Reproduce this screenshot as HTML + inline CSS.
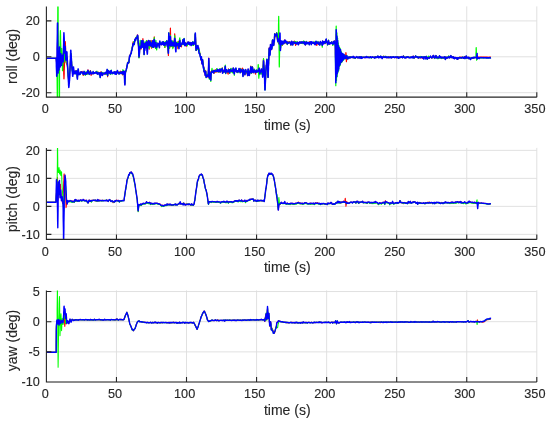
<!DOCTYPE html>
<html><head><meta charset="utf-8"><title>attitude</title>
<style>html,body{margin:0;padding:0;background:#fff}svg{display:block}</style>
</head><body>
<svg width="550" height="421" viewBox="0 0 550 421">
<rect width="550" height="421" fill="#fff"/>
<defs>
<clipPath id="c0"><rect x="46.40" y="6.40" width="490.40" height="90.75"/></clipPath>
<clipPath id="c1"><rect x="46.40" y="147.90" width="490.40" height="91.50"/></clipPath>
<clipPath id="c2"><rect x="46.40" y="290.40" width="490.40" height="91.60"/></clipPath>
</defs>
<path d="M116.46,6.40V97.15M186.51,6.40V97.15M256.57,6.40V97.15M326.63,6.40V97.15M396.69,6.40V97.15M466.74,6.40V97.15M536.80,6.40V97.15M46.40,20.90H536.80M46.40,56.80H536.80M46.40,92.70H536.80" stroke="#dedede" stroke-width="0.9" fill="none"/>
<g clip-path="url(#c0)" fill="none" stroke-linejoin="round">
<path d="M46.4 58.3l.2 0 .2 0 .2 0 .2 0 .2 0 .2 0 .2 0 .2 0 .2 0 .2 0 .2 0 .2 0 .2 0 .1 0 .2 0 .2 0 .2 0 .2 0 .2 0 .2 0 .2 0 .2 0 .2 0 .2 0 .2 0 .2 0 .2 0 .2 0 .2 0 .2 0 .2 0 .2 0 .2 0 .2 0 .2 0 .2 0 .2 0 .2 0 .2 0 .1 0 .2 0 .2 0 .2 0 .2 0 .2 0 .2 0 .2 0 .2 0 .1 0 .1 0 0 0 .1 0 .1 0 0 .3 .1 .8 .1 .7 0 .8 .1 .8 .1 .8 .1 .7 0 .8 .1 .8 .1 .8 0 .7 .1 .8 .1-1 0-3.6 .1-3.5 .1-3.6 .1-3.6 0-3.6 .1-3.6 .1-3.6 0-1 .1 2.9 .1 2.8 0 2.9 .1 2.9 .1 2.9 .1 2.8 0 2.9 .1 2.9 .1 2.8 0 1.1 .1-1.6 .1-1.6 0-1.6 .1-1.6 .1-1.7 .1-1.6 0-1.6 .1-1.6 .1-1.6 0-.8 .1 .6 .1 .5 0 .5 .1 .6 .1 .5 .1 .6 0 .5 .1 .5 .1 .6 0 .5 .1 .6 .1 .5 0 .5 .1 .6 .1 .5 .1 .5 0 .6 .1 .5 .1 .6 0 .1 .1-.4 .1-.5 0-.4 .1-.5 .1-.4 .1-.5 0-.4 .1-.5 .1-.4 0-.5 .1-.4 .1-.5 .1-.4 0-.5 .1-.4 .1-.5 0-.4 .1-.5 .1-.4 0-.1 .1 .3 .1 .4 .1 .3 0 .4 .1 .3 .1 .4 0 .4 .1 .3 .1 .4 0 .3 .1 .4 .1 .4 .1 .3 0 .4 .1 .3 .1 .4 0 .4 .1 .3 .1 .4 0 .9 .1 1.8 .1 1.7 .1 1.8 0 1.7 .1 1.8 .1 1.8 0 1.7 .1 1.8 .1 1.8 0 1.7 .1 .1 .1-2.4 .1-2.4 0-2.4 .1-2.5 .1-2.4 0-2.4 .1-2.4 .1-2.4 0-2.4 .1-2.4 .1-2.1 .1-1.6 0-1.5 .1-1.6 .1-1.5 0-1.6 .1-1.5 .1-1.5 0-.1 .1 2.1 .1 2.2 .1 2.1 0 2.1 .1 2.2 .1 2.1 0 2.1 .1 2.2 .1 2.1 0 1.4 .1 .1 .1 .2 .1 .2 0 .2 .1 .2 .1 .1 0 .2 .1 .2 .1 .2 0 .2 .1 .1 .1 .2 .1 .2 0 .2 .1 .1 .1 .2 0 .2 .1 .2 .1 .2 0 .4 .1 .9 .1 .9 .1 .9 0 .9 .1 .9 .1 .9 0 .9 .1 .9 .1 .9 0 .9 .1 .9 .1 .9 .1 .9 0 .9 .1 .9 .1 .9 0 .9 .1 .9 .1 .9 0 .2 .1-.8 .1-.8 .1-.8 0-.8 .1-.8 .1-.8 0-.9 .1-.8 .1-.8 0-.8 .1-.8 .1-.8 .1-.8 0-.8 .1-.8 .1-.8 0-.8 .1-.8 .1-.8 0-1.1 .1-1.4 .1-1.5 .1-1.4 0-1.4 .1-1.5 .1-1.4 0-1.5 .1-1.4 .1-1.4 0-.5 .1 1 .1 1 .1 1 0 1.1 .1 1 .1 1 0 1 .1 1 .1 1 0 1 .1 1 .1 1 .1 1 0 1 .1 1.1 .1 .6 0 .2 .1 .2 .1 .2 0 .2 .1 .2 .1 .2 .1 .1 0 .2 .1 .2 .1 .2 0 .2 .1 .2 .1 .2 0 .2 .1 .1 .1 .2 .1 .2 0 .2 .1 .2 .1 .2 0 .2 .1 .2 .1 .1 .1 .1 0 0 .1-.1 .1 0 0-.1 .1 0 .1-.1 0 0 .1-.1 .1 0 .1-.1 0 0 .1-.1 .1 0 0-.1 .1 0 .1-.1 0 0 .1-2.2 .1 0 .1 0 0 .1 .1 0 .1 .1 0 0 .1 .4 .1 .4 0 .4 .1 .4 .1 .3 .1 .2 .1-.5 .2-.6 .2-.8 .2-.5 .2 1.4 .2 1.5 .2 2.6 .2 1.7 .2-2.9 .2-2.5 .2-.8 .2-.5 .2 .5 .2 .5 .2 1.1 .2 .8 .2-.3 .2-.2 .2 .1 .2 .1 .2 .2 .2 0 .2-1 .2-.8 .2 .1 .2 0 .1-.4 .2-.3 .2 .3 .2 .1 .2-.3 .2-.2 .2 .7 .2 .7 .2 .2 .2 .4 .2 1.1 .2 .9 .2-1 .2-.9 .2-.9 .2-.7 .2 .7 .2 .6 .2 .2 .2 .2 .2 .2 .2 .2 .2-.4 .2-.5 .2-.6 .2-.4 .1 .5 .2 .6 .2 .7 .2 .4 .2-.9 .2-.7 .2 .5 .2 .1 .2-2 .2-1.6 .2 1.4 .2 1.1 .2-.4 .2-.2 .2 .8 .2 .6 .2-.5 .2-.4 .2 .3 .2 0 .2-1.1 .2-.8 .2 1.1 .2 1.1 .2 1.4 .2 1.1 .1-1 .2-1 .2-.1 .2-.2 .2-.1 .2 0 .2 .6 .2 .3 .2-.7 .2-.5 .2 .6 .2 .4 .2-.5 .2-.4 .2 .1 .2 .1 .2-.1 .2-.1 .2 .1 .2 .1 .2 0 .2-.1 .2-.3 .2-.3 .2 .2 .2 0 .1 0 .2 .1 .2 .2 .2 .3 .2 .6 .2 .4 .2-.4 .2-.5 .2-.6 .2-.5 .2 .4 .2 .4 .2 .4 .2 .4 .2 .3 .2 .2 .2-.8 .2-.5 .2 1.5 .2 1.2 .2-.4 .2-.5 .2-1.7 .2-1.2 .2 1.6 .2 1.3 .1-.7 .2-.6 .2-.1 .2 .1 .2 1 .2 .7 .2-.7 .2-.5 .2-.2 .2-.2 .2-.1 .2-.1 .2 .2 .2 .1 .2 .1 .2 .1 .2 .2 .2 .2 .2-.5 .2-.4 .2 .6 .2 .3 .2-.8 .2-.7 .2-.2 .2-.2 .1 .1 .2 0 .2-1.6 .2-.8 .2 3.9 .2 2.9 .2-2.7 .2-2.4 .2-.5 .2-.4 .2 .9 .2 .8 .2 .7 .2 .6 .2-.7 .2-.6 .2-.2 .2-.1 .2 .9 .2 .6 .2-1 .2-.9 .2-.7 .2-.4 .2 1.6 .2 1.3 .1-.1 .2-.1 .2 0 .2 0 .2-.1 .2 0 .2 .1 .2 0 .2-.3 .2-.3 .2-.2 .2-.1 .2-.1 .2 .1 .2 .6 .2 .5 .2-.3 .2-.2 .2 .2 .2 0 .2-.9 .2-.5 .2 1.2 .2 .9 .2-1.1 .2-.9 .1 .7 .2 .4 .2-.8 .2-.7 .2 .6 .2 .4 .2-.2 .2-.2 .2 .1 .2 .1 .2 .8 .2 .7 .2 0 .2-.1 .2-1 .2-.9 .2 .3 .2 .2 .2-.7 .2-.4 .2 .9 .2 .8 .2-.1 .2-.2 .2-.5 .2-.4 .1 .8 .2 .9 .2 1 .2 .5 .2-1.9 .2-1.5 .2 1.7 .2 1.2 .2-1.6 .2-1.3 .2 .3 .2 .3 .2 .2 .2 4.6 .2 5.8 .2 1.5 .2-5.3 .2-5 .2-2 .2-.1 .2-.4 .2-.5 .2-1.1 .2-1.2 .2-1 .2-1 .1-.5 .2-.7 .2-.8 .2-.8 .2-.4 .2-.4 .2-.7 .2-.5 .2 .6 .2 .3 .2-1.6 .2-1.6 .2-1.8 .2-1.6 .2 0 .2-.2 .2-.9 .2-.8 .2-.4 .2-.5 .2-.5 .2-.6 .2-.8 .2-.9 .2-.6 .2-.7 .1-.9 .2-1 .2-.8 .2-1.1 .2-2.1 .2-1.5 .2 1.6 .2 1.2 .2-1 .2-.9 .2 .2 .2 0 .2-1.5 .2-1.1 .2-.5 .2-.5 .2 0 .2-.1 .2-.8 .2-.7 .2-.2 .2-.2 .2 0 .2 0 .2 .5 .2 .1 .2-1.6 .1-1.4 .2 .6 .2 1.9 .2 3.1 .2 2.9 .2 .5 .2 3 .2 5.3 .2 5.2 .2-2 .2-1.4 .2-4.4 .2-2.7 .2-1.8 .2-1.9 .2-.1 .2 .4 .2 3.3 .2 2.3 .2-3.5 .2-2.9 .2 1.4 .2 1.2 .2 .1 .2 .1 .2-.3 .1-.8 .2-3.3 .2-2.4 .2 3.1 .2 2.8 .2 1 .2 1.5 .2 4.1 .2 2.9 .2-4.5 .2-4 .2-1.1 .2-.8 .2 1.1 .2 .9 .2-.2 .2-.3 .2-.1 .2-.4 .2-2.3 .2-1.7 .2 2.3 .2 2.6 .2 4.1 .2 2.7 .2-4.9 .1-4.3 .2-1.3 .2-1.1 .2 .1 .2 .1 .2 .3 .2 .9 .2 4.1 .2 2.9 .2-4.5 .2-3.9 .2 0 .2 .2 .2 1.9 .2 1.8 .2 1.5 .2 .6 .2-3.7 .2-2.6 .2 4.3 .2 3.4 .2-2 .2-1.6 .2 .5 .2 .2 .2-2 .1-1.6 .2 .4 .2 .5 .2 .7 .2 .7 .2 .5 .2-.2 .2-4.4 .2-3 .2 5.7 .2 4.4 .2-.6 .2-.3 .2 .9 .2 .4 .2-2.8 .2-1.8 .2 2.2 .2 1.7 .2 .2 .2-.1 .2-.5 .2-.5 .2-.9 .2-.7 .2-.3 .1-.2 .2 .4 .2 .2 .2-.5 .2-.4 .2 .4 .2 .6 .2 1.4 .2 1 .2-2.4 .2-2 .2 .5 .2 .5 .2 .2 .2 .1 .2-.1 .2 .1 .2 .5 .2 .5 .2-.5 .2-.4 .2-.2 .2-.2 .2-.2 .2-.2 .2 .3 .1 .2 .2-.6 .2-.4 .2 1.3 .2 1 .2-.9 .2-.8 .2 .4 .2 .7 .2 1.9 .2 1.4 .2-2.3 .2-2.1 .2-.5 .2-.4 .2 .9 .2 .7 .2-.3 .2-.4 .2-1.2 .2-.8 .2 1.9 .2 2.7 .2 .7 .2 .7 .2-.1 .1 .3 .2 5.1 .2 3.1 .2-9.5 .2-7.8 .2 1.6 .2 1.8 .2 3.1 .2 2.6 .2-.2 .2-1.6 .2-9.9 .2-7.4 .2 8.1 .2 7.1 .2 1.9 .2 1.3 .2-2.4 .2-2 .2 .1 .2 0 .2 .3 .2 .3 .2 .2 .2 .4 .2 2.3 .1 1.5 .2-3.6 .2-2.7 .2 2.1 .2 1.9 .2 1 .2-.1 .2-6.9 .2-5.2 .2 4.2 .2 3.9 .2 1.6 .2 1.4 .2 .8 .2 .4 .2-2.3 .2-1.7 .2 1.8 .2 1.6 .2 .6 .2 .3 .2-1.3 .2-.8 .2 2.7 .2 1.7 .2-4.1 .1-3.2 .2 2.6 .2 2 .2-1.1 .2-1.1 .2-1.1 .2-1.2 .2-1.2 .2-.4 .2 2.2 .2 1.6 .2 .7 .2 .3 .2-.5 .2-.1 .2 1.6 .2 1.2 .2-1.4 .2-1.2 .2-.3 .2-.4 .2-.6 .2-.7 .2-1.5 .2-.9 .2 1.9 .1 1.5 .2-1.1 .2-1.1 .2-1.1 .2-.6 .2 2.6 .2 2.4 .2 .6 .2 .4 .2-.5 .2-.6 .2-.9 .2-.5 .2 1.7 .2 1.5 .2 .1 .2-.1 .2-1.3 .2-1 .2 .3 .2 .2 .2-.9 .2-.9 .2-.3 .2-.2 .2 1.2 .1 .9 .2-.5 .2-.3 .2 .6 .2 .4 .2 .1 .2-.1 .2-.4 .2-.5 .2-.3 .2-.1 .2 .7 .2 .6 .2 .5 .2 .3 .2-.9 .2-.6 .2 .8 .2 .6 .2-1.3 .2-1.1 .2 0 .2 0 .2 .4 .2 .5 .2 .9 .1 .7 .2-.5 .2-.6 .2-.7 .2-.7 .2-.2 .2-.1 .2 .8 .2-7.7 .2-1.3 .2 4.2 .2 4.8 .2 4.7 .2 2.6 .2-1.5 .2-1.2 .2-1.1 .2-.7 .2 0 .2 1.5 .2 1.1 .2-.7 .2-.6 .2 .4 .2 .5 .2 .3 .1 .4 .2 .8 .2 .8 .2 1.1 .2 1 .2 .1 .2 .2 .2 1 .2 .9 .2 1.4 .2 1.4 .2 1.6 .2 1.1 .2-1.5 .2-.9 .2 3 .2 2.6 .2-.3 .2-.4 .2-1.3 .2-.9 .2 2.2 .2 1.9 .2 1 .2 .8 .2 0 .1 .4 .2 2.9 .2 2.3 .2-.7 .2-.5 .2 1 .2 1.1 .2 1.7 .2 1.1 .2-2.8 .2-2.4 .2 2.4 .2 2.1 .2-.2 .2 .1 .2 1.1 .2 .8 .2-1.2 .2-.9 .2 .6 .2 .6 .2 .6 .2 .6 .2-3.3 .2-4.6 .2-7.5 .1-3.5 .2 7.1 .2 7.3 .2 5.2 .2 .1 .2-.8 .2-1.1 .2-2.6 .2-1.6 .2 4.3 .2 3.1 .2-4 .2-2.8 .2 0 .2-.2 .2-1.1 .2-.8 .2 .7 .2 .7 .2 0 .2-.1 .2-.7 .2-.5 .2 1.1 .2 1 .2 .2 .1 .2 .2 .3 .2 0 .2-1.4 .2-1.2 .2 .1 .2 0 .2-.6 .2-.2 .2 1.4 .2 1 .2-1.6 .2-1.3 .2 .5 .2 .6 .2 .9 .2 .6 .2-1.2 .2-.9 .2 .3 .2 .2 .2 0 .2 0 .2 .6 .2 .6 .2 .3 .1 .1 .2-1.1 .2-1 .2-.3 .2 0 .2 1.4 .2 1 .2-1.5 .2-1.2 .2 1.4 .2 1.1 .2-.8 .2-.6 .2 0 .2-.2 .2-1.3 .2-1 .2 1.8 .2 1.4 .2-.8 .2-.5 .2 1.5 .2 1.1 .2-1.1 .2-.9 .2 .5 .1 .4 .2 .2 .2 .1 .2-.8 .2-1 .2-2 .2-1.2 .2 3.8 .2 3.1 .2-1.2 .2-1.2 .2-.6 .2-.5 .2 .5 .2 .4 .2 .6 .2 .5 .2 .3 .2 .5 .2 .9 .2 .4 .2-2.9 .2-2.3 .2 .6 .2 .8 .2 1.2 .1 1.1 .2 .3 .2 .1 .2-1.2 .2-.9 .2 .3 .2 .2 .2-1.1 .2-.8 .2 .6 .2 .5 .2 .6 .2 .3 .2-.6 .2-.4 .2 .9 .2 .6 .2-1 .2-1 .2-1.2 .2-.7 .2 2.6 .2 2 .2-1.7 .2-1.2 .2 1.7 .1 1.3 .2-1.5 .2-1.3 .2 .1 .2 .2 .2 .5 .2 .2 .2-1.3 .2-.9 .2 1.6 .2 1.4 .2-.1 .2-.1 .2 .1 .2-.1 .2-.3 .2-.2 .2 .8 .2 .5 .2-.9 .2-.7 .2 .3 .2 0 .2-1.1 .2-1 .2-.2 .1 .1 .2 1.5 .2 1.3 .2 0 .2-.2 .2-1.7 .2-1.4 .2 .5 .2 .7 .2 1.1 .2 1 .2 .1 .2 .1 .2-.7 .2-.9 .2-1.4 .2-.7 .2 4.3 .2 3.4 .2-2.6 .2-2.2 .2 .2 .2 .2 .2-.2 .2-.2 .2-.3 .1 0 .2 2.2 .2 1.8 .2-1.3 .2-1.2 .2-1.1 .2-.7 .2 1.6 .2 1.1 .2-1.1 .2-.9 .2 .4 .2 .4 .2 .3 .2 .4 .2 1.8 .2 1.1 .2-3.4 .2-2.9 .2 .3 .2 .6 .2 2.6 .2 2.2 .2 .3 .2-.1 .2-2 .1-1.8 .2 0 .2-.2 .2-.5 .2-.8 .2-2.3 .2-1.4 .2 3.7 .2 3.1 .2 0 .2-.2 .2-1.8 .2-1.7 .2-1.6 .2-1.2 .2 1.4 .2 1.5 .2 2 .2 1.5 .2-.8 .2-.9 .2-.4 .2-.5 .2-.5 .2-.3 .2 .6 .1 .5 .2 0 .2 .3 .2 1.8 .2 1.4 .2-1.2 .2-1.1 .2 .2 .2 0 .2-1 .2-.7 .2 .3 .2 .3 .2 .6 .1 .2 0 .2 .1-.1 .1-.2 .1-.3 0-.3 .1-.3 .1-.3 0 .1 .1 0 .1 .1 0 0 .1 .1 .1 .1 .1 .2 0 .1 .1 .2 .1 .1 0 .2 .1-.5 .1-.6 0-.7 .1-.6 .1-.6 .1-.5 0 .6 .1 .5 .1 .6 0 .5 .1 .6 .1 .5 0 .4 .1 .5 .1 .5 .1 .5 0 .5 .1-.6 .1-.5 0-.6 .1-.5 .1-.6 0-.3 .1 .2 .1 .2 .1 .1 0 .2 .1 .2 .1-.2 0-.4 .1-.3 .1-.3 0-.3 .1-.3 .1 .1 .1 0 0 0 .1 0 .1 0 0 .1 .1 .2 .1 .2 0 .2 .1 .2 .1 .2 .1-.2 0-.1 .1 .1 .1 0 0 .1 .1 .3 .1 .7 0 .6 .1 .7 .1 .7 .1 .6 0 .2 .1 0 .1-.7 0-1.8 .1-1.9 .1-1.7 0-1.2 .1-1.2 .1-1.2 .1-1.2 0-1.1 .1-1.5 .1-1.8 0-.5 .1 1.4 .1 1.3 0 1.4 .1 1.5 .1 1.5 .1 1.5 0 1.4 .1 1.5 .1 1.4 0 1 .1 .9 .1 .7 0 .7 .1 .6 .1 2.1 .1 2.4 0 2.4 .1 2.3 .1 2.4 0 1.9 .1 0 .1 .1 0-.8 .1-2.2 .1-2.1 .1-1.7 0-1.5 .1-1.5 .1-1.5 0-1.5 .1-1.4 .1-1.9 0-1.7 .1-1.8 .1-1.7 .1-1.5 0-1 .1-.1 .1-.1 0-.1 .1-.1 .1-.2 0-.7 .1-1 .1-.9 .1-.9 0-.9 .1-.9 .1 .1 0 1.5 .1 1.6 .1 1.5 0 1.5 .1 1.1 .1 .7 .1 .8 0 .7 .1 .5 .1 .5 0 1.4 .1 1.5 .1 1.4 0 1.4 .1 1.4 .1 0 .1-2 0-2.1 .1-2 .1-2.1 0-2 .1-2.1 .1-2 0-1.9 .1-1.7 .1-1.6 .1-1.7 0-1.8 .1-1.8 .1-1.7 0-1.8 .1-1 .1 .5 0 .6 .1 .5 .1 .5 .1 .6 0 .5 .1 .9 .1 .8 0 .8 .1 .3 .1-.4 .1-.8 0-1 .1-1.1 .1-1.1 0-1.1 .1-1.1 .1-.8 0-.7 .1-.3 .1 .4 .1 .4 0 .3 .1 .2 .1 .2 0 .1 .1 .2 .1 .2 0 .5 .1 .7 .1 .6 .1 .4 0-.1 .1 0 .1-.5 0-.5 .1-.4 .1-.5 0-.5 .1-.6 .1-.9 .1-.9 0-.9 .1-.9 .1-.9 0-.7 .1-.6 .1-.5 0 0 .1-.1 .1 0 .1 .6 0 .5 .1 .6 .1 .5 0 .6 .1 .4 .1 .4 0 .3 .1 .4 .1 .3 .1 .4 0-.1 .1-.3 .1-.6 0-.6 .1-.5 .1-.6 0-.4 .1-.4 .1-.4 .1-.4 0-.5 .1-1 .1-1.2 0-1.2 .1-1.2 .1-1.2 0-.9 .1 .1 .1 .2 .1 .3 0 .3 .1 .2 .1 .4 0 .3 .1 .4 .1 .3 0 .4 .1 .3 .1-.1 .1-.2 0-.2 .1-.1 .1-.2 0-.1 .1 0 .1-.1 0-.2 .1-.2 .1-.2 .1-.5 0-.6 .1-.6 .1-.6 0-.3 .1 .3 .1 .4 0 .5 .1 .4 .1 .4 .1 .5 0 .6 .1 .8 .1 .8 0 .7 .1 .8 .1 .8 0 .6 .1 .4 .1 .3 .1 .3 0 .3 .1 .1 .1 0 0-.1 .1-.1 .1 0 0-.1 .1 .4 .1 .5 .1 .4 0 .5 .1 .4 .1 .3 0-.3 .1-.3 .1-.3 0-.3 .1-.4 .1 0 .1 .1 0 .2 .1 .1 .1 .2 0 .1 .1 .1 .1 0 0 0 .1 .1 .1 0 .1 0 0-.1 .1-.1 .1-.1 0-.1 .1-.1 .1-.1 0-.1 .1-.1 .1 0 .1-.1 0 0 .1 .1 .1 0 0 .1 .1 .1 .1 .1 0 0 .1 0 .1 0 .1-.1 0 0 .1 0 .1-.2 0-.2 .1-.2 .1-.1 0-.2 .1 .2 .1 .7 .1 .7 0 .7 .1 .7 .1 .7 0-.1 .1-.2 .1-.2 .1-.2 0-.2 .1-.2 .1-.3 0-.3 .1-.3 .1-.2 0-.3 .1-.1 .1-.1 .1 0 0 0 .2 .1 .2 .5 .2 .1 .2-.7 .2-.9 .2-1.4 .2-.4 .2 2 .2 1.2 .2-.6 .2-.4 .2 .2 .2 0 .2-.5 .2-.2 .2 .8 .2 .2 .2-1.2 .1-.2 .2 2 .2 1.1 .2-1.2 .2-.8 .2 .6 .2 .1 .2-.8 .2-.3 .2 .7 .2 .2 .2-.9 .2-.4 .2 .7 .2 .4 .2-.4 .2-.2 .2 .4 .2 .6 .2 1.4 .2 .6 .2-1.5 .2-1.2 .2-.7 .2-.2 .2 1.2 .1 .7 .2-.5 .2 0 .2 1.2 .2 .4 .2-1.6 .2-.9 .2 .6 .2 .4 .2 .1 .2-.3 .2-1.3 .2-.5 .2 1.3 .2 .7 .2-.9 .2 0 .2 2.1 .2 1.1 .2-1.2 .2-.8 .2 .2 .2 .1 .2-.3 .2-.4 .2-.5 .1-.3 .2 .4 .2 .3 .2-.1 .2 .1 .2 .8 .2 .6 .2 0 .2-.2 .2-.7 .2-.5 .2-.2 .2-.1 .2-.2 .2-.2 .2 0 .2 0 .2 .2 .2 .3 .2 .5 .2 .3 .2-.3 .2-.4 .2-.6 .2-.2 .2 .8 .1 .5 .2 0 .2-.2 .2-.7 .2-.4 .2 .6 .2 .3 .2-.4 .2-.1 .2 .8 .2 .4 .2-.5 .2-.1 .2 .5 .2 .5 .2 .8 .2 .3 .2-.8 .2-.8 .2-1.2 .2-.8 .2 .3 .2 .4 .2 .8 .2 .5 .2-.2 .1-.2 .2-.2 .2-.1 .2 .1 .2 0 .2 .2 .2 .1 .2 .1 .2 .2 .2 .5 .2-.1 .2-1.4 .2-.8 .2 .8 .2 .6 .2 .1 .2 .2 .2 .1 .2 .1 .2 0 .2-.1 .2 0 .2-.1 .2 .1 .2 0 .2-.3 .1-.2 .2-.1 .2-.1 .2 .2 .2 .2 .2 .4 .2 0 .2-.8 .2-.6 .2 .2 .2 .3 .2 .9 .2 .7 .2 .4 .2 0 .2-.9 .2-.9 .2-.7 .2-.3 .2 .4 .2 .9 .2 1.6 .2 .8 .2-1.4 .2-1 .2 .2 .1 .2 .2 0 .2 .1 .2-.1 .2-.1 .2-.4 .2 0 .2 1.1 .2 .3 .2-1.4 .2-.6 .2 1.7 .2 .7 .2-1.6 .2-.9 .2 .6 .2 .3 .2-.5 .2-.1 .2 .7 .2 .3 .2-.7 .2 .1 .2 1.8 .2 .6 .2-2.7 .1-1.7 .2 .5 .2 .5 .2 .6 .2 .2 .2-.5 .2-.4 .2 .1 .2 .2 .2 .4 .2 .4 .2 .4 .2 .3 .2-.3 .2-.6 .2-1.5 .2-1.3 .2-.5 .2 .1 .2 1.5 .2 1.1 .2 .1 .2 .2 .2 .2 .2 .4 .2 1.1 .1 .4 .2-.8 .2-1 .2-1.7 .2-.7 .2 1.9 .2 1.4 .2 .2 .2 .1 .2 .1 .2-.2 .2-.9 .2-.5 .2 .5 .2 .3 .2 .1 .2 .1 .2-.1 .2-.3 .2-.8 .2-.4 .2 .7 .2 .6 .2 .4 .2 .4 .2 .6 .1 .2 .2-.7 .1-.2 .1-.2 .1-.4 0-.4 .1-.3 .1-.4 0-.3 .1-.1 .1 .2 0 .3 .1 .3 .1 .3 .1 .2 0-.3 .1-.4 .1-.4 0-.4 .1-.4 .1-.3 0 .3 .1 .3 .1 .3 .1 .3 0 .3 .1 .2 .1 .2 0 .2 .1 .3 .1 .6 0 .8 .1 .3 .1 .3 .1 3.9 0 3.2 .1 3.2 .1 3.4 0 3.6 .1 3.7 .1 3.7 0 3.7 .1 3.7 .1-1.6 .1-9.6 0-9.6 .1-9.9 .1-10.1 0-2.4 .1 9.2 .1 9.3 0 9.2 .1 9.2 .1 2.4 .1-8 0-7.9 .1-7.9 .1-7.9 0-1.8 .1 7.5 .1 7 0 7.1 .1 7.1 .1 1.6 .1-6.6 0-6.5 .1-6.1 .1-6.2 0-1.2 .1 6.1 .1 6.1 0 5.9 .1 5.9 .1 1.5 .1-5 0-5.2 .1-5.1 .1-5.1 0-1.2 .1 4.7 .1 4.6 .1 4.7 0 4.5 .1 .9 .1-4.3 0-4.3 .1-4.3 .1-4.3 0-1.2 .1 3.5 .1 3.4 .1 3.5 0 3.4 .1 .9 .1-3 0-3.1 .1-3 .1-3 0-.6 .1 3 .1 3 .1 3 0 2.9 .1 .8 .1-2.7 0-3.1 .1-3.1 .1-3.2 0-1.1 .1 1.8 .1 2.5 .1 2.8 0 2.9 .1 1 .1-1.5 0-1.6 .1-2.1 .1-2 0-.6 .1 1.9 .1 1.8 .1 1.9 0 1.9 .1 .5 .1-1.6 0-1.6 .1-1.6 .1-1.7 0-.4 .1 1.4 .1 1.4 .1 1.4 0 1.4 .1 .3 .1-1.4 0-1.4 .1-1.4 .1-1.4 0-.3 .1 1.2 .1 1.3 .1 1.2 0 1.2 .1 .4 .1-.9 0-.8 .1-.9 .1-.9 0 0 .1 .9 .1 .7 .1 .7 0 .7 .1 0 .1-1.1 0-1 .1-.9 .1-1 0-.3 .1 .6 .1 .7 .1 .9 0 1 .1 .4 .1-.5 0-.5 .1-.6 .1-.8 0-.3 .1 .5 .1 .5 .1 .5 0 .6 .1 .2 .1-.4 0-.5 .1-.4 .1-.6 0-.2 .1 .3 .1 .4 .1-.9 0-.8 .1-.9 .1-.8 0-.8 .1 .6 .1 1.7 0 1.7 .1 1.7 .1 1.6 .1 1.7 0 .2 .1-.9 .1-.8 0-.8 .1-.9 .1-.8 0-1.3 .1 .4 .1 .4 .1 .4 0 .4 .1 .1 .1-.2 0-.1 .1-.2 .1-.2 0 0 .1 .4 .1 .3 .1 .3 0 .3 .1 .1 .1-.1 0-.2 .1-.2 .1-.4 0-.2 .1 0 .1-.1 .1 0 0 .2 .1 .1 .1-.1 0-.2 .1-.1 .1-.1 0-.1 .1 .1 .1 .2 .2 .3 .2-.4 .2-.2 .2 .5 .2 .1 .2-.8 .2-.3 .2 .7 .2 .2 .2 0 .1-.1 .2 0 .2-.1 .2-.1 .2-.1 .2 .3 .2 .2 .2 0 .2-.1 .2-.6 .2-.4 .2 .5 .2 .5 .2 .1 .2 .2 .2-.1 .2 0 .2-.1 .2-.1 .2 .5 .2 .4 .2-.2 .2-.3 .2-.4 .2-.4 .2 .1 .1 .1 .2-.1 .2-.1 .2 .1 .2 .1 .2 .1 .2 .2 .2-.3 .2-.3 .2 .4 .2 .4 .2-.3 .2-.2 .2 .1 .2 .2 .2-.1 .2-.1 .2-.4 .2-.4 .2 .1 .2 0 .2 .5 .2 .5 .2 0 .2 0 .2-.3 .1-.3 .2 .1 .2 0 .2 0 .2 0 .2 0 .2 .1 .2 .1 .2 .1 .2-.1 .2-.1 .2-.1 .2 0 .2 0 .2 .1 .2 0 .2-.1 .2 .4 .2 .2 .2-.3 .2-.2 .2 0 .2 .1 .2-.1 .2-.1 .2-.2 .1-.1 .2 .1 .2 .1 .2-.1 .2-.1 .2 .3 .2 .2 .2-.1 .2-.1 .2 .2 .2 .2 .2-.4 .2-.3 .2 .3 .2 .3 .2-.1 .2 0 .2-.2 .2-.1 .2 0 .2 0 .2 .1 .2 .1 .2 .1 .2 .1 .2 0 .1 .1 .2-.1 .2-.1 .2-.2 .2-.1 .2 .1 .2 .2 .2-.1 .2 0 .2 .1 .2 .1 .2 0 .2-.1 .2-.3 .2-.2 .2 .5 .2 .5 .2-.4 .2-.3 .2 0 .2 .1 .2-.1 .2-.1 .2 .2 .2 0 .2-.1 .1-.1 .2 .1 .2 .1 .2-.1 .2-.1 .2-.5 .2-.4 .2 .4 .2 .3 .2 .3 .2 .3 .2-.2 .2-.2 .2-.2 .2-.1 .2 .3 .2 .3 .2-.2 .2-.2 .2-.4 .2-.2 .2 .3 .2 .4 .2 0 .2 0 .2 .1 .1 .1 .2 .6 .2 .5 .2-.7 .2-.7 .2 .3 .2 .2 .2-.3 .2-.4 .2-.3 .2-.3 .2 .4 .2 .5 .2 .1 .2 .1 .2-.1 .2-.1 .2-.1 .2-.1 .2-.3 .2-.2 .2 .6 .2 .6 .2-.1 .2 0 .2 0 .1 0 .2-.1 .2-.1 .2 0 .2 0 .2 .3 .2 .2 .2-.1 .2-.1 .2-.6 .2-.5 .2 .4 .2 .3 .2 0 .2-.1 .2 .1 .2 .1 .2-.2 .2-.3 .2 .1 .2 0 .2 .5 .2 .4 .2-.2 .2-.3 .2-.1 .1-.1 .2-.1 .2-.1 .2 .1 .2 .1 .2 .2 .2 .1 .2-.3 .2-.2 .2 .3 .2 .4 .2-.1 .2-.1 .2 0 .2 .1 .2-.2 .2-.2 .2 0 .2 .1 .2 0 .2 0 .2 .3 .2 .3 .2-.6 .2-.5 .2 .3 .1 .2 .2 .2 .2 .1 .2-.4 .2-.3 .2 .5 .2 .5 .2 .2 .2 .2 .2-.8 .2-.8 .2 .5 .2 .5 .2 0 .2 0 .2-.1 .2-.1 .2-.1 .2-.2 .2-.1 .2-.1 .2-.2 .2-.1 .2 .2 .2 .3 .2 .2 .1 .2 .2 .1 .2 .1 .2-.2 .2-.3 .2-.7 .2-.7 .2 .6 .2 .6 .2 .1 .2 .1 .2 0 .2 .1 .2 0 .2 0 .2 0 .2 .1 .2 .1 .2 .1 .2-.1 .2-.2 .2-.1 .2-.1 .2 .2 .2 .2 .2-.2 .1-.1 .2-.2 .2-.1 .2 0 .2 0 .2 .2 .2 .1 .2 0 .2-.1 .2 .1 .2 .1 .2 .1 .2 .1 .2-.1 .2 0 .2-.2 .2-.1 .2 .1 .2 .1 .2 .1 .2 .1 .2-.1 .2-.1 .2 .1 .2 .1 .2-.3 .1-.4 .2 0 .2-.1 .2-.3 .2-.3 .2 .8 .2 .7 .2 .3 .2 .3 .2-.4 .2-.3 .2-.3 .2-.2 .2-.1 .2-.1 .2-.3 .2-.3 .2 .4 .2 .4 .2 0 .2 0 .2-.1 .2 0 .2 .2 .2 .2 .2-.1 .1-.1 .2 .2 .2 .2 .2 .1 .2 .2 .2 .2 .2 .2 .2-.8 .2-.8 .2 .6 .2 .5 .2 0 .2-.1 .2-.4 .2-.3 .2 .5 .2 .5 .2-.1 .2-.1 .2-.5 .2-.5 .2 .3 .2 .2 .2 .6 .2 .5 .2-.2 .1-.3 .2-.4 .2-.3 .2 .1 .2 .2 .2-.3 .2-.2 .2-.1 .2-.1 .2 .2 .2 .3 .2 .4 .2 .3 .2-.5 .2-.5 .2 .8 .2 .7 .2-1.1 .2-1 .2 .3 .2 .2 .2 .3 .2 .3 .2 .6 .2 .6 .2-.7 .1-.5 .2 .5 .2 .4 .2-.4 .2-.3 .2-.1 .2-.1 .2 .4 .2 .2 .2-.2 .2-.1 .2-.3 .2-.3 .2-.3 .2-.3 .2 .2 .2 .3 .2 0 .2 .1 .2 .5 .2 .5 .2-.3 .2-.2 .2 0 .2 .1 .2-.5 .1-.5 .2-.5 .2-.5 .2-.1 .2-.1 .2 .8 .2 .7 .2 .7 .2 .6 .2-.6 .2-.5 .2 .2 .2 .1 .2 .2 .2 0 .2-1.1 .2-1 .2 1 .2 .9 .2-.1 .2 0 .2-.1 .2-.1 .2 .1 .2 0 .2 .6 .1 .5 .2-.5 .2-.5 .2-.1 .2-.1 .2 .5 .2 .3 .2-1 .2-1 .2 .8 .2 .6 .2-.2 .2-.2 .2 .2 .2 .2 .2 .4 .2 .3 .2-.2 .2-.3 .2-.2 .2-.2 .2 .5 .2 .5 .2-.2 .2-.1 .2-.3 .1-.2 .2 0 .2 .1 .2 .3 .2 .3 .2-.4 .2-.4 .2 0 .2 0 .2-.2 .2-.1 .2 1.3 .2 1.2 .2-1.3 .2-1.2 .2 .2 .2 .1 .2 .1 .2 .2 .2 .3 .2 .3 .2-.3 .2-.3 .2 0 .2-.1 .2-.3 .1-.3 .2-.3 .2-.2 .2 .7 .2 .6 .2 0 .2-.1 .2 0 .2-.1 .2-.5 .2-.4 .2 .3 .2 .2 .2-.7 .2-.6 .2 .8 .2 .8 .2 .1 .2 .1 .2-.5 .2-.5 .2 .5 .2 .5 .2-.2 .2-.1 .2 .4 .1 .4 .2-.8 .2-.6 .2 1 .2 .8 .2-.3 .2-.2 .2-.1 .2 0 .2-.1 .2-.1 .2-.1 .2 0 .2 .3 .2 .3 .2 0 .2 0 .2-.2 .2-.3 .2 .7 .2 .6 .2 .1 .2 .1 .2-.1 .2-.1 .2-.4 .2-.5 .1-.2 .2-.3 .2 .1 .2 .1 .2-.3 .2-.3 .2 0 .2 .1 .2 .4 .2 .3 .2-.3 .2-.3 .2-.2 .2-.2 .2 .5 .2 .4 .2-.1 .2-.1 .2 0 .2 0 .2-.2 .2-.2 .2 .1 .2 .1 .2 .4 .2 .4 .1-.2 .2-.1 .2-.2 .2-.2 .2-.6 .2-.5 .2 .9 .2 .9 .2-.7 .2-.6 .2 .3 .2 .2 .2-.7 .2-.5 .2 .9 .2 .9 .2 .1 .2 0 .2-.1 .2-.1 .2-.4 .2-.3 .2 .3 .2 .2 .2 .4 .2 .3 .1-.6 .2-.6 .2 .4 .2 .4 .2 .3 .2 .2 .2-.2 .2-.1 .2 .6 .2 .4 .2-.5 .2-.6 .2 0 .2 0 .2-.1 .2 0 .2-.2 .2-.1 .2-.1 .2-.1 .2 .4 .2 .4 .2-.2 .2-.2 .2-.2 .2-.1 .1-.2 .2-.1 .2 .2 .2 .2 .2-.1 .2-.1 .2 0 .1 0 .1 0 0 0 .1 0 .1 0 0 0 .1 0 .1 0 .1-.1 0 0 .1 0 .1-.1 0 0 .1 0 .1 .1 0 .1 .1 .1 .1 .1 .1 .1 0 .1 .1 0 .1 0 0-.1 .1 0 .1 0 0-.2 .1-.2 .1-.2 .1-.2 0-.1 .1-.1 .1 .1 0 .1 .1 0 .1 .1 0 .1 .1 .1 .1 0 .1 .1 0 .1 .1 0 .1-.6 0 .1 .1 .1 .1 0 0 .1 .1 .1 .1 0 .1-.1 0 0 .1 0 .1-.1 0 0 .1 .1 .1 .2 0 .1 .1 .2 .1 .1 .1 0 0-.2 .1-.1 .1-.2 0-.1 .1-.2 .1 0 0 0 .1 0 .1 0 .1 0 0 0 .1 0 .1 0 .2 .1 .2 0 .2 0 .2 0 .1-.1 .2 0 .2 .1 .2-.1 .2-.1 .2 0 .2 .2 .2 0 .2 0 .2-.1 .2 0 .2 0 .2 0 .2 .1 .2 0 .2 0 .2 0 .2 0 .2 0 .2 0 .2 0 .2 0 .2-.1 .2 0 .2 0 .2 .1 .1 0 .2 0 .2 0 .2 0 .2 0 .2 .1 .2 0 .2-.1 .2 0 .2 0 .2 .1 .2 0 .2 0 .2 0 .2-.1 .2 0 .2-.1 .2 .1 .2 .1 .2-.1 .2-.1 .2 .1 .2 0 .2 0 .2 0" stroke="#ff0000" stroke-width="1.20"/>
<path d="M46.4 58.3l.2 0 .2 0 .2 0 .2 0 .2 0 .2 0 .2 0 .2 0 .2 0 .2 0 .2 0 .2 0 .2 0 .1 0 .2 0 .2 0 .2 0 .2 0 .2 0 .2 0 .2 0 .2 0 .2 0 .2 0 .2 0 .2 0 .2 0 .2 0 .2 0 .2 0 .2 0 .2 0 .2 0 .2 0 .2 0 .2 0 .2 0 .2 0 .2 0 .1 0 .2 0 .2 0 .2 0 .2 0 .2 0 .2 0 .2 0 .2 0 .1 0 .1 0 0 0 .1 0 .1 0 0 .2 .1 .5 .1 .4 0 .5 .1 .5 .1 .5 .1 .4 0 .5 .1 .5 .1 .4 0 .5 .1 .5 .1 4.3 0 10.1 .1 10 .1 10.1 .1 10 0-1.6 .1-18.9 .1-19 0-19 .1-19 .1-18.9 0-17.4 .1 0 .1 3.3 .1 11.7 0 11.7 .1 11.6 .1 11.7 0 7.7 .1 1.8 .1 1.8 0 1.8 .1 1.8 .1 1.8 .1 .5 0-1.5 .1-1.5 .1-1.5 0-1.5 .1-1.5 .1 7.7 0 21.6 .1 21.5 .1 4.3 .1-16.5 0-18 .1-11.9 .1-2.9 0-2.8 .1-2.9 .1-2.9 0-2.9 .1-2.9 .1-2.9 .1-2.9 0-2.9 .1-2.8 .1-2.9 0-.5 .1 3.1 .1 3.1 0 3.1 .1 3.1 .1 3.1 .1 3.1 0 3.1 .1 3.1 .1 3.1 0 1.4 .1-1.3 .1-1.2 .1-1.3 0-1.2 .1-1.3 .1-1.3 0-1.2 .1-1.3 .1-1.2 0 .2 .1 2.3 .1 2.3 .1 2.4 0 2.3 .1 2.3 .1 2.4 0 2.3 .1 2.3 .1 2.4 0 .9 .1-1 .1-1.1 .1-1.1 0-1.1 .1-1.1 .1-1 0-1.1 .1-1.1 .1-1.1 0-1.3 .1-1.8 .1-1.8 .1-1.8 0-1.8 .1-1.8 .1-1.8 0-1.8 .1-1.8 .1-1.8 0-.5 .1 1.4 .1 1.4 .1 1.4 0 1.4 .1 1.5 .1 1.4 0 1.4 .1 1.4 .1 1.4 0 1.4 .1 1.4 .1 1.4 .1 1.4 0 .7 .1-.6 .1-.6 0-.5 .1-.6 .1-.5 0-.6 .1-.6 .1-.5 .1-.6 0-.5 .1-.6 .1-.6 0-.5 .1-.6 .1-.6 0 0 .1 .6 .1 .6 .1 .6 0 .7 .1 .6 .1 .6 0 .7 .1 .6 .1 .6 0 .6 .1 .7 .1 .6 .1 .6 0 .7 .1 .6 .1 .6 0 .6 .1 .7 .1 .6 0 .7 .1 .8 .1 .8 .1 .8 0 .8 .1 .8 .1 .8 0 .9 .1 .8 .1 .8 0 .8 .1 .8 .1 .8 .1 .8 0 .8 .1 .8 .1 .8 0 .8 .1 .8 .1 .8 0 .2 .1-.9 .1-.9 .1-.9 0-.9 .1-.9 .1-.9 0-.9 .1-.9 .1-.9 0-.9 .1-.9 .1-.9 .1-.9 0-.9 .1-.9 .1-.9 0-.9 .1-.9 .1-.9 0-.9 .1-.9 .1-.9 .1-.9 0-.9 .1-.9 .1-.9 0-.9 .1-.9 .1-.9 0-.9 .1-.9 .1 0 .1 1.1 0 1.1 .1 1.1 .1 1.1 0 1.2 .1 1.1 .1 1.1 0 1.1 .1 1.2 .1 1.1 .1 1.1 0 1.1 .1 1.1 .1 1.2 0 1.1 .1 .7 .1 .1 0 .1 .1 0 .1 .1 .1 .1 0 .1 .1 .1 .1 0 0 .1 .1 .1 .1 .1 0 .1 .1 .1 .1 0 .1 .1 0 .1 .1 .1 .1 .1 0 0 .1 .1 .1 .1 .1 .1 0 0 .1 0 .1 0 0 0 .1 0 .1 0 0 0 .1 0 .1 0 .1 0 0 0 .1 0 .1 0 0 0 .1 0 .1 0 0 0 .1-.7 .1-.2 .1-.3 0-.2 .1-.2 .1-.2 0-.2 .1 .6 .1 .6 0 .5 .1 .6 .1 .5 .1 .3 .1-.9 .2-.8 .2-.8 .2-.6 .2 1.2 .2 1.3 .2 2.9 .2 1.9 .2-3.5 .2-3.1 .2-1.2 .2-.8 .2 1.5 .2 1.4 .2 1.1 .2 .8 .2-.1 .2-.1 .2 .2 .2 .2 .2-.1 .2-.2 .2-1 .2-.8 .2 .2 .2 .1 .1-.5 .2-.4 .2 .3 .2 .3 .2 0 .2 .1 .2 .4 .2 .3 .2 0 .2 .1 .2 .6 .2 .5 .2-.4 .2-.6 .2-1.2 .2-.9 .2 .7 .2 .6 .2 .8 .2 .8 .2 .6 .2 .3 .2-1 .2-1.1 .2-.9 .2-.7 .1 .6 .2 .6 .2 1 .2 .6 .2-.8 .2-.6 .2 .6 .2 .2 .2-1.8 .2-1.3 .2 1.6 .2 1.2 .2-.8 .2-.4 .2 1.2 .2 1.1 .2-.5 .2-.4 .2-.5 .2-.6 .2-.9 .2-.7 .2 1.2 .2 1.1 .2 0 .2 0 .1 .2 .2 0 .2-.3 .2-.2 .2 .4 .2 .3 .2-.2 .2-.3 .2-.8 .2-.5 .2 .6 .2 .5 .2 .5 .2 .2 .2-.4 .2-.5 .2-.2 .2-.1 .2 .4 .2 .3 .2-.4 .2-.3 .2-.3 .2-.1 .2 .5 .2 .4 .1-.4 .2-.5 .2-.6 .2-.3 .2 1.4 .2 1.2 .2-.3 .2-.4 .2-.2 .2-.2 .2-.1 .2 .1 .2 1 .2 .8 .2-.4 .2-.4 .2-.5 .2 0 .2 2.6 .2 1.9 .2-1.9 .2-1.7 .2-.6 .2-.4 .2 .7 .2 .4 .1-1.2 .2-1 .2 .9 .2 .9 .2 .8 .2 .5 .2-1.5 .2-1.1 .2 .7 .2 .6 .2 0 .2 0 .2-.1 .2 0 .2-.3 .2-.2 .2 0 .2 0 .2-.4 .2-.2 .2 .8 .2 .5 .2-.4 .2-.3 .2 .7 .2 .5 .1-1 .2-1.1 .2-1.6 .2-1 .2 3.5 .2 2.6 .2-2.4 .2-2.1 .2-.6 .2-.4 .2 .6 .2 .7 .2 1.2 .2 .9 .2-.6 .2-.5 .2-.4 .2-.2 .2 .8 .2 .7 .2 .7 .2 .2 .2-2.5 .2-1.8 .2 1.6 .2 1.3 .1 .1 .2 0 .2 .3 .2 .3 .2-.4 .2-.3 .2 .4 .2 .2 .2-.1 .2-.2 .2-.2 .2-.3 .2-.6 .2-.4 .2 .7 .2 .7 .2-.1 .2 0 .2-.3 .2-.3 .2-.2 .2-.1 .2 .6 .2 .6 .2-.2 .2-.2 .1 .2 .2 0 .2-.8 .2-.6 .2 .6 .2 .5 .2-.5 .2-.4 .2 .4 .2 .3 .2 .6 .2 .4 .2 .2 .2 .1 .2-1 .2-.7 .2 .3 .2 .2 .2-.5 .2-.3 .2 .5 .2 .5 .2 0 .2 0 .2-.4 .2-.3 .1 .5 .2 .5 .2 .6 .2 .1 .2-2.5 .2-1.8 .2 2.3 .2 1.7 .2-1.7 .2-1.3 .2 .8 .2 .8 .2 .3 .2 4.7 .2 5.1 .2 1 .2-4.8 .2-4.5 .2-2 .2-.1 .2-.8 .2-.8 .2-.8 .2-.8 .2-1 .2-1 .1-.6 .2-.7 .2-1.4 .2-1.2 .2 .2 .2 .1 .2-.9 .2-.7 .2 .9 .2 .5 .2-1.6 .2-1.7 .2-1.6 .2-1.4 .2 0 .2-.1 .2-1 .2-.8 .2-.4 .2-.3 .2-.5 .2-.6 .2-1 .2-1 .2-.6 .2-.8 .1-1.6 .2-1.5 .2 .2 .2-.1 .2-1.3 .2-1.1 .2-.2 .2-.3 .2-1.3 .2-.9 .2 1.7 .2 1.3 .2-2.2 .2-1.6 .2-.4 .2-.3 .2 .3 .2 .2 .2-1 .2-.9 .2-1 .2-.8 .2 0 .2 .1 .2 .7 .2 .4 .2-1.2 .1-1 .2-.1 .2 1.4 .2 3.9 .2 3.4 .2 .2 .2 2.6 .2 5.4 .2 5.3 .2-2.2 .2-2 .2-5.3 .2-3.9 .2-2.2 .2-2 .2 2 .2 2.2 .2 2.2 .2 1.5 .2-2.7 .2-2 .2 1.9 .2 1.2 .2-3.2 .2-2.4 .2 2.6 .1 1.8 .2-2.8 .2-2.1 .2 2.6 .2 2 .2-1.4 .2-.2 .2 6.4 .2 4.7 .2-5.2 .2-4.7 .2-1.7 .2-1.2 .2 2.2 .2 1.6 .2-1.5 .2-1.1 .2 1.5 .2 .9 .2-2.8 .2-2 .2 2.8 .2 2.9 .2 3.2 .2 2.2 .2-3.7 .1-3.4 .2-1.5 .2-1.2 .2 .3 .2 .5 .2 .8 .2 1 .2 2.3 .2 1.6 .2-2.4 .2-2.4 .2-1.8 .2-1.3 .2 2.2 .2 2 .2 .9 .2 .5 .2-1.5 .2-1 .2 2.1 .2 1.4 .2-2.9 .2-2.4 .2 1.3 .2 1.4 .2 1.8 .1 1.2 .2-2.4 .2-1.7 .2 1.5 .2 1 .2-1.6 .2-1.8 .2-3.1 .2-1.9 .2 4.6 .2 3.5 .2-.9 .2-.3 .2 2.6 .2 1.3 .2-4.9 .2-3.1 .2 3.9 .2 3.2 .2 1.8 .2 .8 .2-2.3 .2-1.9 .2-1.5 .2-1.2 .2 .2 .1 .3 .2 .4 .2 .2 .2-.4 .2-.2 .2 1.1 .2 1 .2 .9 .2 .3 .2-2.9 .2-2.3 .2 .5 .2 .5 .2 .4 .2 .3 .2-.4 .2-.2 .2 .6 .2 .5 .2 0 .2 0 .2-.2 .2-.4 .2-.8 .2-.5 .2 1.1 .1 .8 .2-1.3 .2-.9 .2 1.9 .2 1.4 .2-1.7 .2-1.4 .2 .8 .2 .9 .2 2.2 .2 1.5 .2-1.9 .2-1.8 .2-1.2 .2-.8 .2 1 .2 .9 .2 .5 .2 .1 .2-2.1 .2-1.4 .2 2 .2 3 .2 1 .2 1.1 .2-.3 .1 0 .2 4.1 .2 1.8 .2-11.6 .2-9 .2 6 .2 5.5 .2 2.4 .2 1.7 .2-2.1 .2-2.5 .2-5 .2-3.3 .2 5.8 .2 4.8 .2-.7 .2-.8 .2-1.4 .2-.9 .2 2.6 .2 1.7 .2-3.3 .2-2.3 .2 4.3 .2 3.4 .2-.9 .1-1.2 .2-2.9 .2-2.1 .2 2.1 .2 1.7 .2 .3 .2-.5 .2-5.3 .2-4.3 .2 2.5 .2 2.5 .2 2.2 .2 1.9 .2 .1 .2 0 .2-.8 .2-.8 .2-.3 .2 0 .2 2 .2 1.4 .2-2.5 .2-1.7 .2 2.3 .2 1.7 .2-1.9 .1-1.3 .2 2.5 .2 1.8 .2-2 .2-1.9 .2-1.5 .2-1.5 .2-1.8 .2-.5 .2 4.1 .2 3 .2 .4 .2 0 .2-.9 .2-.6 .2 .6 .2 .4 .2-.4 .2-.4 .2 0 .2-.1 .2-.4 .2-.6 .2-2 .2-1.3 .2 2.8 .1 2.1 .2-1.5 .2-1.5 .2-1.9 .2-1.3 .2 2.8 .2 2.5 .2 .7 .2 .5 .2-.8 .2-.8 .2 0 .2 0 .2 .6 .2 .5 .2-.6 .2-.4 .2-.1 .2 .1 .2 1.5 .2 1 .2-1.5 .2-1.4 .2-.4 .2-.2 .2 .6 .1 .6 .2-.2 .2-.1 .2 .5 .2 .4 .2-.2 .2-.2 .2-.1 .2-.2 .2 .1 .2 0 .2-.1 .2 .2 .2 1 .2 .7 .2-1.3 .2-1 .2 1.3 .2 1.1 .2-.6 .2-.6 .2-1.6 .2-1.2 .2 .7 .2 .8 .2 1.3 .1 1.1 .2-.2 .2-.5 .2-1.6 .2-1.2 .2 .8 .2 .7 .2-.2 .2-8.5 .2-1.2 .2 4.5 .2 5.4 .2 5.1 .2 2 .2-2 .2-1.1 .2-1.1 .2-.3 .2 .2 .2 2 .2 1.5 .2-2.2 .2-1.6 .2 1.2 .2 1 .2 .1 .1 .2 .2 .9 .2 .8 .2 .1 .2 .3 .2 1.4 .2 1.4 .2 1.2 .2 1.1 .2 .6 .2 .7 .2 1.6 .2 1.2 .2-1.5 .2-1 .2 2.5 .2 2.3 .2 .5 .2 .1 .2-1.6 .2-1.2 .2 1.5 .2 1.6 .2 2.5 .2 2.1 .2-.1 .1 .1 .2 2 .2 1.6 .2-1.5 .2-.8 .2 2.4 .2 2 .2-.9 .2-.7 .2-.2 .2-.1 .2 3.5 .2 2.8 .2-1.6 .2-1.2 .2 1.1 .2 .7 .2-1.2 .2-1.1 .2 .2 .2 .2 .2 .7 .2 .9 .2-2.3 .2-3.6 .2-6.8 .1-2.9 .2 7.2 .2 7.3 .2 4.2 .2-.8 .2 0 .2-.5 .2-3.3 .2-2 .2 5.1 .2 3.5 .2-5.4 .2-3.9 .2 .1 .2-.3 .2-2 .2-1.5 .2 1.7 .2 1.4 .2 .1 .2 .2 .2-.1 .2 0 .2 .2 .2 0 .2-.7 .1-.6 .2 .5 .2 .4 .2-.4 .2-.2 .2 .6 .2 .4 .2-.9 .2-.7 .2 .2 .2 .2 .2-.1 .2-.3 .2-.9 .2-.7 .2 1.4 .2 1.1 .2-.3 .2-.3 .2 .2 .2 .1 .2-.2 .2 0 .2 .8 .2 .7 .2-.2 .1-.3 .2-.6 .2-.6 .2-1.2 .2-.7 .2 1.6 .2 1.2 .2-1.2 .2-1 .2 .4 .2 .5 .2 .6 .2 .4 .2-.4 .2-.5 .2-1.3 .2-.7 .2 2.3 .2 1.9 .2-.7 .2-.5 .2 .2 .2 .1 .2-.6 .2-.4 .2 1 .1 .9 .2-.2 .2-.5 .2-1.8 .2-1.8 .2-1.9 .2-1 .2 4.7 .2 3.8 .2-1.7 .2-1.5 .2-.5 .2-.3 .2 1 .2 .8 .2 0 .2 0 .2 .3 .2 .2 .2-.1 .2-.2 .2-1.3 .2-1.1 .2 .2 .2 .1 .2 .3 .1 .5 .2 1.7 .2 1.4 .2-.6 .2-.6 .2-.2 .2-.4 .2-1.6 .2-1.5 .2-.3 .2 0 .2 1.9 .2 1.6 .2-.6 .2-.3 .2 1.2 .2 .8 .2-1.8 .2-1.6 .2-.1 .2 0 .2 1.2 .2 .8 .2-1.5 .2-.8 .2 3.6 .1 2.6 .2-2.7 .2-2.4 .2-.6 .2-.6 .2 .3 .2 .2 .2-.7 .2-.3 .2 1.8 .2 1.4 .2-.4 .2-.3 .2-.1 .2 0 .2 .3 .2 .5 .2 .7 .2 .4 .2-1.4 .2-1.1 .2 .6 .2 .3 .2-1.1 .2-1 .2 .5 .1 .5 .2 1.1 .2 .8 .2-.6 .2-.8 .2-1 .2-.8 .2 .6 .2 .6 .2 1 .2 .9 .2 0 .2-.1 .2-.7 .2-.7 .2-.6 .2 .1 .2 3.5 .2 2.5 .2-2.9 .2-2.6 .2-.3 .2-.1 .2 1 .2 .8 .2-.4 .1-.1 .2 1.6 .2 1.1 .2-1.5 .2-1.4 .2-.7 .2-.5 .2 .4 .2 .4 .2 .6 .2 .6 .2 .5 .2 .3 .2 0 .2 .2 .2 1.5 .2 .8 .2-2.7 .2-2.4 .2 .3 .2 .5 .2 1.9 .2 1.8 .2 .2 .2 0 .2-1.4 .1-1.4 .2-1.1 .2-.7 .2 1 .2 .5 .2-2.9 .2-1.9 .2 3.6 .2 3 .2-.9 .2-.9 .2-.5 .2-.8 .2-2 .2-1.5 .2 1.7 .2 1.6 .2 1.3 .2 .9 .2-1 .2-.9 .2 .1 .2 0 .2-.9 .2-.6 .2 .8 .1 .9 .2 .9 .2 .7 .2-.3 .2-.4 .2-.5 .2-.3 .2 .7 .2 .5 .2-.5 .2-.4 .2 .1 .2 .1 .2 .3 .1 .1 0 .1 .1 .1 .1 0 .1 .1 0 .1 .1 0 .1-1.5 0-1.3 .1-1.2 .1-1.2 0-1.2 .1-1.3 .1 0 .1 1.9 0 1.8 .1 1.9 .1 1.8 0 1.8 .1 1.9 .1 1.8 0 .8 .1-1 .1-.9 .1-.9 0-.9 .1-.9 .1-1 0-.9 .1 1 .1 .4 0-.1 .1 0 .1 0 .1-.1 0 0 .1-.5 .1-.5 0-.5 .1-.5 .1-.5 0-.1 .1 .3 .1 .3 .1 .3 0 .3 .1 .3 .1 .4 0 .4 .1 .4 .1 .5 0 .4 .1 .2 .1-.7 .1-.7 0-.7 .1-.7 .1-.7 0-.4 .1 0 .1-.1 0 0 .1-.1 .1 0 .1 0 0 .2 .1 .4 .1 .4 0 .3 .1 .6 .1 .8 0 .8 .1 .9 .1 .8 .1 .8 0 .1 .1 0 .1-.9 0-2 .1-2 .1-1.9 0-1.4 .1-1.5 .1-1.4 .1-1.4 0-1.5 .1-1.5 .1-1.6 0-.4 .1 1.4 .1 1.5 0 1.4 .1 1.1 .1 1.1 .1 1.1 0 1.1 .1 1.1 .1 1.2 0 1.5 .1 1.3 .1 1.1 0 1 .1 1.1 .1 2.2 .1 2.5 0 2.5 .1 2.5 .1 2.4 0 2 .1 .1 .1 .1 0-.8 .1-2.1 .1-2 .1-1.8 0-1.5 .1-1.6 .1-1.6 0-1.5 .1-1.6 .1-1.5 0-1.5 .1-1.5 .1-1.4 .1-1.2 0-.9 .1-.4 .1-.3 0-.4 .1-.4 .1-.4 0-1 .1-1.2 .1-1.1 .1-1.2 0-1.1 .1-1.1 .1 .3 0 1.8 .1 1.7 .1 1.8 0 1.7 .1 1.1 .1 .8 .1 .8 0 .7 .1 .5 .1 .5 0 1.4 .1 1.3 .1 1.4 0 1.3 .1 1.4 .1 0 .1-2.1 0-2 .1-2 .1-2.1 0-2 .1-2.1 .1-2 0-1.9 .1-1.6 .1-1.7 .1-1.6 0-1.6 .1-1.6 .1-1.6 0-1.7 .1-.7 .1 .4 0 .2 .1 .3 .1 .3 .1 .2 0 .3 .1 .9 .1 .9 0 .8 .1 .4 .1-.4 .1-.7 0-.9 .1-.9 .1-.9 0-.9 .1-.9 .1-.8 0-.9 .1-.4 .1 .3 .1 .2 0 .2 .1 .2 .1 .1 0 .1 .1 .2 .1 .1 0 .4 .1 .6 .1 .5 .1 .3 0-.2 .1-.2 .1-.1 0-.1 .1 0 .1-.1 0-.1 .1-.6 .1-1.4 .1-1.3 0-1.4 .1-1.3 .1-1.3 0-.6 .1-.5 .1-.2 0 .1 .1 .1 .1 .2 .1 .6 0 .6 .1 .6 .1 .6 0 .6 .1 .4 .1 .3 0 .4 .1 .3 .1 .3 .1 .3 0 0 .1-.2 .1-.5 0-.5 .1-.5 .1-.5 0-.3 .1-.4 .1-.3 .1-.4 0-.3 .1-1.1 .1-1.3 0-1.3 .1-1.3 .1-1.3 0-1.1 .1 .1 .1 .3 .1 .2 0 .3 .1 .2 .1 .1 0-.1 .1 0 .1-.1 0-.1 .1 0 .1 .2 .1 .1 0 .2 .1 .2 .1 .2 0 0 .1 0 .1-.2 0-.2 .1-.3 .1-.2 .1-.5 0-.5 .1-.4 .1-.5 0-.2 .1 .3 .1 .3 0 .2 .1 .2 .1 .3 .1 .2 0 .7 .1 1 .1 1 0 1 .1 1 .1 1 0 .5 .1 .3 .1 .2 .1 .2 0 .2 .1 .1 .1 .2 0 .2 .1 .2 .1 .2 0 .1 .1-1.8 .1-4.8 .1-4.8 0-4.8 .1-4.9 .1-4.8 0-.1 .1 6.8 .1 6.9 0 6.8 .1 6.9 .1 6.8 .1 6.8 0 6.9 .1 2.7 .1-3.4 0-3.5 .1-3.5 .1-3.4 0-3.5 .1-3.4 .1-3.5 .1-1.8 0 .6 .1 .6 .1 .6 0 .6 .1 .6 .1 .6 0 .6 .1 .6 .1 .6 .1 .6 0 .6 .1 .2 .1-.3 0-.4 .1-.3 .1-.4 0-.3 .1-.3 .1-.4 .1-.3 0-.3 .1-.4 .1-.3 0-.3 .1-.4 .1-.3 0-.4 .1 0 .1 .5 .1 .4 0 .5 .1 .4 .1 .5 0-.1 .1-.2 .1-.3 .1-.2 0-.3 .1-.1 .1 .1 0 .1 .1 .1 .1 0 0 .1 .1-.1 .1-.2 .1-.3 0-.3 .2-.5 .2 .1 .2-.3 .2-.8 .2-.7 .2-.3 .2 .1 .2 1.4 .2 .7 .2-.7 .2-.4 .2 .6 .2 .3 .2-.3 .2 0 .2 .6 .2 .2 .2-1.2 .1-.3 .2 1.8 .2 1.1 .2-.6 .2-.5 .2-.2 .2-.1 .2 0 .2-.2 .2-.4 .2-.4 .2-.2 .2 0 .2 .5 .2 .3 .2-.2 .2-.2 .2-.1 .2 .3 .2 1.7 .2 .7 .2-1.8 .2-1.2 .2 .2 .2 .4 .2 .8 .1 .4 .2-.5 .2-.1 .2 1.1 .2 .3 .2-1.7 .2-1 .2 .7 .2 .5 .2-.2 .2-.1 .2-.4 .2-.1 .2 .3 .2-.1 .2-.8 .2-.1 .2 1.4 .2 .7 .2-1.5 .2-.7 .2 1.1 .2 .7 .2-.2 .2-.2 .2-.5 .1-.3 .2 .4 .2 .1 .2-.3 .2 .2 .2 1.2 .2 .7 .2-.4 .2-.3 .2-.2 .2-.3 .2-.5 .2-.3 .2 .2 .2 .2 .2 .1 .2-.2 .2-.5 .2-.3 .2 .7 .2 .4 .2-.1 .2-.3 .2-.4 .2-.1 .2 .6 .1 .5 .2 .4 .2-.1 .2-1 .2-.6 .2 .4 .2 .1 .2-1.2 .2-.3 .2 1.9 .2 1 .2-1.4 .2-.6 .2 1.4 .2 1.1 .2 .4 .2 0 .2-1.1 .2-.8 .2-.5 .2-.5 .2-.2 .2 .1 .2 .7 .2 .6 .2 .5 .1 .2 .2-.6 .2-.4 .2 0 .2 .1 .2 .3 .2 .2 .2-.1 .2 .2 .2 .7 .2 .5 .2-.2 .2-.5 .2-1.1 .2-.7 .2 .2 .2 .2 .2 .1 .2 0 .2-.1 .2 0 .2 .3 .2 .2 .2 .1 .2 0 .2-.2 .1-.1 .2-.1 .2 0 .2 .4 .2 .2 .2 0 .2-.1 .2-.8 .2-.5 .2 0 .2 .3 .2 1 .2 .7 .2 .2 .2 0 .2-.3 .2-.6 .2-.9 .2-.6 .2 .2 .2 .3 .2 .5 .2 .4 .2-.2 .2 0 .2 .4 .1-.1 .2-1.2 .2-.6 .2 1.3 .2 .7 .2-.4 .2-.1 .2 .9 .2 .4 .2-.9 .2-.2 .2 1.4 .2 .5 .2-1.5 .2-1 .2 .5 .2 .2 .2-.3 .2-.3 .2 0 .2-.1 .2-.2 .2 .7 .2 3.1 .2 1.1 .2-3.6 .1-2.3 .2 1.3 .2 .8 .2-.4 .2-.4 .2-.2 .2-.1 .2 .3 .2 .1 .2-.4 .2 0 .2 .7 .2 .5 .2-.1 .2-.2 .2-.5 .2-.8 .2-1.7 .2-.8 .2 1.6 .2 1.1 .2-.1 .2-.1 .2-.1 .2 .5 .2 1.7 .1 1.1 .2-.6 .2-1.1 .2-2.2 .2-1 .2 1.9 .2 1.4 .2 .3 .2 .1 .2-.2 .2-.3 .2-.4 .2-.2 .2 .2 .2 .1 .2 .2 .2 .1 .2-.5 .2-.5 .2-.3 .2-.2 .2 .4 .2 .5 .2 .3 .2 .6 .2 1.1 .1 .6 .2-.5 .1-.1 .1-.2 .1-.5 0-.5 .1-.5 .1-.5 0-.5 .1-.2 .1 .3 0 .2 .1 .3 .1 .3 .1 .2 0-.2 .1-.3 .1-.4 0-.3 .1-.4 .1-.2 0 .2 .1 .2 .1 .2 .1 .3 0 .2 .1 .2 .1 .2 0 .2 .1 .1 .1 .6 0 .9 .1 .5 .1 .4 .1 5.5 0 5.7 .1 5.6 .1 5.8 0 5.8 .1 5.9 .1 5.8 0-1.9 .1-13.7 .1-13.6 .1-13.6 0-13.7 .1-3.1 .1 12.8 0 12.9 .1 12.7 .1 12.8 0 3.1 .1-11.3 .1-11.4 .1-11.2 0-11.1 .1-2.5 .1 10.4 0 10.4 .1 10.4 .1 10.1 0 2.4 .1-9 .1-9.1 .1-9.1 0-9.1 .1-2.2 .1 8.1 0 8.1 .1 8.1 .1 8.2 0 2.1 .1-6.9 .1-7 .1-7 0-7.1 .1-1.6 .1 6.4 0 6.5 .1 6.5 .1 6.5 .1 1.6 0-5.8 .1-5.8 .1-5.9 0-5.8 .1-1.5 .1 5 0 4.9 .1 4.9 .1 4.9 .1 1 0-4.8 .1-4.6 .1-4.3 0-4.3 .1-.8 .1 4.3 0 4.4 .1 4.1 .1 4.1 .1 1 0-3.6 .1-3.6 .1-3.8 0-4.3 .1-1.5 .1 2.7 0 2.6 .1 2.7 .1 3.3 .1 1.3 0-2.4 .1-2.3 .1-2.4 0-2.4 .1-.6 .1 2.6 0 2.7 .1 2.7 .1 2.6 .1 .7 0-2.2 .1-2.3 .1-2.2 0-2.3 .1-.5 .1 2.1 0 2 .1 2.1 .1 2 .1 .4 0-1.9 .1-1.9 .1-1.9 0-1.9 .1-.6 .1 1.6 0 1.6 .1 1.7 .1 1.6 .1 .5 0-1.5 .1-1.4 .1-1.5 0-1.4 .1-.3 .1 1.4 0 1.4 .1 1.3 .1 1.2 .1 .2 0-1.3 .1-1.3 .1-1.2 0-1.3 .1-.3 .1 1 0 1 .1 .9 .1 1.1 .1 .5 0-.7 .1-.7 .1-.7 0-.7 .1-.3 .1 .7 0 .6 .1 .6 .1 .6 .1 0 0-.6 .1-.6 .1-.6 0-.6 .1 0 .1 .8 0 .6 .1 .6 .1 .6 .1 .2 0-.7 .1-.5 .1-.6 0-.5 .1-.1 .1 .5 0 .5 .1 .3 .1 .4 .1-.1 0-.7 .1-.7 .1-.5 0-.5 .1-.1 .1 .5 0 .4 .1 .4 .1 .6 .1 .3 0-.2 .1-.2 .1-.2 0-.3 .1 .1 .1 .4 0 .5 .1 .4 .1 .4 .1 .2 0-.2 .1-.3 .1-.2 0-.2 .1-.1 .1 .1 0 0 .1 .1 .1 .1 .1-.1 0-.3 .1-.2 .1-.3 0-.2 .1 0 .1 .2 0 .2 .1 .2 .1 .2 .2-.3 .2-.6 .2 .5 .2 .4 .2-.4 .2-.4 .2 .2 .2 0 .2-.2 .2 .3 .1 0 .2-.2 .2-.1 .2 .1 .2 .1 .2 .1 .2 .2 .2 0 .2 0 .2-.5 .2-.5 .2 .5 .2 .5 .2 .3 .2 .3 .2-.2 .2-.1 .2-.2 .2-.1 .2 .4 .2 .4 .2-.2 .2-.3 .2-.3 .2-.2 .2 .1 .1 0 .2-.4 .2-.3 .2 .3 .2 .2 .2 .2 .2 .2 .2 0 .2-.1 .2 .1 .2 0 .2-.2 .2-.2 .2 0 .2 .1 .2 0 .2 .1 .2-.4 .2-.3 .2 .1 .2 .1 .2 .4 .2 .5 .2 .3 .2 .3 .2-.6 .1-.7 .2 .1 .2 .1 .2-.1 .2 0 .2 0 .2 .1 .2 0 .2 0 .2 0 .2-.1 .2 0 .2 .1 .2 0 .2 .1 .2 0 .2 0 .2 .1 .2 0 .2-.2 .2-.2 .2 .1 .2 .1 .2 .2 .2 0 .2-.5 .1-.5 .2 .5 .2 .4 .2 0 .2 0 .2-.1 .2 0 .2 0 .2 0 .2 .1 .2 0 .2-.2 .2-.2 .2 .4 .2 .3 .2-.3 .2-.2 .2 .1 .2 0 .2-.1 .2 0 .2 .1 .2 .2 .2 .4 .2 .2 .2-.3 .1-.4 .2 0 .2-.1 .2 0 .2-.1 .2 .1 .2 0 .2 0 .2-.1 .2 .1 .2 .1 .2 0 .2 0 .2-.2 .2-.1 .2 .5 .2 .5 .2-.4 .2-.4 .2-.2 .2-.3 .2 .1 .2 0 .2 .1 .2 .1 .2 0 .1 0 .2 .2 .2 0 .2 0 .2-.1 .2-.6 .2-.5 .2 .3 .2 .4 .2 .4 .2 .3 .2-.2 .2-.1 .2-.3 .2-.3 .2 .4 .2 .3 .2-.1 .2-.1 .2-.6 .2-.5 .2 .7 .2 .7 .2-.3 .2-.2 .2 .2 .1 .2 .2 .4 .2 .4 .2-.3 .2-.4 .2 0 .2-.1 .2-.1 .2-.1 .2-.4 .2-.5 .2 .3 .2 .3 .2 .2 .2 .2 .2 0 .2 0 .2-.1 .2-.1 .2-.4 .2-.3 .2 .6 .2 .6 .2 0 .2 0 .2 0 .1 0 .2-.2 .2-.1 .2 0 .2 0 .2 .2 .2 .2 .2 0 .2 0 .2-.2 .2-.2 .2 .1 .2 .1 .2 .1 .2 0 .2 0 .2-.1 .2-.3 .2-.2 .2 .1 .2 .1 .2 .3 .2 .2 .2-.2 .2-.2 .2-.1 .1 0 .2-.1 .2 0 .2 0 .2 0 .2 0 .2-.1 .2 0 .2 0 .2 .3 .2 .3 .2 0 .2 0 .2 0 .2-.1 .2-.2 .2-.1 .2 0 .2 0 .2 .1 .2 0 .2 .3 .2 .2 .2-.4 .2-.3 .2 .1 .1 0 .2 .2 .2 .1 .2-.3 .2-.2 .2 .5 .2 .5 .2 .1 .2 .2 .2-.6 .2-.5 .2 .1 .2 .2 .2 .1 .2 .1 .2-.1 .2-.2 .2-.1 .2-.1 .2 .1 .2 0 .2 .1 .2 0 .2-.2 .2-.1 .2 .3 .1 .2 .2 .1 .2 0 .2-.3 .2-.3 .2-.5 .2-.4 .2 .4 .2 .5 .2 .1 .2 .1 .2 .3 .2 .2 .2-.3 .2-.3 .2 0 .2 .1 .2 .2 .2 .2 .2-.2 .2-.2 .2 0 .2 0 .2 .2 .2 .1 .2-.2 .1-.1 .2-.2 .2-.3 .2 .2 .2 .1 .2 .1 .2 .1 .2 .2 .2 .2 .2-.1 .2-.1 .2 0 .2 .1 .2-.2 .2-.1 .2-.1 .2-.1 .2 .1 .2 .1 .2 .1 .2 0 .2 .1 .2 0 .2-.1 .2 0 .2 .2 .1 .2 .2-.5 .2-.5 .2-.2 .2-.2 .2 .7 .2 .6 .2 .3 .2 .3 .2-.4 .2-.4 .2 0 .2 0 .2-.3 .2-.4 .2-.5 .2-.5 .2 .6 .2 .5 .2 0 .2 0 .2 .1 .2 .1 .2 0 .2 .1 .2-.2 .1 0 .2 .2 .2 .2 .2 .3 .2 .3 .2-.5 .2-.5 .2 0 .2 0 .2 .3 .2 .4 .2-.1 .2 0 .2-.3 .2-.2 .2-.3 .2-.2 .2 .4 .2 .4 .2-.4 .2-.3 .2 .4 .2 .3 .2-.1 .2-.1 .2 .2 .1 .3 .2-.4 .2-.3 .2 .1 .2 .1 .2 0 .2 0 .2-.2 .2-.1 .2-.1 .2-.1 .2 .4 .2 .3 .2 0 .2 0 .2 .6 .2 .5 .2-1.1 .2-.9 .2 .3 .2 .3 .2 .2 .2 .2 .2 1.1 .2 .9 .2-1.1 .1-.9 .2 .2 .2 .2 .2-.9 .2-.8 .2 .6 .2 .6 .2 0 .2 .1 .2 0 .2 0 .2-.2 .2-.2 .2-.3 .2-.4 .2 .5 .2 .5 .2 .1 .2 .2 .2 0 .2 0 .2 .1 .2 .1 .2-.3 .2-.3 .2-.5 .1-.4 .2-.2 .2-.3 .2-.1 .2-.1 .2 .7 .2 .6 .2 .4 .2 .5 .2 .4 .2 .3 .2-.6 .2-.6 .2-.2 .2-.2 .2-.7 .2-.5 .2 1.1 .2 1 .2-.2 .2-.2 .2-.2 .2-.3 .2 .5 .2 .5 .2 .5 .1 .4 .2-.4 .2-.5 .2-.5 .2-.4 .2 .7 .2 .5 .2-1 .2-1 .2 .7 .2 .7 .2-.2 .2-.2 .2 0 .2 0 .2 .8 .2 .6 .2-.5 .2-.5 .2-.2 .2 0 .2 .3 .2 .3 .2-.3 .2-.3 .2 .3 .1 .3 .2 .1 .2 0 .2 .1 .2 0 .2-.4 .2-.5 .2-.2 .2-.3 .2 .1 .2 .2 .2 1.2 .2 1.1 .2-1.2 .2-1.2 .2 .1 .2 0 .2 .3 .2 .2 .2 .2 .2 .2 .2-.4 .2-.3 .2 .2 .2 .1 .2 0 .1-.2 .2-.8 .2-.7 .2 .7 .2 .8 .2 0 .2 .1 .2 .1 .2 .1 .2-.5 .2-.4 .2 .1 .2 .1 .2-.7 .2-.5 .2 .8 .2 .8 .2 .1 .2 .1 .2-.4 .2-.4 .2 .3 .2 .2 .2-.1 .2-.1 .2 .4 .1 .3 .2-.1 .2 0 .2 0 .2 0 .2 0 .2 0 .2 .1 .2 .1 .2 0 .2-.1 .2 0 .2-.1 .2 .2 .2 .2 .2 .1 .2 .1 .2-.4 .2-.3 .2 .9 .2 .8 .2 .1 .2 0 .2-.8 .2-.7 .2-.1 .2-.1 .1 0 .2 0 .2 .2 .2 .1 .2-.3 .2-.3 .2-.1 .2 0 .2 .3 .2 .3 .2 0 .2 0 .2-.1 .2 0 .2 .2 .2 .1 .2-.2 .2-.3 .2 .1 .2-.1 .2-.4 .2-.3 .2 .3 .2 .3 .2 .4 .2 .3 .1-.1 .2-.2 .2-.1 .2-.1 .2-.1 .2-.2 .2 .7 .2 .6 .2-.7 .2-.6 .2 .3 .2 .2 .2-1 .2-.9 .2 1 .2 .9 .2 .2 .2 .1 .2-.3 .2-.2 .2-.1 .2 0 .2 0 .2 .1 .2 .5 .2 .4 .1-.7 .2-.6 .2 .4 .2 .5 .2 .3 .2 .2 .2-.5 .2-.5 .2 .9 .2 .7 .2-.8 .2-.7 .2 .4 .2 .3 .2-.2 .2-.2 .2-.1 .2-.2 .2-.1 .2 0 .2 .3 .2 .3 .2-.2 .2-.3 .2-.1 .2-.2 .1 .3 .2 .3 .2-.2 .2-.2 .2-.2 .2-.1 .2 .1 .1 0 .1 0 0 0 .1 0 .1 0 0 0 .1 0 .1-.1 .1 0 0 0 .1 0 .1 0 0-2.1 .1-2.2 .1-2.1 0-2.2 .1-1.2 .1 2.7 .1 2.6 0 2.6 .1 2.6 .1 2 0-.4 .1-.5 .1-.4 0-.5 .1-.4 .1-.6 .1-.1 0-.1 .1-.1 .1 .1 0 0 .1 0 .1 .1 0 0 .1 .1 .1 .1 .1 .1 0 .1 .1 0 .1 .1 0 0 .1 .1 .1 0 0 .1 .1 .1 .1-.1 .1 0 0 0 .1-.1 .1 0 0-.1 .1 .2 .1 .2 0 .1 .1 .2 .1 .1 .1 .1 0-.2 .1-.2 .1-.2 0-.1 .1-.2 .1 0 0 0 .1 .1 .1 0 .1 0 0 0 .1 0 .1 0 .2-.1 .2 .1 .2 .1 .2-.1 .1 0 .2 0 .2 .1 .2 0 .2-.1 .2 0 .2 0 .2 0 .2-.1 .2 .1 .2 0 .2 0 .2 0 .2 .1 .2 .1 .2-.1 .2-.1 .2 0 .2 0 .2 0 .2 0 .2 0 .2-.1 .2 0 .2 0 .2 .1 .1 .1 .2 0 .2 0 .2 0 .2-.1 .2 0 .2 .1 .2-.1 .2 0 .2 0 .2 .1 .2 0 .2 0 .2 0 .2 0 .2 0 .2 0 .2-.1 .2 0 .2 0 .2 0 .2 0 .2 .1 .2 0 .2 0" stroke="#00ff00" stroke-width="1.20"/>
<path d="M46.4 58.3l.2 0 .2 0 .2 0 .2 0 .2 0 .2 0 .2 0 .2 0 .2 0 .2 0 .2 0 .2 0 .2 0 .1 0 .2 0 .2 0 .2 0 .2 0 .2 0 .2 0 .2 0 .2 0 .2 0 .2 0 .2 0 .2 0 .2 0 .2 0 .2 0 .2 0 .2 0 .2 0 .2 0 .2 0 .2 0 .2 0 .2 0 .2 0 .2 0 .1 0 .2 0 .2 0 .2 0 .2 0 .2 0 .2 0 .2 0 .2 0 .1 0 .1 0 0 0 .1 0 .1 0 0 1 .1 2.4 .1 2.4 0 2.4 .1 2.4 .1 2.4 .1 2.5 0 2.4 .1-.7 .1-5.2 0-5.3 .1-5.2 .1-5.3 0-5.3 .1-5.2 .1-5.3 .1-5.2 0-5.3 .1-5.2 .1 0 0 7.8 .1 7.9 .1 7.8 0 7.8 .1 7.9 .1 7.8 .1 3.1 0-4.2 .1-4.2 .1-4.2 0-4.2 .1-4.2 .1-1.4 0 2.7 .1 2.7 .1 2.7 .1 2.7 0 2.7 .1 2.7 .1 2.6 0 .4 .1-3.1 .1-3.2 0-3.1 .1-3.2 .1-3.1 .1-3.1 0-3.2 .1-.8 .1 2.7 0 2.7 .1 2.7 .1 2.7 0 2.7 .1 2.7 .1 2.7 .1 1 0-1.4 .1-1.5 .1-1.4 0-1.4 .1-1.5 .1-1.4 0-1.5 .1-1.4 .1-1.4 .1-.4 0 1.3 .1 1.2 .1 1.3 0 1.2 .1 1.3 .1 1.3 .1 1.2 0 1.3 .1 1.2 .1 .4 0-.9 .1-.9 .1-.9 0-.9 .1-.9 .1-.9 .1-.9 0-.9 .1-.9 .1-.9 0-.9 .1-.3 .1 .6 0 .6 .1 .6 .1 .6 .1 .6 0 .6 .1 .6 .1 .6 0 .6 .1 .6 .1 .6 0-.8 .1-3 .1-3.1 .1-3 0-3 .1-3 .1-3 0-3 .1-3 .1-3.1 0-.9 .1 2.1 .1 2.1 .1 2.1 0 2.1 .1 2.2 .1 2.1 0 2.1 .1 2.1 .1 2.1 0 1 .1-.9 .1-.9 .1-.9 0-.9 .1-.9 .1-.9 0-.9 .1 0 .1 1.4 0 1.5 .1 1.4 .1 1.4 .1 1.5 0 1.4 .1 1.5 .1 1.4 0 1.4 .1 .6 .1-.6 0-.6 .1-.7 .1-.6 .1-.7 0-.6 .1-.7 .1-.6 0-.6 .1-.7 .1-.6 0-.7 .1-.6 .1 .2 .1 1.3 0 1.3 .1 1.4 .1 1.3 0 1.4 .1 1.3 .1 1.4 0 1.3 .1 1.4 .1 1.3 .1 1.4 0 1.3 .1 1.2 .1 1.3 0 1.2 .1 1.3 .1 1.3 0 1.2 .1 1.3 .1 1.2 .1 1.3 0 1.2 .1 1.3 .1 1.3 0 1.2 .1 1.3 .1 1.2 0 .5 .1-.8 .1-.8 .1-.8 0-.7 .1-.8 .1-.8 0-.8 .1-.8 .1-.7 0-.8 .1-.8 .1-1.2 .1-1.8 0-1.7 .1-1.8 .1-1.8 0-1.8 .1-1.8 .1-1.8 0-1.7 .1-1.8 .1-1.8 .1-1.8 0-1.8 .1-1.8 .1-1.7 0-1.8 .1-.7 .1 1.2 0 1.1 .1 1.1 .1 1.1 .1 1.1 0 1.1 .1 1.1 .1 1.1 0 1.1 .1 1.2 .1 1.1 0 1.1 .1 1.1 .1 1.1 .1 1.1 0 1 .1 .7 .1 .8 0 .7 .1 .8 .1 .7 0 .8 .1 .7 .1 .8 .1 .7 0 .7 .1 .8 .1 .1 0-1 .1-1 .1-1 0-1 .1-1 .1-1 .1-1 0-.9 .1-1 .1-.3 0 .7 .1 .7 .1 .7 .1 .7 0 .7 .1 .8 .1 .7 0 .7 .1 .7 .1 .4 0-.2 .1-.1 .1-.2 .1-.1 0-.2 .1-.1 .1-.2 0-.1 .1-.2 .1-.1 0-.2 .1-.9 .1 .1 .1 0 0 0 .1 .1 .1 0 0 0 .1 .5 .1 .4 0 .4 .1 .4 .1 .4 .1 .1 .1-.6 .2-.6 .2-.9 .2-.5 .2 1.4 .2 1.6 .2 3.1 .2 2 .2-3.7 .2-3.4 .2-1.8 .2-1.3 .2 1.4 .2 1.4 .2 1.7 .2 1.3 .2-.6 .2-.5 .2 .4 .2 .3 .2-.1 .2-.3 .2-1 .2-.9 .2 0 .2 0 .1-.1 .2 0 .2 .3 .2 .3 .2-.3 .2-.1 .2 .8 .2 .6 .2 0 .2 0 .2 .4 .2 .2 .2-.7 .2-.7 .2-.7 .2-.6 .2 .8 .2 .7 .2 .7 .2 .6 .2 .1 .2 .1 .2 0 .2-.1 .2-1 .2-.8 .1 .4 .2 .4 .2 .3 .2 .2 .2-.8 .2-.6 .2-.2 .2-.2 .2-1 .2-.6 .2 1.3 .2 1.2 .2-.1 .2 0 .2 .8 .2 .6 .2-.6 .2-.5 .2 .3 .2 0 .2-1.2 .2-.9 .2 .6 .2 .6 .2 .9 .2 .6 .1-.2 .2-.2 .2-.2 .2-.1 .2 .2 .2 .1 .2 0 .2-.1 .2-1.1 .2-.8 .2 1.1 .2 .9 .2-.1 .2-.1 .2-.4 .2-.3 .2 .3 .2 .2 .2-.2 .2-.2 .2-.1 .2-.2 .2-.1 .2-.1 .2 .5 .2 .3 .1-.6 .2-.5 .2 .2 .2 .3 .2 .9 .2 .7 .2-.4 .2-.4 .2-.2 .2-.1 .2 .1 .2 0 .2 0 .2 .2 .2 .9 .2 .6 .2-1.3 .2-.8 .2 2.7 .2 2 .2-1.6 .2-1.6 .2-.8 .2-.5 .2 1.3 .2 .8 .1-1.3 .2-1.1 .2 .4 .2 .5 .2 1.1 .2 .8 .2-.7 .2-.7 .2-.2 .2-.2 .2-.2 .2-.1 .2 .2 .2 .1 .2-.2 .2-.1 .2 .5 .2 .2 .2-.8 .2-.7 .2-.1 .2 0 .2 .5 .2 .4 .2-.2 .2-.2 .1-.4 .2-.5 .2-1.7 .2-.9 .2 3.4 .2 2.6 .2-2.2 .2-2 .2-.3 .2-.2 .2 .5 .2 .6 .2 .7 .2 .6 .2 0 .2-.2 .2-1 .2-.7 .2 1.4 .2 1.1 .2-1 .2-.9 .2-.8 .2-.5 .2 1.1 .2 .8 .1-.3 .2-.1 .2 .8 .2 .8 .2-.2 .2-.2 .2 .1 .2 0 .2-.6 .2-.5 .2 .3 .2 .2 .2-.5 .2-.3 .2 .6 .2 .6 .2 .7 .2 .4 .2-1.2 .2-1.1 .2 0 .2 .1 .2 1.2 .2 1 .2-.7 .2-.6 .1 .1 .2 0 .2-1.4 .2-1.1 .2 .6 .2 .6 .2 .5 .2 .4 .2 0 .2 .1 .2 .7 .2 .5 .2-.3 .2-.3 .2-.6 .2-.5 .2 .4 .2 .3 .2-.4 .2-.3 .2 .7 .2 .5 .2-.2 .2-.2 .2-.2 .2-.2 .1-.5 .2-.2 .2 1.1 .2 .8 .2-1.3 .2-.9 .2 1.5 .2 1 .2-1.5 .2-1.4 .2 .1 .2 .1 .2 .1 .2 4.7 .2 6.7 .2 2.1 .2-5.7 .2-5.3 .2-2.5 .2-.5 .2-.4 .2-.5 .2-.6 .2-.7 .2-.9 .2-.9 .1-.5 .2-.7 .2-1.6 .2-1.3 .2 .2 .2 .1 .2-.3 .2-.3 .2 .1 .2-.1 .2-1.6 .2-1.6 .2-1.9 .2-1.6 .2 .3 .2 .2 .2-.9 .2-.8 .2-.6 .2-.4 .2-.1 .2-.2 .2-1.6 .2-1.4 .2-.1 .2-.2 .1-1.3 .2-1.1 .2-.8 .2-.9 .2-1.3 .2-1.1 .2 .3 .2 .4 .2 .2 .2 .2 .2-.3 .2-.5 .2-1.7 .2-1.3 .2-1.1 .2-.8 .2 .8 .2 .6 .2-.6 .2-.6 .2-.9 .2-.7 .2 .1 .2 .1 .2 .2 .2 .1 .2-1.2 .1-1.1 .2-.6 .2 .8 .2 3.5 .2 3.2 .2 1.1 .2 3.3 .2 5 .2 4.9 .2-1.8 .2-1.4 .2-4 .2-2.3 .2-.6 .2-.6 .2 .9 .2 .7 .2 .4 .2-.2 .2-4.1 .2-3.3 .2 1.7 .2 1.6 .2 1.8 .2 1.5 .2-.2 .1-.5 .2-3.6 .2-2.5 .2 2.9 .2 2.2 .2-1.6 .2-.5 .2 6.3 .2 4.6 .2-5.5 .2-4.2 .2 3.2 .2 2.3 .2-3.6 .2-3.2 .2-.4 .2 0 .2 2.7 .2 1.9 .2-3.2 .2-2.5 .2 1.6 .2 2 .2 4.9 .2 3.7 .2-2.7 .1-2.8 .2-3.3 .2-3 .2-1 .2-.7 .2 .6 .2 .9 .2 2 .2 1.4 .2-2.3 .2-1.9 .2-.1 .2 .1 .2 .8 .2 1 .2 1.6 .2 1.1 .2-1.7 .2-1.2 .2 1.9 .2 1.3 .2-1.8 .2-1.2 .2 2.3 .2 1.4 .2-3.5 .1-2.6 .2 3.5 .2 3.1 .2 0 .2-.4 .2-2.5 .2-2.5 .2-1.5 .2-.9 .2 2.7 .2 2.2 .2 .7 .2 .7 .2 .8 .2 .2 .2-2.6 .2-1.6 .2 2.9 .2 2.2 .2-.1 .2-.3 .2-.6 .2-.6 .2-.7 .2-.7 .2-.7 .1-.6 .2 .5 .2 .3 .2-.4 .2-.3 .2 1.1 .2 1.1 .2 1.4 .2 .6 .2-3.7 .2-3 .2 1.2 .2 1 .2 .5 .2 .3 .2-.3 .2-.3 .2 .7 .2 .6 .2-.2 .2-.4 .2-1.2 .2-.9 .2 .3 .2 .4 .2 1 .1 .7 .2-1.5 .2-1 .2 1.7 .2 1.4 .2-1.3 .2-1 .2 .8 .2 .8 .2 .6 .2 .4 .2-1.2 .2-1 .2-.4 .2-.1 .2 .6 .2 .6 .2 0 .2-.3 .2-1.6 .2-1 .2 2.1 .2 2.9 .2 .4 .2 .3 .2-.4 .1 .2 .2 4.5 .2 2.4 .2-11.3 .2-9 .2 4.7 .2 4.2 .2 1.8 .2 1.5 .2 .2 .2-.6 .2-4.9 .2-3.4 .2 5.1 .2 4.3 .2 0 .2-.3 .2-2.4 .2-2.1 .2 .6 .2 .6 .2 0 .2 .4 .2 1.9 .2 1.4 .2-1.5 .1-1.3 .2-.2 .2-.3 .2-.1 .2 .1 .2 2 .2 1.2 .2-4.1 .2-3.4 .2 .7 .2 1.1 .2 3.9 .2 3.6 .2 2.6 .2 1.5 .2-5 .2-4 .2 1.3 .2 1 .2 .1 .2-.1 .2-.8 .2-.5 .2 .9 .2 .6 .2-1.2 .1-.7 .2 1.6 .2 1.6 .2 1.3 .2 .7 .2-2.9 .2-2.8 .2-1.6 .2-.9 .2 1.9 .2 1.6 .2 1.6 .2 .8 .2-1.3 .2-.7 .2-.1 .2-.1 .2 .2 .2-.1 .2-.9 .2-.8 .2 0 .2-.2 .2-1.6 .2-.9 .2 2.4 .1 1.9 .2-1.4 .2-1.4 .2-1.6 .2-1 .2 2.5 .2 2.2 .2 1.3 .2 .9 .2-.9 .2-.9 .2-.5 .2-.2 .2 1.2 .2 .9 .2-.8 .2-.7 .2 .1 .2 0 .2 .1 .2-.1 .2-.4 .2-.5 .2-.6 .2-.3 .2 1.1 .1 .9 .2-.9 .2-.6 .2 .7 .2 .7 .2 .4 .2 .3 .2-1.2 .2-1 .2 .3 .2 .3 .2 .4 .2 .6 .2 .9 .2 .6 .2-1.5 .2-1.2 .2 1 .2 .8 .2-.7 .2-.6 .2-.7 .2-.6 .2 .2 .2 .2 .2 1.1 .1 .9 .2 0 .2-.2 .2-.9 .2-.7 .2 .5 .2 .3 .2-.1 .2-8.5 .2-1.7 .2 3.9 .2 5.3 .2 5.2 .2 2.8 .2-1.4 .2-1.3 .2-1.2 .2-.4 .2 .2 .2 1.2 .2 .8 .2-1.5 .2-1.1 .2 1.2 .2 1 .2-.1 .1 .2 .2 2.8 .2 2.5 .2 .2 .2 .2 .2 0 .2 .1 .2 1.4 .2 1.3 .2 .5 .2 .5 .2 1.3 .2 .8 .2-1.6 .2-1.1 .2 2.4 .2 2.2 .2 1.6 .2 1.1 .2-2.5 .2-1.8 .2 1.9 .2 1.9 .2 2.6 .2 2 .2-.7 .1-.2 .2 2.3 .2 2 .2-.5 .2-.3 .2 1.1 .2 1.2 .2 1.4 .2 .8 .2-2.1 .2-1.7 .2 3.2 .2 2.6 .2-.8 .2-.7 .2 .3 .2 .3 .2-.6 .2-.5 .2-.1 .2-.1 .2 .6 .2 .8 .2-2.7 .2-4 .2-7.7 .1-3.6 .2 7.3 .2 7.5 .2 4.9 .2-.2 .2-.6 .2-.7 .2-2.1 .2-1.2 .2 4 .2 2.7 .2-4.4 .2-3.1 .2-.3 .2-.4 .2-.5 .2-.4 .2 .5 .2 .4 .2 .2 .2 .2 .2-.7 .2-.4 .2 1 .2 .8 .2-1.4 .1-1.1 .2 .1 .2 0 .2-.1 .2 0 .2 .5 .2 .4 .2-.1 .2-.2 .2 .1 .2 0 .2-.1 .2-.2 .2-.1 .2-.1 .2 .5 .2 .2 .2-1.2 .2-1 .2 .4 .2 .5 .2 .9 .2 .6 .2-.8 .2-.6 .2 .6 .1 .4 .2-.9 .2-.8 .2 .1 .2 .2 .2 1.3 .2 .9 .2-1.4 .2-1.2 .2 .2 .2 .2 .2-.4 .2-.2 .2 .8 .2 .6 .2-1.3 .2-.8 .2 2.7 .2 2.1 .2-.9 .2-.7 .2 0 .2-.1 .2-.6 .2-.4 .2 .7 .1 .5 .2-.4 .2-.4 .2-.7 .2-.8 .2-2.1 .2-1.2 .2 3.8 .2 3.1 .2-.8 .2-.8 .2-1 .2-.8 .2 .7 .2 .6 .2 .3 .2 .2 .2 .2 .2 .1 .2-.1 .2-.1 .2-1 .2-.7 .2 .2 .2 .2 .2-.4 .1-.1 .2 1.7 .2 1.3 .2-1.6 .2-1.4 .2 .4 .2 .3 .2-.7 .2-.5 .2 1 .2 .8 .2 0 .2 0 .2-.2 .2-.2 .2 .4 .2 .2 .2-.6 .2-.7 .2-1.2 .2-.7 .2 2.5 .2 2.1 .2-1.2 .2-.7 .2 1.8 .1 1.3 .2-2.5 .2-2 .2 .7 .2 .6 .2 .3 .2 0 .2-1.7 .2-1.3 .2 1.5 .2 1.3 .2 .6 .2 .5 .2-.1 .2-.1 .2-.6 .2-.4 .2 .8 .2 .6 .2-.7 .2-.5 .2 .2 .2 0 .2-1.5 .2-1.1 .2 1.1 .1 .9 .2 .4 .2 .5 .2 .8 .2 .5 .2-1.5 .2-1.3 .2-.4 .2-.2 .2 1.1 .2 1 .2-.1 .2 0 .2 .2 .2 .1 .2-1.1 .2-.3 .2 3.7 .2 2.6 .2-3.8 .2-3.2 .2 1.2 .2 1 .2 .1 .2 0 .2-.3 .1-.1 .2 1.9 .2 1.3 .2-2.4 .2-2 .2-.4 .2-.2 .2 .8 .2 .7 .2 .3 .2 .3 .2-.1 .2-.1 .2 .4 .2 .7 .2 1.8 .2 1.1 .2-3.6 .2-2.9 .2 1 .2 1 .2 1.1 .2 1.2 .2 1.2 .2 .9 .2-1.1 .1-1.1 .2-1.1 .2-.9 .2 .2 .2-.1 .2-2.7 .2-1.9 .2 3.3 .2 2.7 .2-.3 .2-.2 .2-.3 .2-.5 .2-2.3 .2-1.9 .2 1.1 .2 1.1 .2 1.8 .2 1.3 .2-1.1 .2-.9 .2 .1 .2 .1 .2-.3 .2-.3 .2 0 .1 .2 .2 1.3 .2 1 .2-.3 .2-.3 .2-.6 .2-.4 .2 .8 .2 .5 .2-1.2 .2-1 .2 .5 .2 .5 .2 .4 .1 .1 0 .2 .1 0 .1-.2 .1-.1 0-.1 .1-.1 .1-.2 0 .1 .1 0 .1 0 0 0 .1 .1 .1 0 .1 0 0 0 .1 0 .1 0 0 0 .1-.5 .1-.5 0-.6 .1-.6 .1-.6 .1-.3 0 .6 .1 .7 .1 .7 0 .7 .1 .7 .1 .4 0 .4 .1 .4 .1 .3 .1 .4 0 .4 .1-.6 .1-.6 0-.5 .1-.6 .1-.6 0-.3 .1 .2 .1 .1 .1 .2 0 .1 .1 .2 .1 .1 0 .1 .1 .1 .1 .1 0 0 .1 0 .1-.6 .1-.6 0-.6 .1-.6 .1-.6 0 0 .1 .6 .1 .6 0 .5 .1 .6 .1 .6 .1-.5 0-.4 .1-.2 .1-.2 0-.2 .1 .3 .1 1 0 .9 .1 1 .1 1 .1 1 0 .8 .1 .8 .1 0 0-1.2 .1-1.1 .1-1.2 0-1.6 .1-1.6 .1-1.6 .1-1.5 0-1.6 .1-1.9 .1-2.1 0-.9 .1 .9 .1 .9 0 1 .1 1 .1 .9 .1 1 0 1 .1 1 .1 1.3 0 1.5 .1 1.3 .1 1.1 0 1.1 .1 1.1 .1 2.2 .1 2.5 0 2.5 .1 2.4 .1 2.5 0 1.9 .1-.3 .1-.3 0-1.2 .1-2.5 .1-2.4 .1-1.8 0-1.4 .1-1.3 .1-1.4 0-1.4 .1-1.3 .1-1.3 0-1.4 .1-1.3 .1-1.2 .1-1.1 0-.9 .1-.5 .1-.5 0-.5 .1-.5 .1-.5 0-.9 .1-.9 .1-.9 .1-.9 0-.9 .1-.9 .1 .1 0 1.5 .1 1.5 .1 1.5 0 1.5 .1 .9 .1 .5 .1 .5 0 .5 .1 .2 .1 .3 0 1.8 .1 1.7 .1 1.7 0 1.7 .1 1.7 .1 .2 .1-2.1 0-2.1 .1-2.1 .1-2.1 0-2.1 .1-1.9 .1-1.9 0-1.6 .1-1.5 .1-1.4 .1-1.5 0-2 .1-1.9 .1-1.9 0-1.9 .1-1.1 .1 .3 0 .4 .1 .4 .1 .4 .1 .4 0 .4 .1 1.3 .1 1.3 0 1.3 .1 .8 .1 0 .1-.7 0-1.7 .1-1.7 .1-1.7 0-1.7 .1-1.7 .1-.8 0-.6 .1-.1 .1 .6 .1 .5 0 .5 .1 .4 .1 .3 0 .4 .1 .4 .1 .3 0 .4 .1 .5 .1 .4 .1 .2 0-.3 .1-.3 .1-.2 0-.2 .1-.1 .1-.2 0-.1 .1-.6 .1-1.1 .1-1.1 0-1.1 .1-1.1 .1-1.2 0-.7 .1-.6 .1-.4 0 0 .1-.1 .1 .1 .1 .3 0 .3 .1 .3 .1 .3 0 .3 .1 .5 .1 .7 0 .7 .1 .7 .1 .6 .1 .7 0-.1 .1-.3 .1-.7 0-.6 .1-.6 .1-.5 0-.4 .1-.3 .1-.4 .1-.3 0-.4 .1-1 .1-1.2 0-1.2 .1-1.2 .1-1.2 0-1 .1 .1 .1 .3 .1 .3 0 .3 .1 .3 .1 0 0 0 .1-.1 .1-.1 0 0 .1-.1 .1 0 .1 0 0 0 .1 0 .1 0 0 .1 .1 .2 .1 0 0 0 .1-.2 .1-.3 .1-.2 0-.3 .1-.2 .1-.3 0-.2 .1-.3 .1 .1 0 .5 .1 .5 .1 .5 .1 .6 0 .5 .1 .5 .1 .5 0 .5 .1 .5 .1 .6 0 .5 .1 .5 .1 .5 .1 .5 0 .5 .1 .3 .1-.3 0-.2 .1-.2 .1-.2 0-.3 .1-.2 .1-.2 .1-.2 0-.3 .1-.2 .1-.2 0 .1 .1 .5 .1 .5 0 .6 .1 .5 .1 .6 .1 .5 0 .5 .1 .6 .1 .5 0-.3 .1-1.5 .1-1.5 0-1.6 .1-1.5 .1-1.5 .1-1.5 0-1.6 .1 .4 .1 3.2 0 3.1 .1 3.2 .1 3.2 0 3.2 .1 1.3 .1-1.3 .1-1.3 0-1.3 .1-1.3 .1-1.3 0-1.3 .1-1.3 .1-.7 0 .2 .1 .2 .1 .3 .1 .2 0 .2 .1 .2 .1 .2 0 .2 .1 .2 .1 .2 0 .2 .1-.8 .1 .4 .1 .5 0 .4 .1 .4 .1 .4 0-.3 .1-.6 .1-.6 .1-.6 0-.5 .1-.4 .1 .5 0 .5 .1 .5 .1 .6 0 .5 .1 0 .1-.4 .1-.4 0-.3 .2-.5 .2 .9 .2 .3 .2-.9 .2-1 .2-1 .2-.3 .2 1.6 .2 .6 .2-1.6 .2-.7 .2 1.2 .2 .9 .2-.1 .2 .1 .2 .4 .2 .1 .2-1 .1-.2 .2 1.4 .2 .9 .2-.6 .2-.3 .2 .2 .2 .1 .2-.3 .2-.3 .2 0 .2-.2 .2-.2 .2-.1 .2 .3 .2 .3 .2 0 .2-.1 .2-.2 .2 .3 .2 1.4 .2 .6 .2-1.3 .2-1.2 .2-.7 .2-.2 .2 1 .1 .7 .2-.2 .2 .2 .2 1.3 .2 .5 .2-1.7 .2-1.1 .2 .4 .2 .3 .2-.3 .2-.2 .2 0 .2 .1 .2 .5 .2 .2 .2-.3 .2-.2 .2 .4 .2 .3 .2 0 .2 .1 .2 .2 .2 .2 .2 .2 .2-.2 .2-1 .1-.5 .2 .7 .2 .2 .2-.8 .2-.2 .2 1.5 .2 1 .2-.3 .2-.4 .2-.7 .2-.5 .2-.2 .2-.1 .2-.4 .2-.2 .2 .5 .2 .3 .2 0 .2 .1 .2 .3 .2 .1 .2-.4 .2-.3 .2-.5 .2-.1 .2 .5 .1 .3 .2-.1 .2-.2 .2-.3 .2 0 .2 .6 .2 .3 .2-.5 .2-.2 .2 1 .2 .4 .2-1.3 .2-.5 .2 1.4 .2 1 .2 .5 .2 0 .2-1 .2-.8 .2-.6 .2-.4 .2 .4 .2 .5 .2 .5 .2 .4 .2-.1 .1-.2 .2-.4 .2-.4 .2-.3 .2-.1 .2 .3 .2 .3 .2 .3 .2 .4 .2 .8 .2 .2 .2-1.3 .2-.9 .2 0 .2 0 .2 .2 .2-.1 .2-.7 .2 0 .2 1.9 .2 .9 .2-1.8 .2-1.1 .2 .6 .2 .5 .2 .1 .1 .1 .2-.2 .2-.2 .2-.3 .2-.1 .2 .7 .2 .5 .2 .1 .2-.1 .2-.5 .2-.1 .2 .8 .2 .6 .2 .4 .2 0 .2-.9 .2-.9 .2-1 .2-.6 .2 .5 .2 .6 .2 .8 .2 .5 .2-.2 .2-.1 .2-.2 .1-.2 .2-.5 .2-.3 .2 0 .2 .1 .2 .8 .2 .7 .2 .6 .2 .2 .2-.3 .2 0 .2 .7 .2-.1 .2-2 .2-1.2 .2 .8 .2 .5 .2-.3 .2-.1 .2 .1 .2 0 .2 .1 .2 .5 .2 1.6 .2 .4 .2-2.7 .1-1.4 .2 1.9 .2 1.2 .2-.4 .2-.6 .2-1 .2-.4 .2 1.1 .2 .5 .2-1.1 .2-.8 .2 0 .2 .1 .2 .7 .2 .4 .2-.4 .2-.8 .2-1.7 .2-.7 .2 1.8 .2 1.4 .2 0 .2 .1 .2 .4 .2 .6 .2 .8 .1 .4 .2-.7 .2-1 .2-1.6 .2-.7 .2 1.6 .2 1.2 .2 .2 .2 .1 .2 .2 .2 0 .2-.8 .2-.5 .2 .3 .2 .2 .2 .4 .2 .1 .2-.5 .2-.4 .2-.5 .2-.2 .2 .5 .2 .4 .2 .3 .2 .4 .2 .3 .1 .2 .2-.1 .1-.1 .1 0 .1-.5 0-.5 .1-.4 .1-.5 0-.4 .1-.1 .1 .3 0 .4 .1 .3 .1 .4 .1 .4 0-.3 .1-.4 .1-.4 0-.4 .1-.4 .1-.2 0 .1 .1 .2 .1 .2 .1 .1 0 .2 .1 .3 .1 .3 0 .4 .1 .3 .1 .7 0 1 .1 .5 .1 .4 .1 4.7 0 4.5 .1 4.5 .1 4.6 0 4.6 .1 4.7 .1 4.6 0 4.6 .1-5.4 .1-11.8 .1-11.8 0-11.8 .1-12.1 .1 2 0 11.4 .1 11.3 .1 11.2 0 11.3 .1-1.5 .1-9.9 .1-9.9 0-9.8 .1-9.8 .1 1.6 0 9.2 .1 9.2 .1 8.7 0 8.8 .1-1.3 .1-8.2 .1-8.1 0-7.9 .1-7.7 .1 1.3 0 7.5 .1 7.4 .1 7.4 0 7.3 .1-.8 .1-6.2 .1-6.2 0-6.3 .1-6.3 .1 .9 0 5.6 .1 5.7 .1 5.7 .1 5.6 0-.8 .1-5.2 .1-5.2 0-5.2 .1-5.2 .1 .6 0 4.4 .1 4.4 .1 4.4 .1 4.4 0-.7 .1-4.1 .1-3.9 0-3.9 .1-3.9 .1 .6 0 3.7 .1 3.7 .1 3.6 .1 3.7 0-.4 .1-3.2 .1-3.3 0-3.8 .1-3.8 .1-.2 0 2.3 .1 2.3 .1 3 .1 3.4 0 .2 .1-2 .1-2 0-2 .1-2.6 .1 .4 0 2.3 .1 2.2 .1 2.3 .1 2.4 0-.3 .1-1.9 .1-2 0-2 .1-1.9 .1 .2 0 1.8 .1 1.7 .1 1.8 .1 1.8 0-.4 .1-1.8 .1-1.7 0-1.8 .1-1.8 .1 .1 0 1.5 .1 1.6 .1 1.6 .1 1.5 0 0 .1-1.2 .1-1.3 0-1.3 .1-1.3 .1 .1 0 1.2 .1 1.1 .1 1 .1 1 0-.3 .1-1.1 .1-1.2 0-1.1 .1-1.1 .1 .1 0 .8 .1 .9 .1 .9 .1 1.1 0 .1 .1-.6 .1-.6 0-.6 .1-.8 .1 0 0 .7 .1 .6 .1 .7 .1 .6 0 0 .1-.6 .1-.5 0-.6 .1-.6 .1 .2 0 .5 .1 .6 .1 .5 .1 .6 0-.1 .1-.5 .1-.5 0-.4 .1-.5 .1 .1 0 .5 .1 .3 .1 .3 .1 .3 0-.2 .1-.5 .1-.5 0-.5 .1-.4 .1 0 0 .4 .1 .3 .1 .6 .1 .5 0 .1 .1-.2 .1-.2 0-.2 .1-.1 .1 .2 0 .5 .1 .4 .1 .5 .1 .4 0 0 .1-.2 .1-.2 0-.2 .1-.3 .1-.2 0 0 .1-.1 .1 0 .1 0 0-.1 .1-.2 .1-.2 0-.2 .1-.1 .1 0 0 .2 .1 .2 .1 .2 .2 0 .2-.5 .2 .1 .2 .8 .2-.1 .2-.6 .2 0 .2 .1 .2-.2 .2 .2 .1 .1 .2-.2 .2-.3 .2 .1 .2 .1 .2 .1 .2 .1 .2 0 .2 0 .2-.5 .2-.5 .2 .5 .2 .5 .2 .2 .2 .2 .2-.5 .2-.3 .2 .1 .2 .2 .2 .4 .2 .3 .2-.1 .2-.2 .2-.2 .2-.2 .2 0 .1 0 .2-.4 .2-.3 .2 .3 .2 .3 .2 .2 .2 .2 .2-.1 .2-.1 .2 .2 .2 .2 .2-.4 .2-.4 .2 .2 .2 .2 .2 .3 .2 .3 .2-.7 .2-.6 .2 .3 .2 .3 .2 .1 .2 .1 .2 .5 .2 .4 .2-.8 .1-.8 .2 .2 .2 .2 .2 .4 .2 .5 .2-.4 .2-.3 .2 0 .2 .1 .2-.1 .2 0 .2-.1 .2 0 .2-.1 .2 0 .2 0 .2 .1 .2 .2 .2 .2 .2-.4 .2-.3 .2 .1 .2 .1 .2 .1 .2 .1 .2-.4 .1-.4 .2 .4 .2 .4 .2-.2 .2-.2 .2 .2 .2 .2 .2 0 .2-.1 .2 .1 .2 .1 .2-.1 .2-.1 .2 .2 .2 .2 .2-.1 .2-.2 .2 0 .2 0 .2-.4 .2-.3 .2 .3 .2 .4 .2 0 .2 .1 .2 .1 .1 0 .2-.1 .2-.2 .2-.2 .2-.3 .2 .2 .2 .1 .2 .2 .2 .1 .2 0 .2 0 .2 0 .2-.1 .2-.1 .2 0 .2 .5 .2 .4 .2-.5 .2-.4 .2-.2 .2-.2 .2 .2 .2 .2 .2 .1 .2 .2 .2-.3 .1-.2 .2 .2 .2 .2 .2-.1 .2-.2 .2-.5 .2-.5 .2 .3 .2 .3 .2 .6 .2 .5 .2-.5 .2-.5 .2 0 .2 .1 .2 .3 .2 .3 .2-.2 .2-.3 .2-.4 .2-.4 .2 .6 .2 .6 .2-.3 .2-.2 .2 .1 .1 .2 .2 .8 .2 .6 .2-.8 .2-.7 .2 .1 .2 .1 .2-.2 .2-.2 .2 0 .2-.1 .2 .1 .2 .2 .2 .1 .2 .1 .2 .1 .2 .1 .2-.2 .2-.1 .2-.3 .2-.3 .2 .5 .2 .4 .2 0 .2 .1 .2 0 .1 .1 .2-.4 .2-.3 .2 .1 .2 .2 .2 .1 .2 .1 .2-.2 .2-.3 .2 .2 .2 .2 .2-.1 .2 0 .2 .2 .2 .2 .2 0 .2-.1 .2-.4 .2-.3 .2 .1 .2 .1 .2 .4 .2 .4 .2-.4 .2-.5 .2 0 .1 .1 .2 .1 .2 .1 .2 .1 .2 .1 .2-.4 .2-.4 .2 .1 .2 .1 .2 .2 .2 .2 .2 0 .2 0 .2 .1 .2 .2 .2-.4 .2-.3 .2 .2 .2 .2 .2 0 .2-.1 .2 .1 .2 .1 .2-.2 .2-.3 .2 .2 .1 .2 .2 .2 .2 .2 .2-.4 .2-.4 .2 .4 .2 .3 .2 .3 .2 .3 .2-.5 .2-.5 .2 .1 .2 .2 .2 0 .2-.1 .2 0 .2 0 .2-.2 .2-.3 .2 .2 .2 .2 .2-.3 .2-.4 .2 .1 .2 0 .2 .4 .1 .4 .2 .1 .2 .1 .2-.4 .2-.3 .2-.5 .2-.3 .2 .4 .2 .5 .2 0 .2 .1 .2 .3 .2 .4 .2-.2 .2-.2 .2-.1 .2-.1 .2 .4 .2 .3 .2-.3 .2-.3 .2-.2 .2-.3 .2 .2 .2 .1 .2 0 .1 0 .2-.2 .2-.3 .2 .1 .2 .1 .2 .1 .2 .1 .2 .3 .2 .2 .2 .1 .2 .1 .2-.1 .2-.1 .2 .3 .2 .1 .2-.4 .2-.4 .2 .1 .2 .1 .2-.2 .2-.1 .2-.1 .2-.1 .2 .5 .2 .4 .2 0 .1 0 .2-.6 .2-.5 .2-.2 .2-.1 .2 .7 .2 .6 .2 .1 .2 .1 .2-.2 .2-.1 .2-.3 .2-.2 .2 0 .2-.1 .2-.5 .2-.5 .2 .2 .2 .3 .2 .1 .2 .1 .2 0 .2 0 .2 .4 .2 .4 .2-.3 .1-.3 .2 .3 .2 .3 .2 .2 .2 .2 .2-.4 .2-.4 .2 0 .2 0 .2 .1 .2 .2 .2-.1 .2-.1 .2 0 .2 0 .2 .2 .2 .2 .2-.1 .2-.2 .2-.3 .2-.2 .2 0 .2 0 .2 .4 .2 .4 .2 .1 .1 0 .2-.3 .2-.2 .2-.1 .2 .1 .2 1 .2 .8 .2-1.1 .2-1 .2 .1 .2 .1 .2 .2 .2 .2 .2-.2 .2-.2 .2 1 .2 .8 .2-1.2 .2-1.1 .2 .4 .2 .4 .2 .1 .2 .1 .2 .8 .2 .6 .2-.7 .1-.6 .2 0 .2 .1 .2 0 .2-.1 .2-.1 .2 0 .2 .3 .2 .3 .2-.3 .2-.3 .2-.4 .2-.3 .2-.4 .2-.4 .2 .5 .2 .4 .2 .1 .2 .1 .2 .3 .2 .4 .2-.2 .2-.2 .2 0 .2 0 .2-.5 .1-.6 .2-.5 .2-.4 .2 0 .2 .1 .2 .7 .2 .7 .2 .5 .2 .4 .2-.1 .2-.1 .2-.1 .2-.1 .2-.4 .2-.4 .2-.6 .2-.5 .2 1.2 .2 1.1 .2-.5 .2-.5 .2 .2 .2 .2 .2 .1 .2 .1 .2 .3 .1 .2 .2-.1 .2-.1 .2-.4 .2-.4 .2 .4 .2 .3 .2-1 .2-.9 .2 .8 .2 .8 .2 0 .2-.1 .2-.3 .2-.2 .2 .6 .2 .5 .2 0 .2 .1 .2-.4 .2-.3 .2 0 .2 .1 .2 .2 .2 .2 .2-.1 .1-.1 .2 0 .2 0 .2 .2 .2 .1 .2-.6 .2-.5 .2 .1 .2 .1 .2 0 .2 .2 .2 1.2 .2 1 .2-1.1 .2-1.1 .2 0 .2 0 .2 .4 .2 .4 .2 .1 .2 .1 .2-.4 .2-.3 .2 0 .2 .1 .2-.1 .1 0 .2-.4 .2-.4 .2 .5 .2 .4 .2 0 .2 0 .2 .2 .2 .1 .2-.9 .2-.8 .2 .1 .2 .1 .2-.4 .2-.4 .2 .8 .2 .8 .2 .1 .2 .2 .2-.3 .2-.2 .2 .1 .2 .1 .2-.1 .2-.1 .2 .7 .1 .5 .2-.7 .2-.6 .2 .4 .2 .4 .2 .6 .2 .5 .2-.4 .2-.4 .2-.3 .2-.2 .2 0 .2 .1 .2 .2 .2 .3 .2 .2 .2 .1 .2-.4 .2-.3 .2 .8 .2 .7 .2 .1 .2 0 .2-.8 .2-.7 .2 .3 .2 .2 .1-.3 .2-.2 .2 0 .2 .1 .2-.2 .2-.1 .2 .1 .2 .2 .2-.1 .2-.1 .2-.1 .2 0 .2 .1 .2 .2 .2 .1 .2 0 .2-.2 .2-.2 .2 0 .2 .1 .2-.2 .2-.2 .2 .1 .2 0 .2 .5 .2 .4 .1-.3 .2-.3 .2 0 .2-.1 .2-.3 .2-.2 .2 .7 .2 .6 .2-.6 .2-.4 .2 .2 .2 .2 .2-1 .2-.8 .2 1 .2 1 .2-.2 .2-.1 .2 0 .2 0 .2-.2 .2-.3 .2 .4 .2 .3 .2 .3 .2 .3 .1-.6 .2-.5 .2 .4 .2 .3 .2 .3 .2 .1 .2-.1 .2-.2 .2 .7 .2 .6 .2-.5 .2-.4 .2-.3 .2-.2 .2-.1 .2-.2 .2-.1 .2-.1 .2 0 .2 .1 .2 .3 .2 .2 .2-.1 .2-.2 .2-.2 .2-.3 .1 0 .2 0 .2 .2 .2 .1 .2-.1 .2-.2 .2 .1 .1 0 .1 0 0 .1 .1 0 .1 0 0 0 .1 0 .1 0 .1 0 0 0 .1-.1 .1 0 0 0 .1 0 .1 0 0 .1 .1 0 .1 0 .1 .1 0 .1 .1 .1 .1 .1 0 .2 .1-.5 .1-.9 0-.9 .1-.9 .1-.9 .1-.5 0 1.1 .1 1.1 .1 1.2 0 1.1 .1 .8 .1-.2 0-.2 .1-.2 .1-.2 .1-.2 0-.4 .1 .1 .1 .1 0 0 .1 .1 .1 0 0 .1 .1 0 .1 0 .1 0 0 0 .1-.1 .1 0 0 0 .1 .1 .1 .1 0 .2 .1 .1 .1 .2 .1 0 0-.2 .1-.1 .1-.1 0-.1 .1-.2 .1 0 0 0 .1 0 .1 0 .1 0 0 0 .1 0 .1 0 .2 0 .2 0 .2 0 .2-.1 .1-.1 .2 0 .2 .1 .2 0 .2 0 .2 0 .2 .1 .2 0 .2 0 .2-.1 .2-.1 .2 .1 .2 .1 .2 .1 .2 0 .2-.1 .2 0 .2-.1 .2 0 .2 .1 .2 .1 .2-.1 .2 0 .2-.1 .2 0 .2 .1 .1 .1 .2 0 .2 0 .2 0 .2 0 .2 0 .2 0 .2 0 .2 0 .2 0 .2 0 .2 0 .2 0 .2 0 .2 0 .2 0 .2 0 .2 0 .2-.1 .2 0 .2 0 .2 0 .2 .1 .2 0 .2-.1" stroke="#0000ff" stroke-width="1.55"/>
</g>
<path d="M46.40,6.40V97.15H536.80M46.40,97.15v-5M116.46,97.15v-5M186.51,97.15v-5M256.57,97.15v-5M326.63,97.15v-5M396.69,97.15v-5M466.74,97.15v-5M536.80,97.15v-5M46.40,20.90h5M46.40,56.80h5M46.40,92.70h5" stroke="#262626" stroke-width="1.1" fill="none"/>
<g font-family="Liberation Sans, Arial, Helvetica, sans-serif" font-size="12.7" fill="#262626" stroke="#262626" stroke-width="0.12">
<text x="45.20" y="113.25" text-anchor="middle">0</text>
<text x="114.96" y="113.25" text-anchor="middle">50</text>
<text x="184.61" y="113.25" text-anchor="middle">100</text>
<text x="254.67" y="113.25" text-anchor="middle">150</text>
<text x="324.73" y="113.25" text-anchor="middle">200</text>
<text x="394.79" y="113.25" text-anchor="middle">250</text>
<text x="464.84" y="113.25" text-anchor="middle">300</text>
<text x="534.90" y="113.25" text-anchor="middle">350</text>
<text x="39.9" y="25.00" text-anchor="end">20</text>
<text x="39.9" y="60.90" text-anchor="end">0</text>
<text x="39.9" y="96.80" text-anchor="end">-20</text>
</g>
<g font-family="Liberation Sans, Arial, Helvetica, sans-serif" font-size="14" fill="#262626" stroke="#262626" stroke-width="0.12">
<text x="287.3" y="129.85" text-anchor="middle">time (s)</text>
<text transform="translate(16.7,56.40) rotate(-90)" text-anchor="middle">roll (deg)</text>
</g>
<path d="M116.46,147.90V239.40M186.51,147.90V239.40M256.57,147.90V239.40M326.63,147.90V239.40M396.69,147.90V239.40M466.74,147.90V239.40M536.80,147.90V239.40M46.40,150.40H536.80M46.40,178.40H536.80M46.40,206.40H536.80M46.40,234.40H536.80" stroke="#dedede" stroke-width="0.9" fill="none"/>
<g clip-path="url(#c1)" fill="none" stroke-linejoin="round">
<path d="M46.4 202.2l.2 0 .2 0 .2 0 .2 0 .2 0 .2 0 .2 0 .2 0 .2 0 .2 0 .2 0 .2 0 .2 0 .1 0 .2 0 .2 0 .2 0 .2 0 .2 0 .2 0 .2 0 .2 0 .2 0 .2 0 .2 0 .2 0 .2 0 .2 0 .2 0 .2 0 .2 0 .2 0 .2 0 .2 0 .2 0 .2 0 .2 0 .2 0 .2 0 .1 0 .2 0 .2 0 .2 0 .2 0 .2 0 .2 0 .2 0 .2 0 .1 0 .1-.6 0-1.5 .1-1.5 .1-1.6 0-1.5 .1-1.5 .1-1.5 0-1.5 .1-1.5 .1-1.6 .1-1.5 0-1.5 .1-1.2 .1-.7 0-.7 .1-.7 .1-.7 0-.7 .1-.7 .1-.7 .1-.7 0-.7 .1 .8 .1 3 0 2.9 .1 3 .1 3 0 3 .1 2.9 .1 3 .1 1.2 0-1.4 .1-1.4 .1-1.4 0-1.4 .1-1.4 .1-1.4 0-1.4 .1-1.4 .1-1.4 .1-.7 0 .2 .1 .3 .1 .2 0 .2 .1 .3 .1 .2 0 .2 .1 .3 .1 .2 .1 .2 0 .3 .1-.1 .1-.5 0-.4 .1-.5 .1-.5 0-.4 .1-.5 .1-.5 .1-.4 0-.5 .1-.5 .1-.4 0 .1 .1 1.2 .1 1.1 0 1.1 .1 1.1 .1 1.1 .1 1.2 0 1.1 .1 1.1 .1 1.1 0 .9 .1 .4 .1 .4 .1 .4 0 .4 .1 .5 .1 .4 0 .4 .1 .4 .1 .4 0 .4 .1 .4 .1 .3 .1 .4 0 .3 .1 .4 .1 .3 0 .4 .1 .3 .1 .4 0 .3 .1 .4 .1-.2 .1-1.2 0-1.1 .1-1.1 .1-1.1 0-1.1 .1-1.2 .1-1.1 0-1.1 .1-1.1 .1-1.5 .1-1.8 0-1.9 .1-1.9 .1-1.9 0-1.8 .1-1.9 .1-1.9 0-1.9 .1-1.8 .1-1 .1 .4 0 .4 .1 .5 .1 .4 0 .4 .1 .4 .1 .4 0 .6 .1 .8 .1 .9 .1 .8 0 .8 .1 .8 .1 .8 0 .8 .1 .9 .1 .8 0 .8 .1 .8 .1 1.6 .1 2.6 0 2.6 .1 2.6 .1 2.7 0 2.6 .1 2.6 .1 2.6 0 1.4 .1-.5 .1-.4 .1-.5 0-.5 .1-.5 .1-.4 0-.5 .1-.5 .1-.5 0-.3 .1-.1 .1-.2 .1-.1 0-.1 .1-.1 .1-.2 0-.1 .1-.1 .1-.1 0-.2 .1-.1 .1-.1 .1-.1 0-.2 .1-.1 .1-.1 0-.1 .1 .5 .1 .1 0 0 .1 0 .1 .1 .1 0 0 .1 .1 0 .1-.1 0 0 .1-.1 .1 0 0 0 .1 0 .1-.1 .1 0 0-.1 .1-.1 .1 0 0-.1 .1 0 .1 0 0 0 .1 .1 .1 0 .1 0 0 .1 .1 0 .1 .1 0 0 .1 0 .1 0 0 0 .1 0 .1 0 .1 0 0 0 .1-.1 .1 0 0-.1 .1 0 .1-.1 0 0 .1 0 .1 0 .1 0 0 0 .1 0 .1 0 0 .1 .1 0 .1 .1 0 .1 .1 .1 .1 .1 .1 .1 0 0 .1 0 .1 0 0 0 .1-.1 .1 0 0 0 .1-.1 .1-.1 .1-.1 0-.1 .1-.1 .1-.1 0-.1 .1 0 .1 .1 0 .1 .1 .2 .1 .1 .1 .1 0 .2 .1 0 .1 .1 0 0 .1 0 .1 .1 .1 0 0 0 .1 .1 .1 0 0 0 .1 0 .1 0 0 0 .1 0 .1-.1 .1-.3 0-.3 .1-.3 .1-.3 0-.3 .1-.3 .1-.2 0 0 .1-.1 .1 0 .1-.1 0-.1 .1 0 .1 0 0 .3 .1 .2 .1 .2 0 .2 .1 .3 .1 .2 .1 .1 .1-.4 .2-.3 .2-.2 .2-.1 .2-.1 .2 .3 .2 .3 .2 .2 .2 .2 .2 0 .2-.1 .2-.2 .2-.2 .2-.1 .2-.1 .2 .3 .2 .3 .2 .1 .2-.1 .2-.2 .2-.3 .2-.3 .2-.1 .2 .1 .2 0 .2 .1 .1 0 .2 .2 .2 .3 .2 .2 .2-.3 .2-.2 .2 0 .2 .1 .2 0 .2-.4 .2-.3 .2 0 .2 .3 .2 .1 .2-.1 .2-.1 .2 .1 .2 .4 .2 .2 .2 0 .2 0 .2-.1 .2-.3 .2-.1 .2 .2 .2 .2 .1 0 .2-.1 .2-.1 .2 .6 .2 .5 .2 .4 .2 .4 .2 .4 .2 .1 .2 .1 .2-.2 .2-.6 .2-.5 .2-.8 .2-.8 .2 0 .2 .3 .2 .4 .2 .5 .2 .5 .2-.1 .2-.4 .2-.3 .2 .1 .2 0 .2-.2 .1-.3 .2-.3 .2 .1 .2 .1 .2 0 .2-.1 .2-.1 .2 .1 .2 0 .2 0 .2 .1 .2 0 .2-.2 .2-.2 .2 .1 .2 .3 .2 .3 .2 0 .2 .1 .2-.1 .2-.4 .2-.2 .2 .3 .2 .3 .2 .1 .2-.2 .1 0 .2 .3 .2 .4 .2 .1 .2-.1 .2-.1 .2-.8 .2-.8 .2 0 .2 .5 .2 .5 .2 .1 .2 .2 .2-.2 .2-.4 .2-.2 .2 .4 .2 .3 .2 .1 .2-.2 .2-.1 .2-.1 .2 0 .2-.1 .2-.1 .2-.1 .1 .3 .2 .2 .2 0 .2-.2 .2-.1 .2 .2 .2 .2 .2-.1 .2-.2 .2-.3 .2 .1 .2 .1 .2 .1 .2 .1 .2 0 .2 0 .2-.1 .2 0 .2 0 .2 0 .2 0 .2-.1 .2 .1 .2 .2 .2 .1 .2-.4 .1-.3 .2 0 .2 .2 .2 .1 .2 0 .2 0 .2 .2 .2 .4 .2 .4 .2-.1 .2-.2 .2-.3 .2-.4 .2-.4 .2 0 .2 0 .2 0 .2-.1 .2 .1 .2 .6 .2 .6 .2 .2 .2-.1 .2 0 .2-.1 .2-.2 .1 0 .2-.1 .2 0 .2 .2 .2 .3 .2 .4 .2 .6 .2 .3 .2-.4 .2-.4 .2-.3 .2-.1 .2-.1 .2 .3 .2 .3 .2-.3 .2-.6 .2-.5 .2 .1 .2 0 .2 0 .2-.2 .2-.2 .2 0 .2 0 .2-.1 .1-.1 .2-.1 .2 .4 .2 .4 .2 .1 .2-.1 .2-.2 .2-.1 .2-.1 .2 .1 .2 .1 .2 .3 .2 .3 .2 .4 .2-.1 .2-.3 .2-.3 .2 0 .2 .1 .2 0 .2-.1 .2-.1 .2 0 .2 .1 .2-.1 .2-.2 .1-.1 .2 .1 .2 0 .2-.1 .2-.1 .2-.2 .2 .1 .2 .1 .2 0 .2-.1 .2-.1 .2-.5 .2-1.3 .2-1.3 .2-1.4 .2-1.4 .2-1.4 .2-1.3 .2-1.3 .2-1.1 .2-1.2 .2-1.2 .2-1.3 .2-1.4 .2-1.4 .2-1.4 .1-1.1 .2-.7 .2-.5 .2-.5 .2-.5 .2-.4 .2-.3 .2-.8 .2-1 .2-.8 .2 .1 .2 0 .2-.5 .2-.8 .2-.7 .2-.2 .2-.2 .2 .2 .2 .1 .2 0 .2-.4 .2-.4 .2 .4 .2 .6 .2 .5 .2-.2 .1-.2 .2 .4 .2 .5 .2 .6 .2 .7 .2 .6 .2 .6 .2 .6 .2 .9 .2 .9 .2 1 .2 1.1 .2 1.2 .2 1.3 .2 1 .2 1.1 .2 1.2 .2 1.5 .2 1.4 .2 1.1 .2 1.1 .2 1.3 .2 1.5 .2 1.4 .2 1.3 .2 1.2 .2 1.7 .1 2 .2 2 .2 2.8 .2 2.8 .2 1.3 .2-2.1 .2-2.1 .2-1.8 .2-.5 .2 .1 .2 .1 .2 .2 .2-.3 .2 0 .2-.1 .2-.2 .2 0 .2 .3 .2 .3 .2 0 .2-.2 .2-.2 .2-.4 .2-.3 .2 0 .2 .2 .1 .1 .2-.3 .2-.4 .2-.1 .2 0 .2 0 .2 .1 .2 .2 .2 0 .2 0 .2 0 .2 0 .2 .1 .2-.2 .2-.2 .2-.2 .2-.1 .2-.1 .2-.3 .2-.5 .2-.4 .2 .4 .2 .3 .2 .2 .2 0 .2 0 .1-.2 .2-.2 .2 .2 .2 .3 .2 .3 .2-.1 .2-.1 .2-.2 .2-.1 .2-.2 .2-.1 .2-.1 .2 .3 .2 .6 .2 .5 .2-.1 .2 0 .2 0 .2-.1 .2 0 .2 .3 .2 .4 .2-.1 .2-.3 .2-.2 .2 .1 .1 .1 .2-.1 .2-.1 .2-.1 .2 .2 .2 .2 .2 0 .2-.3 .2-.2 .2 .1 .2 .1 .2-.1 .2 0 .2-.1 .2 0 .2-.1 .2 0 .2 .1 .2 0 .2 .1 .2 0 .2 0 .2 0 .2 0 .2 0 .2 0 .1 .1 .2 .3 .2 .2 .2-.3 .2-.1 .2 0 .2 .1 .2 .1 .2 .1 .2 .2 .2 0 .2-.1 .2 0 .2 .2 .2 .2 .2 .3 .2 .5 .2 .3 .2 .1 .2 .1 .2 0 .2-.1 .2-.2 .2-.2 .2-.1 .2 .2 .1 .3 .2 .3 .2 0 .2 .1 .2-.3 .2-.4 .2-.2 .2 .2 .2 .3 .2 0 .2-.3 .2-.2 .2 .2 .2 .2 .2-.1 .2-.3 .2-.2 .2 .2 .2 .2 .2-.2 .2-.5 .2-.4 .2 .2 .2 .1 .2 .1 .2 0 .1 .1 .2-.3 .2-.3 .2 .1 .2 .2 .2 .3 .2 .1 .2 .1 .2-.2 .2-.3 .2-.2 .2 .3 .2 .4 .2 0 .2-.1 .2-.1 .2 .3 .2 .2 .2 0 .2-.1 .2-.2 .2-.1 .2-.2 .2 .2 .2 .2 .2 .2 .1-.1 .2-.2 .2 0 .2 0 .2 0 .2-.2 .2-.1 .2-.1 .2-.1 .2 0 .2-.1 .2-.2 .2 .2 .2 .3 .2 .3 .2-.1 .2 0 .2-.2 .2-.1 .2-.2 .2 .2 .2 .2 .2-.1 .2-.2 .2-.1 .2-.1 .1 0 .2-.1 .2-.3 .2-.2 .2-.2 .2-.2 .2 .2 .2 .3 .2 .3 .2-.8 .2-.7 .2 .1 .2 .6 .2 .6 .2 .1 .2 .1 .2 0 .2 0 .2-.1 .2-.3 .2-.3 .2 .2 .2 .5 .2 .4 .2 0 .2 0 .1-.5 .2-.6 .2-.4 .2 .6 .2 .6 .2 .3 .2 .2 .2 .2 .2-.4 .2-.4 .2 .2 .2 .4 .2 .3 .2-.2 .2-.2 .2-.2 .2-.3 .2-.2 .2 .3 .2 .3 .2 .1 .2 0 .2-.1 .2-.2 .2-.2 .2 .2 .1 .3 .2 .2 .2-.2 .2-.1 .2-.1 .2-.1 .2 0 .2 .2 .2 .3 .2 .1 .2 0 .2 .1 .2 .2 .2 .3 .2-.3 .2-.5 .2-.5 .2 .2 .2 .2 .2 0 .2-.1 .2 0 .2 .6 .2 .5 .2-.2 .2-.6 .1-.5 .2-.1 .2 0 .2-.1 .2-1.1 .2-1.5 .2-.8 .2-.9 .2-1.4 .2-1.6 .2-1.7 .2-1.6 .2-1.7 .2-1.3 .2-1 .2-1.2 .2-1.5 .2-1.6 .2-1.4 .2-1.2 .2-.8 .2-.9 .2-.9 .2-.5 .2-.3 .2-.4 .1-.9 .2-.9 .2-.5 .2-.2 .2-.2 .2-.4 .2-.4 .2-.3 .2-.2 .2-.1 .2-.1 .2-.1 .2-.1 .2-.1 .2 0 .2 .3 .2 .3 .2 .1 .2 0 .2 .2 .2 .8 .2 .9 .2 .7 .2 .6 .2 .6 .2 .4 .1 .5 .2 1 .2 1.2 .2 1.1 .2 1 .2 .9 .2 1 .2 .9 .2 1 .2 .9 .2 .7 .2 .5 .2 .5 .2 .5 .2 .8 .2 .9 .2 .8 .2 1.3 .2 1.3 .2 1.4 .2 1.4 .2 1.5 .2 1.6 .2 1.6 .2 .7 .2-.7 .1-.7 .2-.8 .2-.2 .2 0 .2-.1 .2 0 .2-.1 .2 0 .2 0 .2 0 .2 .2 .2 .3 .2 .1 .2-.2 .2-.2 .2-.1 .2 .1 .2 0 .2-.1 .2 0 .2 0 .2 .1 .2 .1 .2 .1 .2 0 .2-.1 .1 0 .2-.1 .2 0 .2 0 .2-.1 .2 0 .2 0 .2 .3 .2 .3 .2 0 .2 0 .2-.1 .2-.2 .2-.2 .2-.1 .2 .1 .2 .1 .2 0 .2 0 .2 .1 .2 0 .2 .1 .2 .1 .2 0 .2 0 .2 0 .1 0 .2 0 .2 0 .2 .1 .2 0 .2 .1 .2 .1 .2 .2 .2-.1 .2-.1 .2-.2 .2 0 .2-.1 .2-.1 .2 0 .2-.1 .2-.1 .2 0 .2 0 .2 0 .2 0 .2 .1 .2 0 .2 .1 .2 .1 .2 0 .1-.3 .2-.3 .2 0 .2 .1 .2 .1 .2 .4 .2 .5 .2 0 .2-.2 .2-.2 .2-.2 .2-.3 .2 0 .2 .1 .2 .1 .2-.2 .2-.1 .2 0 .2 0 .2 .1 .2 .5 .2 .4 .2-.1 .2-.4 .2-.4 .2-.1 .1 0 .2 0 .2 .1 .2 0 .2 0 .2-.1 .2 0 .2 .2 .2 .1 .2-.2 .2-.2 .2 .1 .2 .2 .2 .2 .2 0 .2 0 .2 0 .2 .2 .2 .1 .2-.2 .2-.2 .2-.1 .2 0 .2 0 .2-.3 .2-.3 .1-.1 .2-.1 .2-.1 .2 .2 .2 .1 .2-.1 .2-.3 .2-.2 .2 .1 .2 .1 .2 0 .2 0 .2 0 .2 .2 .2 .1 .2 0 .2-.2 .2-.1 .2 .1 .2 .2 .2-.1 .2-.1 .2-.2 .2-.3 .2-.3 .2 .1 .1 .3 .2 .3 .2 0 .2 0 .2 0 .2 0 .2 0 .2 .1 .2 .2 .2-.3 .2-.5 .2-.3 .2 .5 .2 .5 .2 .1 .2-.1 .2-.1 .2 0 .2 0 .2 0 .2 .1 .2 .1 .2-.1 .2 0 .2 0 .2 0 .1 0 .2-.1 .2-.1 .2 .4 .2 .6 .2 .5 .2-.3 .2-.4 .2-.4 .2-.5 .2-.4 .2 .3 .2 .2 .2 .1 .2-.1 .2-.1 .2-.1 .2-.1 .2-.1 .2 0 .2-.1 .2-.1 .2 0 .2-.1 .2 0 .2-.1 .1-.2 .2-.2 .2-.1 .2 .1 .2 0 .2-.2 .2-.3 .2-.1 .2 .1 .2 .1 .2-.1 .2 0 .2 0 .2 0 .2 0 .2 .2 .2 .1 .2 0 .2 0 .2 .1 .2 .8 .2 .8 .2 0 .2-.3 .2-.4 .2-.1 .1-.1 .2-.1 .2-.1 .2 0 .2 .4 .2 .3 .2 .3 .2 .1 .2 .1 .2 0 .2-.1 .2-.2 .2-.1 .2-.2 .1 .1 0 .1 .1 .1 .1 0 .1 .1 0 .1 .1 0 .1-.1 0-.1 .1-.1 .1 0 0-.1 .1-.1 .1-.1 .1 0 0 0 .1-.1 .1 0 0-.1 .1 0 .1 0 0 .1 .1 0 .1 .1 .1 .1 0 .1 .1 .1 .1 0 0-.1 .1 0 .1 0 0-.1 .1 0 .1-.1 .1 0 0 0 .1-.1 .1 0 0 0 .1 0 .1 0 0 0 .1 0 .1 0 .1 .1 0 0 .1 0 .1 .1 0 0 .1-.1 .1 0 0 0 .1-.1 .1 0 .1 0 0 0 .1 .1 .1 0 0 .1 .1 .1 .1 .1 0 .1 .1 0 .1 0 .1 0 0 0 .1-.1 .1 0 0 0 .1 0 .1-.1 0 0 .1 0 .1-.1 .1 0 0-.1 .1 0 .1 .1 0 0 .1 .1 .1 0 0 .1 .1 0 .1 .1 .1 0 0-.1 .1 0 .1 0 0 0 .1 0 .1 0 0 .1 .1 0 .1 .1 .1 .1 0 .1 .1 .1 .1 0 0-.1 .1-.3 .1-.6 0-.5 .1-.6 .1-.6 .1-.5 0-.5 .1-.4 .1-.5 0-.4 .1-.5 .1-.5 0-.5 .1-.5 .1-.6 .1-.6 0-.6 .1-.7 .1-.7 0-.6 .1-.4 .1-.4 0-.4 .1-.3 .1-.4 .1-.4 0-.4 .1-.5 .1-.5 0-.5 .1-.6 .1-.5 0-.6 .1-.6 .1-.6 .1-.7 0-.6 .1-.6 .1-.7 0-.6 .1-.7 .1-.6 0-.5 .1-.3 .1-.3 .1-.4 0-.3 .1-.4 .1-.3 0-.4 .1-.3 .1-.3 0-.4 .1-.3 .1-.2 .1 0 0 .1 .1 .1 .1 0 0 .1 .1 .1 .1-.1 0-.1 .1-.2 .1-.2 .1-.2 0-.2 .1-.1 .1-.2 0 0 .1-.1 .1 0 0 0 .1 0 .1 0 .1 0 0 .1 .1 .2 .1 .1 0 .2 .1 .1 .1 .1 .1 0 0-.1 .1-.2 .1-.2 0-.2 .1-.1 .1-.2 0-.1 .1 .1 .1 .1 .1 .1 0 .1 .1 .1 .1 .1 0 0 .1 0 .1 0 0-.1 .1 0 .1 0 .1-.1 0 .1 .1 0 .1 .1 0 .1 .1 .1 .1 .1 0 .1 .1 .1 .1 0 .1 0 0 0 .1 0 .1 0 0 .1 .1 0 .1 .1 0 0 .1 .1 .1 0 .1 .1 0 0 .1 .1 .1 .2 0 .2 .1 .2 .1 .1 0 .2 .1 .3 .1 .4 .1 .3 0 .3 .1 .3 .1 .3 0 .3 .1 .2 .1 .4 0 .4 .1 .4 .1 .4 .1 .4 0 .4 .1 .4 .1 .3 0 .4 .1 .4 .1 .4 0 .5 .1 .4 .1 .4 .1 .4 0 .4 .1 .5 .1 .4 0 .4 .1 .4 .1 .4 0 .5 .1 .5 .1 .6 .1 .5 0 .6 .1 .5 .1 .6 0 .5 .1 .4 .1 .4 0 .4 .1 .4 .1 .4 .1 .4 0 .5 .1 .5 .1 .5 0 .4 .1 .5 .1 .5 0 .5 .1 .5 .1 .4 .1 .5 0 .6 .1 .5 .1 .6 0 .5 .1 .6 .1 .6 0 .6 .1 .7 .1 .6 .1 .6 0 .6 .1 .7 .1 .9 0 .8 .1 .9 .1 .8 0 .9 .1 .3 .1-.5 .1-.6 0-.5 .1-.6 .1-.6 0-.5 .1-.6 .1-.6 0-.8 .1-.5 .1-.3 .1-.2 0-.3 .1-.2 .1-.1 0 .1 .1 .1 .1 .1 0 .1 .1 .1 .1 .1 .1 .1 0 0 .1 .1 .1 .1 0 .1 .1 .1 .1 .1 0 0 .1-.1 .1-.2 .1-.1 0-.1 .1-.1 .1-.2 0-.1 .1-.2 .1-.1 0-.2 .1-.2 .1-.1 .1-.2 0 0 .1 .2 .1 .1 0 .2 .1 .2 .1 .1 0 .2 .1 .1 .1 0 .1-.1 0 0 .1 0 .1 0 0 0 .1 0 .1 0 .1 .1 0 0 .1 0 .1 0 0 .1 .1 0 .1-.1 0-.1 .1-.1 .1-.1 .1-.1 0 0 .2 .1 .2 .2 .2 .2 .2-.1 .2 0 .2-.2 .2-.3 .2-.1 .2 .3 .2 .3 .2 .1 .2-.1 .2 .1 .2 .2 .2 .2 .2 .1 .2 0 .2-.1 .1-.5 .2-.4 .2 .1 .2 .2 .2 .3 .2 .2 .2 .2 .2 0 .2 0 .2 0 .2 0 .2-.1 .2-.2 .2-.2 .2-.1 .2 .3 .2 .3 .2-.2 .2-.3 .2-.3 .2 0 .2 0 .2 .1 .2 .1 .2 .1 .2 .2 .1 .2 .2 0 .2-.1 .2-.1 .2-.3 .2-.3 .2 .2 .2 .4 .2 .3 .2-.2 .2-.1 .2-.1 .2-.1 .2-.1 .2 .3 .2 .2 .2-.2 .2-.3 .2-.1 .2 .1 .2 .1 .2-.1 .2 0 .2-.1 .2-.1 .2-.1 .1-.1 .2-.1 .2-.1 .2-.1 .2-.1 .2-.2 .2-.3 .2-.1 .2 .4 .2 .4 .2 .2 .2 0 .2 .1 .2-.1 .2-.1 .2 .2 .2 .3 .2 .2 .2-.3 .2-.2 .2 .1 .2 .2 .2 .1 .2 .2 .2 .2 .2 .1 .1-.1 .2-.1 .2-.4 .2-.3 .2 .1 .2 .3 .2 .1 .2-.1 .2-.1 .2 0 .2 0 .2-.1 .2-.3 .2-.2 .2 0 .2 .1 .2 0 .2-.1 .2-.1 .2 0 .2 .1 .2 .1 .2 .1 .2 .1 .2 .2 .2 .2 .1 .1 .2 0 .2 .1 .2-.1 .2 0 .2 0 .2 .1 .2 0 .2-.1 .2-.1 .2 0 .2 0 .2 0 .2 0 .2-.1 .2-.1 .2-.1 .2-.1 .2 0 .2 .1 .2 .1 .2 .1 .2 .2 .2 .1 .2 .1 .2 0 .1-.1 .2-.2 .2 0 .2 0 .2-.1 .2-.2 .2-.2 .2 .3 .2 .6 .2 .2 .2-.3 .2-.3 .2-.1 .2 0 .2-.1 .2-.3 .2-.2 .2 .2 .2 .3 .2 .2 .2-.1 .2-.2 .2-.2 .2-.3 .2-.1 .2 .3 .1 .2 .2 .1 .2-.1 .2 0 .2 .2 .2 .1 .2 .2 .2 .1 .2 0 .2-.1 .2 0 .2 .3 .2 .4 .2 .2 .2-.1 .2-.1 .2-.2 .2-.2 .2-.2 .2 0 .2 0 .2 0 .2 0 .2 0 .2 .1 .2 0 .1 0 .2-.1 .2 0 .2 0 .2 0 .2 0 .2 0 .2 .1 .2 0 .2 0 .2 .1 .2 0 .2 .1 .2-.1 .2-.1 .2 0 .2 .1 .2 0 .2 .1 .2 0 .2 .1 .2 0 .2 0 .2 .1 .2 0 .2-.4 .1-.4 .2-.2 .2 .1 .2 .2 .2 .1 .2 .1 .2 .1 .2-.2 .2-.2 .2-.1 .2 0 .2 0 .2 0 .2 0 .2-.2 .2-.4 .2-.3 .2 .1 .2 0 .2 .2 .2 .2 .2 .2 .2 .6 .2 .5 .2 .1 .2 0 .1 0 .2-.1 .1-.1 .1 0 .1-.1 0 0 .1 .1 .1 0 0 .1 .1 0 .1 0 0 .1 .1 0 .1 0 .1 .1 0 0 .1 0 .1 .1 0 0 .1 0 .1-.1 0-.1 .1 0 .1-.1 .1-.1 0 0 .1-.1 .1 0 0-.1 .1 0 .1-.1 0 0 .1-.1 .1 .1 .1-.1 0 0 .1-.1 .1-.1 0-.1 .1 0 .1-.2 0-.3 .1-.1 .1-.1 .1-.1 0 0 .1-.1 .1-.1 0 0 .1 0 .1 0 0 0 .1 0 .1-.1 .1 0 0 0 .1 0 .1 0 0 0 .1 0 .1 0 0 0 .1-.2 .1-.1 .1-.1 0-.2 .1-.1 .1-.1 0 0 .1 .1 .1 .2 0 .1 .1 .1 .1 .1 .1 .1 0 .1 .1 0 .1 0 0-.1 .1 0 .1 0 .1 0 0 0 .1 .1 .1 .1 0 0 .1 .1 .1 .1 0 0 .1 0 .1-.1 .1-.1 0-.1 .1-.1 .1 0 0-.1 .1-.1 .1 0 0 .1 .1 0 .1 0 .1 0 0 0 .1 .1 .1 .1 0 .1 .1 .1 .1 .1 0 .1 .1 .2 .1 0 .1 0 0 0 .1 0 .1 0 0 0 .1 0 .1-.1 0-.2 .1-.1 .1-.2 .1-.1 0-.2 .1-.1 .1 0 0 .1 .1 .1 .1 .1 0 .1 .1 .1 .1 0 .1 0 0 0 .1-.1 .1 0 0-.1 .1 0 .1-.1 0 0 .1 0 .1-.1 .1 0 0 0 .1 0 .1 0 0-.1 .1-.2 .1-.1 0-.2 .1-.1 .1-.2 .1-.1 0 0 .1 .1 .1 .2 0 .1 .1 .2 .1 .1 0 .2 .1 0 .1 .1 .1 0 0 0 .1 .1 .1 0 0 0 .1 0 .1 0 0-.2 .1-.5 .1-.6 .1-.5 0-.5 .1-.5 .1-.6 0-.5 .1 .3 .1 .9 0 .9 .1 .8 .1 .9 .1 .9 0 .8 .1 .9 .1 .9 0 .8 .1 0 .1-.7 0-.6 .1-.7 .1-.7 .1-.6 0-.7 .1-.7 .1-.2 0 .1 .1 .1 .1 .1 0 .1 .1 .1 .1 .2 .1 .1 0 .7 .1 0 .1 0 0-.1 .1 0 .1 0 0 0 .1 0 .1 0 .1-.1 0 0 .1 0 .1 0 0 0 .1 .1 .1 0 0 .1 .1 0 .1 .1 .1 0 0 .1 .1-.1 .1 0 0 0 .1 0 .1 0 0-.1 .1 0 .1 .1 .2 0 .2 0 .2-.1 .2-.1 .2-.2 .2-.1 .2-.2 .2-.1 .2-.1 .2 0 .1 .1 .2 .1 .2 .2 .2 .1 .2 0 .2 0 .2-.1 .2-.1 .2-.1 .2-.2 .2-.2 .2-.1 .2 .1 .2 .2 .2 0 .2-.1 .2-.1 .2 .1 .2 .1 .2 .1 .2 0 .2 .1 .2 .3 .2 .3 .2-.2 .2-.7 .1-.6 .2-.1 .2 0 .2 .1 .2 .4 .2 .3 .2-.4 .2-.5 .2 .3 .2 .7 .2 .7 .2 .2 .2 .2 .2-.2 .2-.4 .2-.4 .2 0 .2 .1 .2 0 .2-.1 .2 0 .2-.2 .2-.1 .2-.1 .2 0 .2-.1 .1 0 .2 0 .2 0 .2 .1 .2 0 .2-.3 .2-.4 .2 .3 .2 .7 .2 .6 .2-.1 .2-.2 .2-.1 .2 0 .2 0 .2 0 .2 0 .2 0 .2 .1 .2 .1 .2-.1 .2-.1 .2 0 .2 .1 .2 .1 .2 0 .1 0 .2 .2 .2 .3 .2 .3 .2-.5 .2-.5 .2-.3 .2 0 .2-.1 .2 .1 .2 .1 .2 .1 .2 .1 .2 0 .2 .3 .2 .3 .2 0 .2-.1 .2-.1 .2 .1 .2 0 .2 .1 .2 0 .2 .1 .2-.2 .2-.1 .1 0 .2 .1 .2 .1 .2-.3 .2-.2 .2 0 .2 .1 .2 .2 .2-.2 .2-.1 .2-.1 .2 .1 .2 0 .2 0 .2-.1 .2 .1 .2 .1 .2 .1 .2-.5 .2-.5 .2 0 .2 .4 .2 .4 .2-.2 .2-.1 .2 0 .1 .2 .2 .1 .2 0 .2 0 .2 .3 .2 .5 .2 .4 .2 .4 .2 .3 .2 0 .2-.4 .2-.3 .2-.2 .2-.3 .2-.2 .2-.1 .2-.1 .2 .2 .2 .2 .2 0 .2-.1 .2 0 .2 .2 .2 .2 .2-.1 .2-.3 .1-.3 .2 .1 .2 .1 .2-.1 .2-.3 .2-.3 .2 .1 .2 0 .2 .1 .2-.1 .2 0 .2 0 .2 0 .2 .3 .2 .5 .2 .5 .2-1.3 .2-1.4 .2-.3 .2 .5 .2 .4 .2 .3 .2 .3 .2 .1 .2-.2 .2-.1 .1 .2 .2 .2 .2 .1 .2 0 .2 0 .2 0 .2 0 .2 .2 .2 .1 .2 .2 .2 0 .2 0 .2 .3 .2 .5 .2 .5 .2-.5 .2-.5 .2-.3 .2 0 .2-.1 .2 .2 .2 .1 .2 .1 .2 0 .2 .1 .2-.1 .1 0 .2-.4 .2-.8 .2-.6 .2 .8 .2 .7 .2 .4 .2 .2 .2 .1 .2-.1 .2 0 .2 0 .2-.1 .2-.1 .2-.3 .2-.4 .2 0 .2 .2 .2 .1 .2-.2 .2-.2 .2 0 .2 .1 .2 .1 .2 .2 .2 .3 .1-.1 .2-.3 .2-.3 .2 .1 .2 .2 .2 0 .2-.2 .2-.2 .2-.1 .2-.1 .2 0 .2 0 .2 0 .2-.9 .2-.9 .2 .1 .2 .9 .2 .9 .2 .1 .2 0 .2 .2 .2 .1 .2 .1 .2-.2 .2-.3 .2 0 .1 .2 .2 .3 .2-.1 .2-.1 .2 .2 .2 .4 .2 .4 .2-.2 .2-.2 .2-.1 .2-.2 .2-.2 .2-.2 .2-.2 .2 .1 .2 .3 .2 .2 .2 0 .2 .1 .2-.1 .2 0 .2-.1 .2 .3 .2 .3 .2 0 .2-.2 .1-.3 .2 .1 .2 .1 .2-.4 .2-.6 .2-.6 .2 .4 .2 .5 .2 .1 .2-.2 .2-.1 .2 .2 .2 .3 .2-.3 .2-.7 .2-.5 .2 .7 .2 .8 .2 .2 .2-.1 .2-.2 .2 .2 .2 .1 .2-.1 .2-.4 .2-.4 .1 0 .2 .1 .2 .1 .2 .1 .2 .1 .2-.3 .2-.3 .2-.2 .2 0 .2 0 .2 .2 .2 .3 .2 .1 .2-.2 .2-.1 .2 .3 .2 .3 .2 .1 .2 .1 .2 0 .2 .1 .2 .1 .2-.1 .2-.4 .2-.2 .2 .9 .1 .9 .2 0 .2-.5 .2-.6 .2-.3 .2-.2 .2-.1 .2 .1 .2 .1 .2 .3 .2 .3 .2 .1 .2-.1 .2 0 .2-.3 .2-.3 .2 0 .2 .3 .2 .3 .2 0 .2 .1 .2 .1 .2 0 .2 .1 .2-.1 .2-.2 .1 0 .2 0 .2 0 .2-.2 .2-.1 .2 .1 .2 .2 .2 .2 .2-.2 .2-.1 .2 .1 .2 .3 .2 .2 .2-.3 .2-.3 .2-.2 .2-.1 .2 0 .2 .1 .2 .2 .2 0 .2-.2 .2-.1 .2-.2 .2-.2 .2 0 .1 0 .2 0 .2 .3 .2 .3 .2-.1 .2-.5 .2-.4 .2 .1 .2 .1 .2 .2 .2 .3 .2 .2 .2-.2 .2-.3 .2 .1 .2 .2 .2 .2 .2 0 .2 0 .2-.1 .2-.1 .2-.1 .2 .3 .2 .3 .2 .1 .2 .1 .1 0 .2-.3 .2-.4 .2-.2 .2 .1 .2 0 .2-.1 .2-.1 .2 .3 .2 .4 .2 .4 .2-.3 .2-.3 .2-.1 .2 0 .2 0 .2 0 .2 .1 .2-.1 .2-.1 .2-.1 .2 0 .2 .1 .2 0 .2-.1 .2 0 .1-.1 .2 0 .2 0 .2 0 .2 .1 .2 .1 .2 .1 .2 .1 .2-.1 .2-.1 .2 .1 .2 .1 .2 .1 .2 .2 .2 .2 .2-.2 .2-.2 .2-.3 .2-.2 .2-.2 .2 .2 .2 .3 .2 .1 .2 0 .2 .1 .2 .1 .1 .2 .2-.1 .2-.1 .2-.1 .2 .1 .2 0 .2-.1 .2-.2 .2-.3 .2 .1 .2 0 .2-.2 .2-.4 .2-.3 .2 .4 .2 .3 .2 .2 .2-.1 .2 0 .2 0 .2 0 .2 0 .2 0 .2 0 .2 .1 .2 .2 .1 0 .2-.1 .2-.1 .2 .1 .2 0 .2 .1 .2 0 .2 0 .2 0 .2-.1 .2-.1 .2-.2 .2-.1 .2 .2 .2 .1 .2-.1 .2-.2 .2-.2 .2 .4 .2 .5 .2 0 .2-.4 .2-.4 .2 0 .2 .1 .2 .1 .1 .2 .2 .2 .2 0 .2 0 .2 0 .2-.1 .2 0 .2 0 .2 0 .2-.2 .2-.3 .2-.3 .2 .4 .2 .3 .2 .1 .2-.2 .2-.2 .2-.1 .2-.1 .2-.1 .2 .1 .2 0 .2-.2 .2-.3 .2 .1 .2 .3 .2 .3 .1 0 .2 0 .2-.1 .2-.1 .2-.2 .2 0 .2 0 .2 .1 .2 .2 .2 .2 .2-.4 .2-.4 .2 .1 .2 .6 .2 .5 .2-.3 .2-.3 .2 0 .2 .2 .2 .2 .2 0 .2 .1 .2 0 .2 0 .2 .1 .2 0 .1 0 .2-.1 .2-.2 .2-.2 .2-.1 .2-.2 .2 .2 .2 .3 .2 .4 .2 0 .2 0 .2 .1 .2 0 .2-.1 .2 .1 .2 .1 .2 0 .2-.3 .2-.2 .2 0 .2 .1 .2 0 .2 .1 .2 0 .2-.1 .2-.1 .1-.3 .2-.5 .2-.5 .2 .2 .2 .2 .2 .1 .2 0 .2 0 .2 0 .2 0 .2 .2 .2 .1 .2 .2 .2 .1 .2 .1 .2 .1 .2 .1 .2 .1 .2-.2 .2-.3 .2 .1 .2 .3 .2 .3 .2-.2 .2-.2 .2 .1 .1 .3 .2 .2 .2-.5 .2-.4 .2-.1 .2 .3 .2 .2 .1 .1 .1 .1 0 .1 .1 .2 .1 .1 0 .1 .1 .1 .1-.1 .1-.1 0-.1 .1-.1 .1-.1 0-.2 .1 0 .1 0 0 0 .1 0 .1 0 .1 .1 0 0 .1 0 .1 .1 0 0 .1 .1 .1 0 0 .1 .1 0 .1 .1 .1 0 0 0 .1-.1 .1 0 0 0 .1 0 .1 0 0 0 .1 0 .1 0 .1 0 0 0 .1 0 .1 0 0 0 .1 0 .1 0 0 0 .1 0 .1 0 .1 0 0 0 .1 0 .1 0 0 0 .1 0 .1-.1 0 0 .1 0 .1 0 .1 0 0 0 .1 0 .1 0 0 0 .1 0 .1 0 0 0 .1 0 .1 0 .1-.1 0 0 .1 .1 .1 0 .2 0 .2 0 .2 0 .2 0 .1 0 .2 0 .2 0 .2 0 .2 0 .2 0 .2 .1 .2 0 .2 0 .2 0 .2 0 .2 0 .2 0 .2 .1 .2 0 .2 0 .2 0 .2 0 .2 .1 .2 0 .2 0 .2 0 .2 0 .2 .1 .2 0 .2 .1 .1 0 .2 0 .2 .1 .2 0 .2 0 .2 0 .2 .1 .2 .1 .2 .1 .2 0 .2 .1 .2 0 .2-.1 .2-.1 .2 .1 .2 0 .2 0 .2-.1 .2 0 .2-.1 .2 0 .2 0 .2-.1 .2 0 .2 0" stroke="#ff0000" stroke-width="1.05"/>
<path d="M46.4 202.2l.2 0 .2 0 .2 0 .2 0 .2 0 .2 0 .2 0 .2 0 .2 0 .2 0 .2 0 .2 0 .2 0 .1 0 .2 0 .2 0 .2 0 .2 0 .2 0 .2 0 .2 0 .2 0 .2 0 .2 0 .2 0 .2 0 .2 0 .2 0 .2 0 .2 0 .2 0 .2 0 .2 0 .2 0 .2 0 .2 0 .2 0 .2 0 .2 0 .1 0 .2 0 .2 0 .2 0 .2 0 .2 0 .2 0 .2 0 .2 0 .1 0 .1-.5 0-1.1 .1-1.2 .1-1.2 0-1.1 .1-1.2 .1-1.2 0-1.1 .1-1.2 .1-1.2 .1-1.1 0-1.2 .1-1.2 .1-1.1 0-1.2 .1-1.2 .1-1.1 0-1.2 .1-4.1 .1-8.4 .1-8.4 0-8.4 .1-8.4 .1-2.1 0 7.4 .1 7.3 .1 7.4 0 4.6 .1 .5 .1 .4 .1 .5 0 .5 .1 .4 .1 .5 0 .5 .1 .4 .1 0 0-.7 .1-.7 .1-.7 .1-.7 0-.7 .1-.7 .1-.7 0 0 .1 .8 .1 .9 0 .9 .1 .9 .1 .8 .1 .9 0 .9 .1 .3 .1-.5 0-.6 .1-.5 .1-.5 0-.5 .1-.6 .1-.5 .1-.1 0 .6 .1 .5 .1 .6 0 .6 .1 .5 .1 .6 0 .5 .1 .6 .1 .6 .1 .1 0-.4 .1-.4 .1-.4 0-.4 .1-.5 .1-.4 .1-.4 0-.4 .1-.4 .1 .5 0 1.9 .1 1.9 .1 1.9 0 2 .1 1.9 .1 1.9 .1 1.9 0 1.6 .1 .9 .1 .9 0 1 .1 .9 .1 .9 0 1 .1 .9 .1 .9 .1 1 0 .9 .1 .9 .1 1.2 0 1.4 .1 1.4 .1 1.4 0 1.4 .1 1.4 .1 1.4 .1 1.4 0 1.4 .1 1.4 .1 0 0-1.9 .1-2 .1-2 0-1.9 .1-2 .1-1.9 .1-2 0-2 .1-1.9 .1-1.6 0-1.2 .1-1.1 .1-1.1 0-1.1 .1-1.1 .1-1.2 .1-1.1 0-1.1 .1-1.1 .1-.4 0 .7 .1 .7 .1 .7 0 .7 .1 .7 .1 .7 .1 .7 0 .7 .1 .7 .1 .7 0 .7 .1 .8 .1 1.2 0 1.1 .1 1.1 .1 1.1 .1 1.1 0 1.2 .1 1.1 .1 1.1 0 1.1 .1 .7 .1 0 0 0 .1 0 .1 .1 .1 0 0 0 .1 0 .1 0 0 0 .1 0 .1 .1 0 0 .1 0 .1 0 .1 0 0 0 .1 0 .1 .1 0 0 .1 0 .1 0 0 0 .1 .1 .1 0 .1 0 0 .1 .1 0 .1 0 0 0 .1 0 .1 .1 0 .7 .1 0 .1 0 .1-.1 0-.1 .1-.1 .1-.1 0-.1 .1-.1 .1 0 0 0 .1-.1 .1 0 .1 0 0 0 .1 0 .1 0 0 .1 .1 .1 .1 .1 0 .1 .1 .1 .1 .1 .1 0 0-.1 .1-.1 .1-.1 0-.1 .1-.1 .1-.1 0-.1 .1 .1 .1 0 .1 0 0 .1 .1 0 .1 0 0 .1 .1 .1 .1 .1 0 .2 .1 .1 .1 .1 .1 .1 0 .1 .1 0 .1 0 0 0 .1 0 .1 0 0 0 .1 0 .1-.1 .1-.1 0-.1 .1-.1 .1-.1 0-.1 .1-.1 .1 0 0-.1 .1 0 .1 0 .1-.1 0 0 .1 0 .1 .2 0 .1 .1 .2 .1 .1 .1 .1 0 .2 .1 .1 .1-.1 0 0 .1 0 .1 0 0 0 .1 0 .1-.1 .1-.3 0-.3 .1-.2 .1-.3 0-.3 .1-.2 .1-.2 0-.1 .1 0 .1-.1 .1-.1 0-.1 .1 0 .1 0 0 .2 .1 .2 .1 .2 0 .2 .1 .2 .1 .2 .1 .1 .1-.3 .2-.2 .2-.3 .2-.2 .2-.1 .2 .5 .2 .6 .2 .1 .2-.2 .2-.1 .2-.1 .2-.1 .2-.1 .2-.1 .2-.1 .2 0 .2 .1 .2 .2 .2 .2 .2 0 .2-.5 .2-.5 .2 0 .2 .3 .2 .2 .2 0 .1 0 .2 .1 .2 .2 .2 .1 .2-.2 .2-.2 .2 0 .2 0 .2 .1 .2-.1 .2 0 .2-.1 .2-.2 .2-.1 .2 .2 .2 .2 .2 .2 .2 .1 .2 .1 .2-.1 .2-.1 .2-.1 .2 0 .2 0 .2 .1 .2 0 .1 0 .2-.1 .2 0 .2 .6 .2 .6 .2 .3 .2 .1 .2 .1 .2 .2 .2 .3 .2-.3 .2-.7 .2-.7 .2-.4 .2-.5 .2 0 .2 .3 .2 .2 .2 .1 .2 .1 .2-.1 .2-.2 .2-.2 .2 .1 .2 0 .2 .4 .1 .7 .2 .5 .2-.6 .2-.7 .2-.2 .2 0 .2 0 .2-.3 .2-.2 .2 0 .2 0 .2 .1 .2-.1 .2-.1 .2 0 .2 .2 .2 .1 .2 .1 .2 .2 .2-.2 .2-.4 .2-.2 .2 .5 .2 .5 .2 .1 .2-.3 .1-.1 .2 .2 .2 .2 .2-.1 .2-.2 .2-.2 .2 0 .2 0 .2 .2 .2 .2 .2 .2 .2-.2 .2-.1 .2-.1 .2 0 .2 0 .2 0 .2 .1 .2 0 .2 0 .2-.1 .2-.1 .2-.2 .2 0 .2 0 .2 0 .1 .3 .2 .3 .2-.1 .2-.3 .2-.3 .2 .3 .2 .2 .2 .1 .2 0 .2-.1 .2-.2 .2-.2 .2-.1 .2 0 .2 0 .2 .1 .2 .2 .2-.1 .2-.2 .2-.2 .2 .1 .2 0 .2 .1 .2 0 .2 .1 .2-.1 .1-.1 .2 .1 .2 .2 .2 .1 .2-.2 .2-.2 .2 .2 .2 .5 .2 .3 .2-.3 .2-.3 .2-.2 .2-.2 .2-.1 .2-.2 .2 0 .2 0 .2 0 .2 .1 .2 .4 .2 .4 .2 .3 .2 .1 .2 .2 .2-.1 .2 0 .1-.2 .2-.1 .2-.2 .2 .3 .2 .3 .2 .3 .2 .2 .2 .1 .2-.1 .2-.2 .2-.1 .2-.2 .2 0 .2 .3 .2 .4 .2-.2 .2-.6 .2-.5 .2 .2 .2 .2 .2-.1 .2-.2 .2-.2 .2-.1 .2-.1 .2 0 .1 .1 .2 0 .2 .1 .2 .1 .2 .1 .2 0 .2 0 .2 .2 .2 .2 .2 0 .2-.1 .2 0 .2 .4 .2 .5 .2-.2 .2-.4 .2-.4 .2-.1 .2 0 .2 .1 .2 .2 .2 .1 .2-.1 .2-.1 .2 0 .2 0 .1 0 .2-.3 .2-.2 .2-.1 .2 0 .2 0 .2-.1 .2 0 .2-.1 .2-.1 .2-.1 .2-.4 .2-1.2 .2-1.3 .2-1.4 .2-1.3 .2-1.5 .2-1.5 .2-1.3 .2-1 .2-1.1 .2-1.2 .2-1.2 .2-1.3 .2-1.5 .2-1.4 .1-1 .2-.6 .2-.5 .2-.6 .2-.6 .2-.6 .2-.7 .2-.7 .2-.7 .2-.6 .2 .1 .2 0 .2-.4 .2-.8 .2-.7 .2-.2 .2-.3 .2 .1 .2 .1 .2 .1 .2-.4 .2-.3 .2 .3 .2 .5 .2 .5 .2-.1 .1 0 .2 .4 .2 .4 .2 .5 .2 .8 .2 .8 .2 .7 .2 .6 .2 1 .2 .9 .2 1.1 .2 1 .2 1 .2 1 .2 .8 .2 .8 .2 1.3 .2 1.8 .2 1.7 .2 1 .2 1.1 .2 1.4 .2 1.6 .2 1.5 .2 1 .2 1 .2 1.7 .1 2.1 .2 2.2 .2 2.9 .2 2.8 .2 1.3 .2-2.1 .2-2.1 .2-1.4 .2-.2 .2-.1 .2-.2 .2-.2 .2-.2 .2-.1 .2 0 .2-.1 .2-.1 .2 .4 .2 .3 .2-.1 .2-.3 .2-.3 .2-.2 .2-.3 .2 0 .2 .1 .1 0 .2-.4 .2-.4 .2 0 .2 .2 .2 .3 .2 0 .2 0 .2-.1 .2-.1 .2-.1 .2 .1 .2 0 .2 0 .2-.1 .2-.1 .2 0 .2-.1 .2-.3 .2-.5 .2-.4 .2 .2 .2 .3 .2 .1 .2 .1 .2 0 .1 .1 .2 0 .2 .1 .2 .1 .2 .1 .2-.1 .2-.2 .2 .1 .2 .2 .2 .1 .2-.4 .2-.4 .2 .3 .2 .8 .2 .6 .2-.2 .2-.2 .2-.1 .2-.2 .2-.1 .2 .2 .2 .2 .2 .1 .2 0 .2 0 .2-.1 .1-.1 .2-.1 .2 0 .2-.1 .2 0 .2 0 .2 0 .2 0 .2 0 .2 .2 .2 .1 .2-.1 .2-.4 .2-.2 .2 0 .2 .1 .2 0 .2-.1 .2 0 .2 .1 .2 .1 .2 .1 .2 0 .2 0 .2 0 .2 0 .1 .2 .2 .2 .2 .2 .2-.2 .2-.1 .2 0 .2 0 .2 .1 .2 0 .2 .1 .2 .1 .2 .2 .2 .1 .2 .1 .2 .1 .2 .3 .2 .3 .2 .4 .2 .3 .2 .3 .2-.1 .2-.3 .2-.4 .2 .1 .2 .2 .2 .1 .1 .1 .2 .1 .2-.2 .2-.1 .2-.2 .2-.1 .2-.1 .2 .3 .2 .2 .2-.1 .2-.3 .2-.2 .2 .1 .2 .1 .2-.1 .2-.3 .2-.1 .2 .1 .2 .2 .2-.4 .2-.6 .2-.5 .2 .4 .2 .5 .2 0 .2-.1 .1-.1 .2-.1 .2-.1 .2 .2 .2 .3 .2 .2 .2-.1 .2-.1 .2-.3 .2-.2 .2-.2 .2 .3 .2 .2 .2 .1 .2 0 .2 0 .2 0 .2-.1 .2 .1 .2 .1 .2 .1 .2-.2 .2-.1 .2 .2 .2 .2 .2 .1 .1-.2 .2-.3 .2 0 .2 0 .2 0 .2 0 .2-.1 .2 0 .2-.2 .2-.1 .2-.3 .2-.3 .2 .3 .2 .5 .2 .5 .2-.1 .2-.2 .2-.2 .2-.2 .2-.1 .2 .3 .2 .3 .2-.1 .2-.3 .2-.2 .2 0 .1-.1 .2-.2 .2-.3 .2-.2 .2-.1 .2-.1 .2 .1 .2 .2 .2 .1 .2-.5 .2-.6 .2 .2 .2 .5 .2 .5 .2 0 .2 .1 .2 0 .2-.1 .2-.1 .2-.2 .2-.1 .2 .1 .2 .4 .2 .4 .2 0 .2 .1 .1-.4 .2-.6 .2-.5 .2 .5 .2 .4 .2 .3 .2 .1 .2 .1 .2 0 .2 .1 .2 .1 .2 .2 .2 .1 .2-.2 .2-.3 .2-.1 .2 0 .2 .1 .2 0 .2 .1 .2-.2 .2-.2 .2-.2 .2 0 .2 0 .2 .2 .1 .4 .2 .2 .2-.2 .2-.1 .2-.1 .2-.1 .2 0 .2 .3 .2 .3 .2 .1 .2-.2 .2 0 .2 .2 .2 .3 .2-.2 .2-.5 .2-.3 .2 .3 .2 .4 .2 0 .2-.1 .2-.1 .2 .4 .2 .4 .2-.1 .2-.3 .1-.3 .2-.3 .2-.3 .2-.2 .2-1 .2-1.4 .2-.7 .2-.6 .2-1.5 .2-1.9 .2-1.9 .2-1.6 .2-1.5 .2-1.2 .2-1 .2-1.2 .2-1.6 .2-1.6 .2-1.4 .2-1.3 .2-.6 .2-.7 .2-.7 .2-.5 .2-.4 .2-.5 .1-.9 .2-.9 .2-.6 .2-.2 .2-.3 .2-.4 .2-.4 .2-.2 .2-.1 .2-.2 .2-.1 .2-.2 .2-.1 .2-.2 .2 0 .2 .4 .2 .4 .2 .1 .2-.2 .2 .1 .2 1 .2 1.1 .2 .6 .2 .4 .2 .4 .2 .5 .1 .6 .2 1.2 .2 1.1 .2 1.1 .2 1.1 .2 1 .2 1 .2 1 .2 .9 .2 .7 .2 .5 .2 .6 .2 .6 .2 .7 .2 .8 .2 .9 .2 .8 .2 1.3 .2 1.2 .2 1.5 .2 1.5 .2 1.6 .2 1.5 .2 1.6 .2 .5 .2-.8 .1-.7 .2-.6 .2 0 .2-.1 .2-.1 .2-.1 .2 0 .2 .1 .2 .1 .2 0 .2 .1 .2 .1 .2 .1 .2-.1 .2-.1 .2-.1 .2-.2 .2-.1 .2 0 .2 .1 .2 0 .2 .1 .2 0 .2 .1 .2 0 .2 0 .1-.1 .2 0 .2 .1 .2 .1 .2 0 .2-.2 .2-.1 .2 .2 .2 .2 .2 0 .2-.1 .2-.1 .2 0 .2-.1 .2 0 .2 0 .2 0 .2 0 .2 0 .2 0 .2 .1 .2 .1 .2 .1 .2 0 .2 0 .2 0 .1 0 .2 0 .2 .1 .2-.1 .2-.1 .2 0 .2 .4 .2 .4 .2 0 .2-.1 .2-.2 .2-.2 .2-.2 .2 0 .2 0 .2 .1 .2-.2 .2-.1 .2-.1 .2 .1 .2 0 .2 0 .2-.1 .2 .1 .2 .1 .2 0 .1-.1 .2-.2 .2 0 .2 .1 .2 .1 .2 .2 .2 .2 .2 .1 .2 0 .2 0 .2-.2 .2-.1 .2 0 .2 .1 .2 .1 .2-.1 .2-.2 .2 0 .2 0 .2 0 .2 .4 .2 .5 .2-.1 .2-.4 .2-.3 .2 0 .1-.1 .2 0 .2-.1 .2-.1 .2 0 .2 0 .2 .1 .2 .2 .2 0 .2-.2 .2-.3 .2 .1 .2 .3 .2 .3 .2-.1 .2-.2 .2 .1 .2 .2 .2 .1 .2-.2 .2-.2 .2-.1 .2 0 .2 0 .2-.1 .2-.2 .1-.2 .2-.2 .2-.2 .2 0 .2 0 .2-.1 .2-.1 .2 0 .2 .1 .2 0 .2 0 .2-.1 .2 0 .2 .1 .2 .2 .2-.2 .2-.3 .2-.2 .2 .6 .2 .7 .2 0 .2-.4 .2-.3 .2-.6 .2-.5 .2 .1 .1 .4 .2 .4 .2 0 .2 0 .2 .2 .2 .2 .2 .2 .2-.4 .2-.3 .2-.2 .2-.3 .2-.1 .2 .7 .2 .7 .2 .1 .2-.1 .2-.2 .2 0 .2 0 .2-.1 .2 0 .2-.1 .2 0 .2 0 .2 0 .2 0 .1-.1 .2 0 .2 0 .2 .4 .2 .5 .2 .4 .2-.4 .2-.5 .2-.2 .2-.1 .2-.1 .2 0 .2 .1 .2-.1 .2-.3 .2-.3 .2 .1 .2 0 .2-.1 .2 0 .2-.1 .2-.3 .2-.3 .2 0 .2 .1 .2 0 .1-.5 .2-.4 .2 .1 .2 .4 .2 .3 .2-.3 .2-.2 .2-.1 .2 0 .2 0 .2-.1 .2-.2 .2 0 .2 .1 .2 .1 .2-.2 .2-.1 .2-.1 .2 .1 .2 .3 .2 .9 .2 .9 .2 .1 .2-.5 .2-.4 .2 0 .1 0 .2-.1 .2 0 .2 0 .2 .3 .2 .3 .2 .2 .2 .2 .2 .1 .2 .1 .2 0 .2-.2 .2-.2 .2-.2 .1 .1 0 .1 .1 .1 .1 .1 .1 0 0 .1 .1 .1 .1-.1 0 0 .1 0 .1-.1 0 0 .1 0 .1-.1 .1-.1 0-.1 .1-.1 .1-.2 0-.1 .1-.1 .1-.1 0 .1 .1 .1 .1 .1 .1 0 0 .1 .1 .1 .1 0 0-.1 .1 0 .1-.1 0 0 .1-.1 .1 0 .1-.1 0 0 .1-.1 .1 0 0 0 .1-.1 .1 0 0 0 .1 .1 .1 .1 .1 .1 0 .1 .1 .1 .1 0 0 .1 .1-.1 .1-.1 0-.1 .1-.1 .1-.1 .1 0 0-.1 .1 .1 .1 0 0 .1 .1 0 .1 0 0 .1 .1 0 .1 .1 .1 0 0 .1 .1 0 .1 .1 0 0 .1 .1 .1-.1 0 0 .1-.1 .1 0 .1 0 0-.1 .1 0 .1 0 0 0 .1-.1 .1 0 0 0 .1 0 .1 0 .1 .1 0 0 .1 .1 .1 .1 0 0 .1 .1 .1 .1 0 0 .1 .1 .1 0 .1 .1 0 0 .1 .1 .1 0 0-.3 .1-.4 .1-.7 0-.7 .1-.7 .1-.7 .1-.5 0-.4 .1-.3 .1-.4 0-.3 .1-.4 .1-.3 0-.4 .1-.6 .1-.6 .1-.6 0-.7 .1-.7 .1-.7 0-.6 .1-.4 .1-.4 0-.3 .1-.4 .1-.3 .1-.4 0-.4 .1-.4 .1-.5 0-.5 .1-.5 .1-.5 0-.5 .1-.6 .1-.6 .1-.6 0-.6 .1-.7 .1-.6 0-.6 .1-.7 .1-.7 0-.7 .1-.4 .1-.5 .1-.4 0-.5 .1-.4 .1-.1 0-.2 .1-.2 .1-.1 0-.2 .1-.1 .1-.2 .1-.2 0-.1 .1-.2 .1-.2 0-.2 .1-.1 .1-.1 0 0 .1 0 .1 0 .1 0 0 0 .1 .1 .1-.1 0-.1 .1-.1 .1-.1 0-.1 .1-.1 .1-.1 .1 0 0 .1 .1 .2 .1 .1 0 .1 .1 .1 .1 .1 .1 .1 0-.1 .1-.1 .1-.1 0-.1 .1-.1 .1-.1 0 0 .1 .1 .1 .1 .1 .1 0 .1 .1 .1 .1 .1 0 0 .1 0 .1-.1 0-.1 .1-.1 .1 0 .1-.1 0 0 .1 .1 .1 0 0 .1 .1 .1 .1 .1 0 0 .1 .1 .1 .2 .1 .1 0 .1 .1 .2 .1 .1 0 .2 .1 .1 .1 0 0 0 .1 .1 .1 0 .1 0 0 0 .1 .1 .1 .1 0 .1 .1 0 .1 .1 0 .1 .1 .2 .1 .3 .1 .3 0 .3 .1 .3 .1 .3 0 .3 .1 .3 .1 .3 0 .4 .1 .3 .1 .3 .1 .3 0 .4 .1 .3 .1 .4 0 .6 .1 .6 .1 .6 0 .6 .1 .6 .1 .6 .1 .5 0 .3 .1 .3 .1 .3 0 .3 .1 .3 .1 .3 0 .4 .1 .5 .1 .5 .1 .5 0 .5 .1 .5 .1 .5 0 .5 .1 .4 .1 .5 0 .4 .1 .5 .1 .4 .1 .5 0 .4 .1 .5 .1 .5 0 .4 .1 .5 .1 .5 0 .5 .1-2.7 .1 .8 .1 .8 0 .8 .1 .8 .1 .8 0 .8 .1 .8 .1 .8 0 .8 .1 .8 .1 .8 .1 .8 0 .8 .1 .8 .1 .7 0 .7 .1 .7 .1 .7 0 .7 .1-.2 .1-1.5 .1-1.5 0-1.5 .1-1.5 .1-1.5 0-1.5 .1-1.5 .1-.6 0 .8 .1 .7 .1 .8 .1 .8 0 .8 .1 .8 .1 .8 0 .7 .1 .8 .1 .4 0-.1 .1-.1 .1-.2 .1-.1 0-.2 .1-.1 .1-.1 0-.2 .1-.1 .1-.2 0-.1 .1 .6 .1-.1 .1-.1 0-.1 .1-.1 .1-.1 0-.1 .1-.1 .1-.2 0-.1 .1-.1 .1-.1 .1-.1 0 0 .1 .1 .1 .1 0 .1 .1 .1 .1 .1 0 .1 .1 0 .1 .1 .1 0 0 0 .1 0 .1 0 0 0 .1 .1 .1 0 .1 .1 0 .1 .1 0 .1 .1 0 0 .1 0 .1-.1 0-.1 .1-.1 .1-.1 .1-.1 0-.1 .2 .2 .2 .2 .2 .2 .2-.1 .2-.1 .2-.3 .2-.4 .2-.1 .2 .5 .2 .6 .2 .1 .2 0 .2 .1 .2 0 .2 0 .2 .2 .2 .1 .2 0 .1-.4 .2-.4 .2 .1 .2 .2 .2 .2 .2 .1 .2 .1 .2 .1 .2 0 .2 0 .2 0 .2 0 .2-.1 .2-.1 .2 0 .2 .2 .2 .2 .2-.3 .2-.5 .2-.3 .2 .2 .2 .2 .2 .1 .2 0 .2 0 .2 .1 .1 0 .2 .1 .2 .1 .2-.1 .2-.3 .2-.2 .2 .1 .2 .4 .2 .2 .2 0 .2 0 .2-.1 .2-.1 .2 0 .2 .1 .2 .1 .2-.2 .2-.2 .2-.1 .2 .1 .2 .1 .2 0 .2 .1 .2-.1 .2-.3 .2-.2 .1-.1 .2 0 .2 0 .2-.1 .2-.1 .2 0 .2 0 .2 0 .2 0 .2 .1 .2 .2 .2 .2 .2 .1 .2-.2 .2-.3 .2 .2 .2 .2 .2 .1 .2-.3 .2-.2 .2 .2 .2 .2 .2 .2 .2-.2 .2-.1 .2 .3 .1 .3 .2 .1 .2-.3 .2-.3 .2 .1 .2 .3 .2 .1 .2-.1 .2-.2 .2-.1 .2-.1 .2-.1 .2-.2 .2-.2 .2 .1 .2 .2 .2 .1 .2-.2 .2-.1 .2 .1 .2 .1 .2 .1 .2 .1 .2 .2 .2 .1 .2 .1 .1 0 .2-.1 .2-.1 .2 0 .2 .1 .2 .1 .2 0 .2 .1 .2-.1 .2-.1 .2-.2 .2 .1 .2 0 .2 .2 .2 .2 .2 .1 .2-.4 .2-.3 .2 .1 .2 .2 .2 .1 .2-.2 .2-.1 .2 .1 .2 .2 .2 .1 .1-.1 .2-.2 .2 0 .2 0 .2-.1 .2-.2 .2-.1 .2 .3 .2 .5 .2 .2 .2-.5 .2-.6 .2 .2 .2 .3 .2 .1 .2-.3 .2-.2 .2 0 .2 .1 .2 .1 .2-.1 .2-.2 .2 .1 .2 .2 .2 .1 .2-.1 .1-.1 .2-.1 .2-.1 .2-.1 .2 .3 .2 .3 .2 .1 .2 .1 .2 0 .2 0 .2-.1 .2 .2 .2 .2 .2 .2 .2 0 .2 0 .2-.1 .2-.1 .2-.2 .2-.2 .2-.2 .2-.1 .2 0 .2 .1 .2 0 .2 0 .1 0 .2 0 .2-.1 .2 .1 .2 0 .2 0 .2-.1 .2 0 .2 .1 .2 .1 .2 .1 .2 .2 .2 .1 .2-.1 .2-.1 .2 0 .2 0 .2 0 .2-.1 .2 0 .2 .1 .2 .1 .2 0 .2 .1 .2 .1 .2-.4 .1-.4 .2-.3 .2 .1 .2 .1 .2 .2 .2 .2 .2 0 .2-.1 .2-.2 .2 0 .2 0 .2-.1 .2-.1 .2 0 .2-.2 .2-.2 .2-.2 .2-.1 .2-.1 .2 .4 .2 .6 .2 .4 .2 .1 .2 .2 .2 0 .2 0 .1 0 .2 0 .1 .1 .1 0 .1 0 0-.1 .1 0 .1-.1 0-.1 .1-.1 .1 0 0-.1 .1 0 .1 0 .1 .1 0 0 .1 .1 .1 0 0 .1 .1 0 .1 0 0 0 .1 0 .1-.1 .1 0 0 0 .1 0 .1 0 0-.1 .1 0 .1 0 0 0 .1-.1 .1 .1 .1 0 0-.2 .1 0 .1-.1 0-.1 .1-.1 .1-.2 0-.3 .1-.2 .1-.2 .1-.1 0-.1 .1-.2 .1-.1 0 0 .1 0 .1 0 0 0 .1 0 .1 0 .1 .1 0 .1 .1 .1 .1 .2 0 .1 .1 .1 .1 .1 0-.1 .1-.3 .1-.3 .1-.3 0-.2 .1-.3 .1-.3 0 0 .1 .2 .1 .2 0 .3 .1 .2 .1 .2 .1 .2 0 .1 .1 0 .1 0 0 0 .1 .1 .1 0 .1 0 0 .1 .1 .1 .1 .1 0 .1 .1 .1 .1 .1 0 .2 .1-.1 .1-.2 .1-.2 0-.1 .1-.2 .1-.2 0-.2 .1-.1 .1-.1 0 0 .1-.1 .1-.1 .1-.1 0 0 .1 0 .1 .2 0 .2 .1 .2 .1 .1 0 .2 .1 .2 .1 0 .1 0 0 0 .1-.1 .1 0 0 0 .1-.1 .1 0 0-.1 .1 0 .1-.1 .1 0 0-.1 .1 0 .1 0 0 0 .1 .1 .1 0 0 .1 .1 .1 .1 0 .1 0 0 0 .1-.1 .1-.1 0 0 .1-.1 .1 0 0 0 .1 0 .1 0 .1 0 0 0 .1 0 .1 0 0 0 .1-.1 .1-.1 0-.1 .1 0 .1-.1 .1-.1 0 .1 .1 0 .1 .1 0 0 .1 .1 .1 0 0 .1 .1 0 .1-.1 .1 0 0-.1 .1 0 .1 0 0-.1 .1 0 .1 0 0 0 .1 0 .1 0 .1 0 0 0 .1 0 .1 0 0 0 .1 0 .1 0 0 0 .1 0 .1 0 .1 .2 0 .1 .1 .1 .1 .1 0 .1 .1 .1 .1 .2 0 .1 .1 .2 .1 .2 .1 .1 0 .2 .1 .1 .1 0 0-.1 .1-.1 .1-.1 0-.2 .1-.1 .1-.1 .1 0 0 .1 .1 0 .1 .1 0 0 .1 .1 .1 0 0 0 .1 0 .1 0 .1-.1 0 0 .1-.1 .1 0 0 0 .1 0 .1 0 0 .1 .1 0 .1 .1 .1 0 0 0 .1 0 .1 0 0-.1 .1 0 .1 0 0-.1 .1 0 .1-.1 .2-.1 .2-.1 .2 0 .2 0 .2-.1 .2-.3 .2-.2 .2 0 .2 0 .2 0 .1 0 .2 .1 .2 0 .2 .1 .2 .1 .2 .1 .2 .2 .2-.2 .2-.1 .2-.1 .2-.2 .2-.1 .2 0 .2 .1 .2 0 .2-.1 .2-.1 .2-.3 .2-.3 .2 .1 .2 .3 .2 .4 .2 .5 .2 .5 .2-.1 .2-.5 .1-.5 .2-.1 .2-.2 .2 .1 .2 .2 .2 .1 .2-.3 .2-.2 .2 .1 .2 .6 .2 .5 .2 .3 .2 .2 .2-.2 .2-.5 .2-.5 .2 .2 .2 .1 .2 .1 .2-.1 .2 0 .2-.2 .2-.1 .2-.1 .2-.1 .2 0 .1-.2 .2-.1 .2 .1 .2 .3 .2 .3 .2-.4 .2-.4 .2 .1 .2 .6 .2 .5 .2 0 .2 0 .2-.1 .2-.1 .2 0 .2 0 .2 .1 .2 .1 .2 .1 .2 .1 .2 0 .2-.1 .2 0 .2-.1 .2 0 .2 .2 .1 .2 .2 0 .2 0 .2 0 .2-.1 .2-.2 .2-.2 .2-.2 .2-.2 .2 .2 .2 .1 .2-.1 .2 0 .2-.1 .2 .4 .2 .4 .2 .1 .2-.2 .2-.1 .2 0 .2 0 .2 0 .2 0 .2-.1 .2 .1 .2 .1 .1 .1 .2 .2 .2 .2 .2-.3 .2-.3 .2 0 .2 .3 .2 .2 .2-.2 .2-.3 .2 0 .2 .2 .2 .2 .2-.2 .2-.2 .2 0 .2 .2 .2 .1 .2-.6 .2-.6 .2 0 .2 .4 .2 .4 .2 0 .2-.1 .2 .1 .1 .1 .2 .2 .2-.2 .2-.2 .2 0 .2 .2 .2 .2 .2 .6 .2 .6 .2 .2 .2-.2 .2-.2 .2-.2 .2-.1 .2-.2 .2-.2 .2-.1 .2 0 .2 .1 .2 .1 .2 0 .2 0 .2 .3 .2 .3 .2-.1 .2-.5 .1-.5 .2 .1 .2 .1 .2 0 .2-.2 .2-.1 .2 .1 .2 .1 .2-.1 .2-.2 .2-.1 .2 .2 .2 .2 .2 .4 .2 .5 .2 .4 .2-1 .2-1 .2-.4 .2 .2 .2 .2 .2 .1 .2 .2 .2 0 .2-.1 .2-.1 .1 .1 .2 .1 .2 .1 .2 .1 .2 .1 .2 0 .2 0 .2 0 .2 .1 .2 .1 .2 .1 .2 .1 .2 .3 .2 .5 .2 .5 .2-.6 .2-.5 .2-.2 .2 .2 .2 .1 .2-.1 .2-.2 .2 0 .2 .1 .2 .1 .2-.2 .1-.1 .2-.3 .2-.5 .2-.4 .2 .4 .2 .4 .2 .4 .2 .4 .2 .3 .2-.1 .2-.1 .2-.1 .2 .1 .2 0 .2-.1 .2-.2 .2-.1 .2 0 .2 0 .2-.1 .2-.1 .2-.1 .2-.1 .2 0 .2 .1 .2 .2 .1-.1 .2-.3 .2-.2 .2 .2 .2 .3 .2 0 .2-.2 .2-.2 .2-.1 .2-.1 .2 0 .2 0 .2-.1 .2-.9 .2-1 .2 0 .2 .8 .2 .7 .2 .1 .2 .2 .2 0 .2-.1 .2-.1 .2 .2 .2 .2 .2 .1 .1 .2 .2 .1 .2-.1 .2 0 .2 0 .2 .2 .2 .1 .2 0 .2 0 .2-.1 .2 0 .2-.1 .2-.1 .2-.1 .2-.1 .2 0 .2 0 .2 .2 .2 .3 .2 0 .2-.2 .2-.2 .2 .1 .2 .1 .2 .2 .2 .3 .1 .2 .2-.1 .2-.2 .2-.5 .2-.6 .2-.6 .2 .3 .2 .3 .2 .2 .2 0 .2 .1 .2 0 .2 .1 .2-.3 .2-.6 .2-.5 .2 .7 .2 .7 .2 .3 .2-.1 .2-.1 .2 .2 .2 .2 .2-.2 .2-.5 .2-.4 .1 .1 .2 .1 .2 0 .2 .1 .2 0 .2-.2 .2-.3 .2-.1 .2-.1 .2 0 .2 .1 .2 .1 .2 .1 .2 0 .2 0 .2 .3 .2 .3 .2 .2 .2 0 .2 .1 .2 .1 .2 .2 .2-.2 .2-.4 .2-.3 .2 .9 .1 .9 .2 0 .2-.6 .2-.6 .2-.1 .2 0 .2-.1 .2-.2 .2-.1 .2 .4 .2 .3 .2 .2 .2 0 .2 0 .2-.3 .2-.3 .2 .1 .2 .3 .2 .3 .2-.1 .2-.2 .2 0 .2 .1 .2 .1 .2 0 .2 0 .1 .1 .2 0 .2 .1 .2-.2 .2-.2 .2 0 .2 .2 .2 .1 .2 0 .2 0 .2 .2 .2 .1 .2 .1 .2-.4 .2-.4 .2-.3 .2-.1 .2-.1 .2 .2 .2 .1 .2 .1 .2-.1 .2 0 .2-.2 .2-.1 .2 0 .1 0 .2 .1 .2 .2 .2 .2 .2 0 .2-.1 .2-.2 .2-.3 .2-.2 .2-.1 .2 .1 .2 .1 .2 .2 .2 .2 .2 .1 .2 0 .2 0 .2 0 .2 0 .2-.1 .2 0 .2-.1 .2-.1 .2 0 .2 .2 .2 .4 .1 .4 .2-.4 .2-.3 .2-.2 .2 .1 .2 0 .2-.3 .2-.2 .2 .2 .2 .6 .2 .5 .2-.2 .2-.2 .2-.1 .2 0 .2 0 .2-.1 .2-.1 .2-.1 .2 0 .2 0 .2-.2 .2-.1 .2 0 .2 .1 .2 0 .1 0 .2 0 .2 .2 .2 .1 .2 .2 .2 .1 .2 0 .2-.1 .2-.3 .2-.2 .2 .3 .2 .2 .2 .2 .2 0 .2 .1 .2 0 .2 0 .2-.1 .2-.3 .2-.3 .2 0 .2 .1 .2 .1 .2 .2 .2 .1 .2 .1 .1 .1 .2 .1 .2 .1 .2 0 .2-.2 .2-.3 .2-.2 .2-.1 .2-.1 .2 .2 .2 .1 .2-.2 .2-.5 .2-.4 .2 .4 .2 .4 .2 .1 .2-.1 .2-.1 .2 .2 .2 .1 .2 .1 .2 0 .2 0 .2 0 .2 0 .1 0 .2-.1 .2 0 .2 .2 .2 .2 .2 .1 .2-.1 .2-.1 .2 .2 .2 .2 .2-.1 .2-.4 .2-.3 .2 .2 .2 .2 .2-.1 .2-.2 .2-.2 .2 .3 .2 .3 .2 0 .2-.4 .2-.2 .2 0 .2 0 .2 .2 .1 .3 .2 .2 .2-.4 .2-.4 .2-.1 .2 .3 .2 .3 .2-.1 .2 0 .2-.2 .2-.2 .2-.1 .2 .4 .2 .4 .2 0 .2-.3 .2-.3 .2-.1 .2-.2 .2 0 .2 .1 .2 .1 .2-.2 .2-.2 .2 .1 .2 .3 .2 .3 .1-.1 .2 0 .2-.1 .2-.1 .2-.2 .2 0 .2 0 .2-.1 .2-.1 .2-.1 .2-.1 .2-.2 .2 .3 .2 .6 .2 .6 .2-.1 .2 0 .2 0 .2 0 .2 0 .2 .1 .2 .1 .2 .1 .2 0 .2 0 .2 0 .1 .1 .2-.1 .2-.3 .2-.2 .2-.1 .2-.2 .2 .1 .2 .2 .2 .2 .2 .3 .2 .3 .2-.1 .2-.2 .2-.2 .2 .1 .2 .2 .2-.1 .2-.4 .2-.4 .2 .3 .2 .2 .2 .1 .2-.1 .2-.1 .2-.1 .2-.1 .1-.3 .2-.5 .2-.4 .2 .5 .2 .5 .2 .1 .2-.2 .2-.2 .2 .1 .2 .2 .2 .1 .2 0 .2 .1 .2 0 .2 0 .2 .1 .2 .1 .2 .1 .2-.3 .2-.3 .2 .1 .2 .3 .2 .2 .2 0 .2 0 .2 0 .1 0 .2-.1 .2-.3 .2-.3 .2 .1 .2 .2 .2 .3 .1 0 .1 .1 0 .1 .1 0 .1 .1 0 .1 .1 0 .1 0 .1 0 0-.1 .1 0 .1 0 0-.1 .1 0 .1 0 0 0 .1 0 .1 0 .1 0 0 0 .1 0 .1-1 0-.5 .1-.4 .1-.5 0-.5 .1-.4 .1-.3 .1 .8 0 .8 .1 .7 .1 .8 0 .8 .1 .8 .1 .7 0 .5 .1-.4 .1-.5 .1-.5 0-.4 .1-.5 .1 .3 0 0 .1 0 .1 0 0 0 .1 0 .1 0 .1 0 0-.1 .1 0 .1 0 0 0 .1 0 .1 0 0 0 .1 0 .1 0 .1 0 0-.1 .1 0 .1 0 0 0 .1 0 .1 0 0 0 .1-.1 .1 0 .1 0 0 0 .1 0 .1 0 .2 .1 .2 0 .2 0 .2 0 .1 0 .2 0 .2 0 .2 0 .2-.1 .2 .1 .2 .1 .2 0 .2 0 .2 0 .2 0 .2-.1 .2 0 .2 .1 .2 .1 .2 0 .2 0 .2 0 .2 0 .2 .1 .2 0 .2 0 .2-.1 .2 .1 .2 0 .2 .1 .1 0 .2 .1 .2 0 .2 0 .2 0 .2 0 .2 .1 .2 .1 .2 .1 .2 0 .2 0 .2 0 .2 0 .2-.1 .2 0 .2 .1 .2 0 .2-.1 .2-.2 .2 0 .2 0 .2 0 .2 0 .2-.1 .2 .1" stroke="#00ff00" stroke-width="1.05"/>
<path d="M46.4 202.2l.2 0 .2 0 .2 0 .2 0 .2 0 .2 0 .2 0 .2 0 .2 0 .2 0 .2 0 .2 0 .2 0 .1 0 .2 0 .2 0 .2 0 .2 0 .2 0 .2 0 .2 0 .2 0 .2 0 .2 0 .2 0 .2 0 .2 0 .2 0 .2 0 .2 0 .2 0 .2 0 .2 0 .2 0 .2 0 .2 0 .2 0 .2 0 .2 0 .1 0 .2 0 .2 0 .2 0 .2 0 .2 0 .2 0 .2 0 .2 0 .1 0 .1-1.2 0-2.9 .1-2.9 .1-2.9 0-2.9 .1-2.9 .1-2.9 0-2.9 .1-1.1 .1 1.6 .1 1.6 0 1.6 .1 1.5 .1 1.6 0 1.6 .1 1.6 .1 1.6 0 1.6 .1 1.6 .1 1.5 .1 2.9 0 4.6 .1 4.6 .1 4.7 0 4.6 .1 4.7 .1 4.6 0 0 .1-7.1 .1-7 .1-7.1 0-7 .1-7 .1-7.1 0-3.5 .1 1.7 .1 1.8 0 1.8 .1 1.7 .1 1.8 .1 1.7 0 1.8 .1 .2 .1-1.9 0-2 .1-2 .1-1.9 0-2 .1-1.9 .1-2 .1-.3 0 2.4 .1 2.3 .1 2.3 0 2.3 .1 2.3 .1 2.3 0 2.3 .1 1.1 .1-.9 .1-.8 0-.9 .1-.8 .1-.8 0-.9 .1-.8 .1-.9 0-.8 .1-.1 .1 1.2 .1 1.1 0 1.1 .1 1.1 .1 1.1 0 1.2 .1 1.1 .1 1.1 .1 1.1 0 .6 .1-.4 .1-.3 0-.4 .1-.3 .1-.4 0-.3 .1-.4 .1-.3 .1-.4 0-.3 .1-.4 .1 .1 0 .7 .1 .7 .1 .7 0 .7 .1 .7 .1 .7 .1 .7 0 .7 .1 .7 .1 .7 0 .7 .1 2.4 .1 5.1 0 5.1 .1 5.1 .1 5 .1 5.1 0 5.1 .1 5.1 .1 .9 0-5.1 .1-5.1 .1-5.2 0-5.1 .1-5.1 .1-5.2 .1-5.1 0-5.1 .1-5.2 .1-5.1 0-5.1 .1-3.5 .1-1.2 0-1.1 .1-1.1 .1-1.1 .1-1.1 0-1.2 .1-1.1 .1-.4 0 .6 .1 .6 .1 .6 0 .7 .1 .6 .1 .6 .1 .6 0 .6 .1 .6 .1 1.1 0 1.8 .1 1.9 .1 1.8 0 1.8 .1 1.8 .1 1.8 .1 1.9 0 1.8 .1 1.8 .1 1.3 0 .5 .1 .4 .1 .5 0 .5 .1 .5 .1 .4 .1 .5 0 .5 .1 .5 .1 .1 0-.3 .1-.3 .1-.4 0-.3 .1-.3 .1-.3 .1-.4 0-.3 .1-.3 .1-.3 0-.4 .1 1.3 .1-.1 0 0 .1 0 .1 0 .1-.1 0 0 .1 0 .1 0 0 0 .1 0 .1-.1 0 .1 .1 0 .1 0 .1-.1 0 0 .1 0 .1-.1 0 0 .1-.1 .1 0 0-.1 .1-.1 .1-.1 .1-.1 0 0 .1-.1 .1-.1 0 .1 .1 0 .1 0 0 0 .1 .1 .1 0 .1 0 0 0 .1 0 .1 .1 0 0 .1 0 .1 0 0 0 .1 0 .1 0 .1 0 0 0 .1 0 .1 0 0 .1 .1 .1 .1 .1 0 .1 .1 .1 .1 .1 .1 .1 0 .1 .1 0 .1 0 0 0 .1 0 .1 0 0 0 .1 0 .1 0 .1-.1 0-.1 .1 0 .1-.1 0 0 .1-.1 .1 0 0 0 .1 0 .1-.1 .1 0 0 0 .1 0 .1 .1 0 .1 .1 .1 .1 .1 .1 0 0 .1 .1 .1 .1 0 0 0 .1 .1 .1 0 0 0 .1 0 .1-.1 .1-.3 0-.3 .1-.3 .1-.3 0-.3 .1-.3 .1-.2 0 0 .1-.1 .1 0 .1-.1 0 0 .1-.1 .1 .1 0 .2 .1 .2 .1 .2 0 .2 .1 .2 .1 .2 .1 .1 .1 0 .2 0 .2-.3 .2-.3 .2-.2 .2 .4 .2 .4 .2 .1 .2 0 .2 .1 .2 0 .2 .1 .2-.3 .2-.4 .2-.3 .2 .5 .2 .4 .2 0 .2-.2 .2-.3 .2-.2 .2-.2 .2-.1 .2-.1 .2-.1 .2 0 .1 0 .2 .2 .2 .4 .2 .3 .2-.2 .2-.2 .2 0 .2 .1 .2 0 .2-.5 .2-.5 .2-.1 .2 .3 .2 .3 .2 .3 .2 .4 .2 .1 .2-.1 .2-.1 .2-.1 .2-.1 .2 .2 .2 .2 .2 .2 .2 0 .2 0 .1-.2 .2-.3 .2-.2 .2 .5 .2 .6 .2 .3 .2 .1 .2 .2 .2 .5 .2 .5 .2-.3 .2-.7 .2-.7 .2-.5 .2-.4 .2-.1 .2 0 .2 .1 .2 .5 .2 .5 .2-.1 .2-.4 .2-.3 .2 .2 .2 .2 .2 .1 .1 0 .2 0 .2-.2 .2-.3 .2-.1 .2 .1 .2 .1 .2-.1 .2-.1 .2-.1 .2 0 .2-.1 .2-.1 .2-.1 .2 0 .2 .1 .2 0 .2 0 .2-.1 .2 0 .2 0 .2 .1 .2 .3 .2 .3 .2-.1 .2-.2 .1-.2 .2 .1 .2 .1 .2 .2 .2 .2 .2 .1 .2-.7 .2-.8 .2 .2 .2 .6 .2 .6 .2-.3 .2-.3 .2 0 .2 .2 .2 .2 .2 0 .2 .1 .2-.1 .2-.2 .2-.1 .2 .1 .2 .1 .2 0 .2 0 .2 0 .1 .1 .2 .1 .2-.1 .2-.3 .2-.2 .2 .2 .2 .2 .2 .1 .2 0 .2 0 .2 0 .2-.1 .2 0 .2 .1 .2 .1 .2-.1 .2-.1 .2-.1 .2 0 .2 0 .2 .2 .2 .2 .2-.1 .2-.2 .2-.2 .2-.2 .1-.2 .2 .2 .2 .3 .2 .3 .2-.1 .2-.1 .2 .2 .2 .3 .2 .3 .2-.4 .2-.3 .2-.3 .2-.4 .2-.4 .2 .1 .2 .1 .2 .1 .2 .1 .2 .1 .2 .4 .2 .4 .2 .3 .2 .2 .2 .1 .2-.2 .2-.1 .1-.2 .2-.2 .2-.1 .2 .2 .2 .2 .2 .3 .2 .3 .2 .2 .2-.1 .2-.1 .2-.1 .2-.1 .2-.1 .2 .3 .2 .2 .2-.2 .2-.6 .2-.4 .2 .3 .2 .3 .2-.1 .2-.4 .2-.3 .2-.1 .2 0 .2 .1 .1 .2 .2 .1 .2 .1 .2 0 .2 0 .2 0 .2 0 .2-.2 .2-.2 .2 .1 .2 .2 .2 .3 .2 .4 .2 .3 .2-.1 .2-.5 .2-.3 .2 0 .2 0 .2 0 .2 0 .2 0 .2-.2 .2-.1 .2 0 .2 .1 .1 .1 .2 0 .2 0 .2-.1 .2-.1 .2-.1 .2 .1 .2 .2 .2 .1 .2 0 .2 0 .2-1 .2-1.7 .2-1.5 .2-1.3 .2-1.3 .2-1.4 .2-1.4 .2-1.3 .2-1.1 .2-1.2 .2-1.1 .2-1.1 .2-1.4 .2-1.4 .2-1.5 .1-1 .2-.5 .2-.5 .2-.6 .2-.6 .2-.6 .2-.7 .2-.8 .2-.8 .2-.7 .2 .3 .2 .2 .2-.5 .2-.8 .2-.7 .2-.3 .2-.2 .2 .1 .2 .1 .2-.1 .2-.2 .2-.2 .2 .4 .2 .6 .2 .4 .2-.2 .1-.2 .2 .2 .2 .3 .2 .3 .2 .7 .2 .7 .2 .8 .2 .7 .2 1.1 .2 .8 .2 1 .2 1.1 .2 1.1 .2 1.2 .2 .8 .2 .8 .2 1.4 .2 1.9 .2 1.7 .2 1.2 .2 1.1 .2 1.3 .2 1.4 .2 1.4 .2 1.3 .2 1.2 .2 1.6 .1 1.8 .2 1.9 .2 2.8 .2 2.7 .2 1.4 .2-2.1 .2-2 .2-1.7 .2-.4 .2 .1 .2 .1 .2 .1 .2-.1 .2 0 .2-.2 .2-.3 .2-.2 .2 .4 .2 .4 .2 0 .2-.1 .2-.1 .2-.4 .2-.3 .2-.1 .2 .2 .1 0 .2-.3 .2-.4 .2-.1 .2 0 .2 .1 .2 0 .2 .1 .2 0 .2-.1 .2 0 .2 .1 .2 .1 .2 0 .2-.1 .2-.1 .2-.1 .2 0 .2-.4 .2-.7 .2-.5 .2 .4 .2 .4 .2 .1 .2 .1 .2 0 .1-.1 .2 0 .2 0 .2 0 .2 .1 .2 .1 .2 .1 .2-.1 .2-.2 .2-.2 .2 0 .2 0 .2 .4 .2 .7 .2 .5 .2-.1 .2-.2 .2-.1 .2-.2 .2-.1 .2 0 .2-.1 .2 .1 .2 .2 .2 .3 .2 0 .1 0 .2 .1 .2 .1 .2 0 .2-.2 .2-.2 .2-.2 .2-.1 .2-.1 .2 .3 .2 .3 .2-.1 .2-.4 .2-.2 .2 0 .2 .1 .2 0 .2 .1 .2 .1 .2-.1 .2 0 .2 0 .2 0 .2 .1 .2 0 .2 0 .1 .2 .2 .2 .2 .2 .2-.2 .2-.2 .2 .1 .2 .1 .2 .1 .2 .2 .2 .2 .2 .1 .2 0 .2 0 .2 .2 .2 .1 .2 .2 .2 .4 .2 .3 .2 0 .2 0 .2-.1 .2 0 .2-.1 .2 0 .2 0 .2 .2 .1 .2 .2 .2 .2 0 .2 .1 .2-.2 .2-.3 .2-.3 .2 .1 .2 .2 .2-.2 .2-.3 .2-.3 .2 .2 .2 .1 .2 .1 .2 0 .2 0 .2-.1 .2-.1 .2-.4 .2-.5 .2-.3 .2 .6 .2 .7 .2 0 .2-.2 .1-.2 .2-.1 .2 0 .2-.1 .2 0 .2 0 .2 .2 .2 .1 .2-.1 .2-.4 .2-.2 .2 .3 .2 .4 .2 0 .2-.2 .2-.1 .2 .2 .2 .3 .2 0 .2 0 .2-.1 .2 .1 .2 .1 .2 0 .2 0 .2 0 .1-.1 .2-.2 .2 0 .2 0 .2 0 .2-.1 .2-.1 .2-.1 .2 0 .2-.1 .2-.2 .2-.2 .2 .3 .2 .4 .2 .3 .2 0 .2-.1 .2-.2 .2-.3 .2-.2 .2 .3 .2 .4 .2-.1 .2-.4 .2-.3 .2 0 .1 .1 .2-.1 .2-.2 .2-.2 .2-.2 .2-.2 .2 0 .2 .3 .2 .1 .2-1 .2-1 .2 .4 .2 1 .2 .9 .2 0 .2 0 .2-.1 .2-.2 .2-.1 .2 0 .2 .1 .2 .1 .2 .3 .2 .3 .2 .3 .2 .3 .1-.4 .2-.8 .2-.6 .2 .3 .2 .4 .2 .4 .2 .3 .2 .2 .2-.2 .2-.2 .2 .1 .2 .2 .2 .2 .2-.3 .2-.3 .2 0 .2 .2 .2 .1 .2-.1 .2 0 .2 0 .2 0 .2-.1 .2-.2 .2-.3 .2 .1 .1 .4 .2 .2 .2 0 .2-.1 .2-.1 .2-.3 .2-.1 .2 .2 .2 .2 .2 .1 .2 .1 .2 0 .2 .2 .2 .3 .2-.3 .2-.6 .2-.4 .2 .3 .2 .4 .2 .1 .2-.1 .2 0 .2 .3 .2 .3 .2 .1 .2-.1 .1-.1 .2-.4 .2-.4 .2-.2 .2-1 .2-1.5 .2-.9 .2-.9 .2-1.5 .2-1.6 .2-1.7 .2-1.7 .2-1.6 .2-1.3 .2-1 .2-1.2 .2-1.4 .2-1.4 .2-1.6 .2-1.7 .2-1 .2-.5 .2-.5 .2-.3 .2-.2 .2-.3 .1-1.1 .2-1 .2-.7 .2-.4 .2-.3 .2-.3 .2-.3 .2-.2 .2-.1 .2-.2 .2 0 .2 0 .2-.2 .2-.3 .2-.1 .2 .5 .2 .5 .2 .1 .2-.1 .2 0 .2 1 .2 .9 .2 .7 .2 .6 .2 .6 .2 .3 .1 .3 .2 1.1 .2 1.4 .2 1.2 .2 .8 .2 .8 .2 1 .2 1.2 .2 1.2 .2 .7 .2 .5 .2 .5 .2 .5 .2 .6 .2 1 .2 1.1 .2 .8 .2 1.1 .2 1.2 .2 1.4 .2 1.6 .2 1.4 .2 1.5 .2 1.5 .2 .5 .2-.9 .1-.7 .2-.6 .2 0 .2 0 .2-.1 .2 0 .2 0 .2 .1 .2-.1 .2-.1 .2 .1 .2 .2 .2 .1 .2 0 .2-.1 .2-.2 .2-.2 .2-.1 .2 .1 .2 .1 .2 0 .2 0 .2 0 .2 .1 .2 .1 .2 0 .1-.1 .2-.1 .2 0 .2 0 .2 0 .2 .1 .2 0 .2 .2 .2 .1 .2 .1 .2-.1 .2 0 .2 .1 .2 0 .2-.2 .2-.3 .2-.3 .2 .2 .2 .2 .2 .1 .2 .1 .2 .1 .2-.1 .2-.1 .2 0 .2 .1 .1 0 .2 0 .2 0 .2 0 .2 0 .2 .1 .2 .4 .2 .5 .2 0 .2-.3 .2-.3 .2-.2 .2-.1 .2-.1 .2-.1 .2-.1 .2 0 .2 .1 .2 0 .2 .1 .2 0 .2-.2 .2-.2 .2-.1 .2-.1 .2 0 .1 .4 .2 .3 .2 .1 .2-.2 .2-.1 .2 .1 .2 0 .2 .1 .2 .1 .2 .1 .2-.1 .2 0 .2-.3 .2-.4 .2-.3 .2 .2 .2 .2 .2 .1 .2 .1 .2 .1 .2 .4 .2 .3 .2 0 .2-.3 .2-.2 .2-.1 .1 0 .2-.1 .2 0 .2 0 .2-.1 .2-.1 .2 0 .2 .1 .2 0 .2 0 .2-.1 .2 0 .2 .2 .2 .2 .2 .1 .2 .1 .2 0 .2 0 .2 0 .2-.3 .2-.2 .2-.1 .2 0 .2 .1 .2-.2 .2-.1 .1-.2 .2-.1 .2-.1 .2 0 .2 0 .2-.1 .2-.2 .2-.1 .2 .2 .2 .2 .2 0 .2-.2 .2-.1 .2 .3 .2 .4 .2-.1 .2-.3 .2-.2 .2 .2 .2 .2 .2 0 .2-.1 .2-.1 .2-.5 .2-.4 .2 .1 .1 .2 .2 .2 .2 .1 .2 .1 .2 0 .2 0 .2 0 .2-.1 .2 0 .2-.2 .2-.2 .2-.2 .2 .5 .2 .6 .2 .1 .2-.1 .2-.1 .2 0 .2 0 .2 .1 .2 0 .2 .1 .2-.1 .2 0 .2-.1 .2-.1 .1-.2 .2-.3 .2-.4 .2 .3 .2 .7 .2 .5 .2-.1 .2 0 .2-.1 .2-.2 .2-.2 .2 .1 .2 .1 .2-.2 .2-.3 .2-.3 .2 .1 .2 .1 .2-.2 .2-.1 .2-.2 .2 .1 .2 0 .2 0 .2-.1 .2-.1 .1-.4 .2-.4 .2 0 .2 .2 .2 .1 .2-.1 .2-.1 .2-.1 .2 .1 .2 0 .2-.1 .2-.1 .2 0 .2 0 .2 .1 .2-.2 .2-.1 .2 0 .2 .1 .2 .3 .2 .9 .2 .9 .2 0 .2-.5 .2-.4 .2 0 .1 0 .2 0 .2 0 .2 0 .2 .3 .2 .4 .2 .1 .2 .1 .2 .1 .2 .1 .2-.1 .2-.3 .2-.5 .2-.3 .1 .1 0 .2 .1 .1 .1 .2 .1 .1 0 .2 .1 .1 .1-.1 0-.1 .1 0 .1-.1 0-.1 .1 0 .1-.1 .1 0 0 0 .1-.1 .1 0 0 0 .1-.1 .1 0 0 .1 .1 0 .1 .1 .1 0 0 .1 .1 0 .1 .1 0 0 .1 0 .1 0 0 0 .1 0 .1 0 .1-.1 0 0 .1-.1 .1 0 0-.1 .1 0 .1 0 0 0 .1 0 .1 0 .1 0 0 .1 .1 0 .1 0 0 0 .1 0 .1-.1 0 0 .1-.1 .1 0 .1 0 0-.1 .1 .1 .1 0 0 0 .1 0 .1 0 0 0 .1 .1 .1 .1 .1 0 0 .1 .1 .1 .1 .1 0 0 .1 .1 .1-.1 0-.1 .1-.1 .1-.1 .1-.1 0 0 .1-.1 .1 0 0 0 .1 0 .1 0 0 0 .1 .1 .1 0 .1 0 0 0 .1 0 .1 0 0 0 .1 0 .1 .1 0 .1 .1 .2 .1 .1 .1 .2 0 .2 .1 .1 .1 .1 0-.1 .1-.3 .1-.6 0-.5 .1-.6 .1-.6 .1-.5 0-.5 .1-.6 .1-.5 0-.5 .1-.6 .1-.5 0-.6 .1-.6 .1-.6 .1-.6 0-.7 .1-.7 .1-.7 0-.6 .1-.4 .1-.4 0-.3 .1-.4 .1-.3 .1-.4 0-.4 .1-.4 .1-.5 0-.4 .1-.5 .1-.5 0-.6 .1-.5 .1-.7 .1-.7 0-.7 .1-.7 .1-.6 0-.7 .1-.7 .1-.6 0-.5 .1-.3 .1-.4 .1-.3 0-.3 .1-.3 .1-.2 0-.3 .1-.2 .1-.2 0-.2 .1-.3 .1-.1 .1 0 0 0 .1 0 .1-.1 0 0 .1 0 .1-.1 0-.3 .1-.3 .1-.2 .1-.3 0-.3 .1-.3 .1-.1 0 .1 .1 .1 .1 .1 0 .1 .1 .2 .1 .1 .1 .1 0 .1 .1 .1 .1 .1 0 0 .1 .1 .1 .1 .1 0 0-.1 .1-.1 .1 0 0-.1 .1-.1 .1-.1 0-.1 .1-.1 .1 0 .1-.1 0-.1 .1-.1 .1-.1 0 0 .1 0 .1-.1 0 0 .1 0 .1 0 .1 0 0 0 .1 .2 .1 .2 0 .2 .1 .2 .1 .2 0 .1 .1 .1 .1 0 .1-.1 0-.1 .1 0 .1 0 0-.1 .1 .1 .1 .2 0 .1 .1 .2 .1 .2 .1 .2 0 .1 .1 .2 .1 .2 0 .1 .1 .2 .1 .1 0 .1 .1 .3 .1 .4 .1 .3 0 .2 .1 .3 .1 .3 0 .3 .1 .3 .1 .3 0 .3 .1 .3 .1 .4 .1 .3 0 .3 .1 .3 .1 .4 0 .4 .1 .5 .1 .4 0 .5 .1 .5 .1 .5 .1 .4 0 .3 .1 .4 .1 .3 0 .4 .1 .3 .1 .4 0 .4 .1 .5 .1 .5 .1 .6 0 .5 .1 .5 .1 .5 0 .5 .1 .6 .1 .6 0 .6 .1 .5 .1 .6 .1 .6 0 .5 .1 .4 .1 .4 0 .4 .1 .4 .1 .5 0 .4 .1 .4 .1 .5 .1 .5 0 .5 .1 .6 .1 .5 0 .6 .1 .6 .1 .5 0 .6 .1 .5 .1 .5 .1 .6 0 .5 .1 .7 .1 1 0 .9 .1 1 .1 .9 0 .9 .1 .4 .1-.5 .1-.6 0-.7 .1-.6 .1-.6 0-.7 .1-.6 .1-.6 0-.6 .1-.3 .1-.1 .1 0 0-.1 .1 0 .1-.1 0 0 .1 0 .1 0 0 0 .1-.1 .1 0 .1 0 0-.1 .1-.1 .1 0 0-.1 .1 0 .1 0 0 0 .1-.1 .1 0 .1-.1 0-.1 .1 0 .1-.1 0-.1 .1-.1 .1-.2 0-.1 .1-.2 .1-.1 .1-.1 0-.1 .1 .2 .1 .2 0 .1 .1 .2 .1 .2 0 .1 .1 .1 .1 0 .1 0 0-.1 .1 0 .1 0 0 0 .1 0 .1 0 .1 0 0 .1 .1 0 .1 .1 0 0 .1 0 .1-.1 0 0 .1-.1 .1-.1 .1 0 0-.1 .2 .1 .2 .1 .2 .1 .2 0 .2 0 .2-.6 .2-.9 .2-.3 .2 1 .2 .9 .2 .2 .2-.2 .2 0 .2 .2 .2 .2 .2 .1 .2 0 .2 0 .1-.4 .2-.4 .2 .1 .2 .3 .2 .2 .2-.1 .2 0 .2 .1 .2 .1 .2 .1 .2 0 .2-.1 .2-.1 .2-.1 .2 0 .2 .3 .2 .2 .2-.3 .2-.4 .2-.2 .2 0 .2 0 .2 .2 .2 .1 .2 .1 .2-.2 .1-.2 .2 .1 .2 .2 .2 .2 .2 .1 .2 0 .2 0 .2-.1 .2 0 .2 0 .2 .1 .2 0 .2 0 .2 0 .2 0 .2 0 .2-.2 .2-.2 .2-.1 .2 0 .2 .1 .2 0 .2 0 .2 0 .2-.3 .2-.2 .1 0 .2 .1 .2 0 .2-.2 .2-.2 .2 0 .2 .1 .2 .1 .2 0 .2 .1 .2 .1 .2 .1 .2 .1 .2 0 .2-.1 .2 .2 .2 .2 .2 .1 .2-.2 .2-.2 .2 0 .2 .1 .2 0 .2 .1 .2 .1 .2 .1 .1 .2 .2 0 .2-.3 .2-.2 .2 .1 .2 .2 .2 .1 .2-.1 .2 0 .2-.1 .2 0 .2-.1 .2-.4 .2-.3 .2 0 .2 .2 .2 0 .2-.1 .2 0 .2 0 .2 .1 .2 0 .2 .1 .2 .1 .2 .2 .2 .2 .1 .1 .2 .1 .2 0 .2 .1 .2 .1 .2 0 .2 0 .2-.1 .2-.2 .2-.2 .2-.1 .2 .2 .2 .2 .2 0 .2 0 .2-.1 .2-.2 .2-.2 .2 .1 .2 .2 .2 0 .2-.1 .2-.1 .2 .1 .2 .1 .2 .1 .1 0 .2 0 .2-.2 .2-.2 .2-.1 .2 .1 .2 .1 .2 .3 .2 .4 .2 .2 .2-.4 .2-.4 .2-.1 .2 0 .2 0 .2-.2 .2-.2 .2 .1 .2 .3 .2 .1 .2-.1 .2-.1 .2 0 .2 0 .2 0 .2 .1 .1 .1 .2 0 .2-.1 .2 0 .2 .2 .2 .2 .2 0 .2 0 .2-.1 .2-.2 .2-.2 .2 .3 .2 .4 .2 .3 .2 0 .2 0 .2-.2 .2-.2 .2-.2 .2 0 .2-.1 .2 .2 .2 .2 .2 .1 .2-.2 .2-.2 .1 0 .2-.1 .2 0 .2 0 .2 0 .2 0 .2 0 .2 .1 .2 0 .2 .1 .2 .1 .2 .2 .2 0 .2-.1 .2-.1 .2 .1 .2 .2 .2 .1 .2-.1 .2 0 .2 0 .2-.1 .2 0 .2 .2 .2 .2 .2-.4 .1-.6 .2-.4 .2 .3 .2 .2 .2 0 .2-.2 .2 0 .2 0 .2 .1 .2 0 .2 .1 .2 0 .2 0 .2 0 .2-.3 .2-.4 .2-.3 .2-.1 .2 0 .2 .3 .2 .4 .2 .4 .2 .4 .2 .3 .2 0 .2 0 .1-.1 .2 0 .1 0 .1-.1 .1 0 0 0 .1-.1 .1 0 0 0 .1-.1 .1 0 0-.1 .1 .1 .1 .1 .1 .1 0 .1 .1 .1 .1 .1 0 .1 .1 0 .1-.1 0-.1 .1-.1 .1-.1 .1 0 0-.1 .1-.1 .1 0 0 0 .1 0 .1 0 0-.1 .1 0 .1 0 .1 0 0 0 .1-.1 .1-.1 0 0 .1 0 .1-.2 0-.3 .1-.2 .1-.1 .1-.1 0-.1 .1-.1 .1 .1 0 .1 .1 .1 .1 .1 0 .1 .1 .1 .1 .1 .1 0 0 0 .1 0 .1 0 0 0 .1 0 .1-.1 0-.1 .1-.3 .1-.3 .1-.2 0-.3 .1-.2 .1-.3 0 0 .1 .2 .1 .2 0 .2 .1 .2 .1 .2 .1 .2 0-.1 .1-.2 .1-.2 0-.2 .1-.2 .1-.1 .1-.2 0 0 .1 .3 .1 .2 0 .2 .1 .2 .1 .3 0 .2 .1 0 .1-.1 .1-.1 0-.1 .1-.1 .1-.1 0-.1 .1-.1 .1 0 0 0 .1 0 .1 0 .1 0 0 0 .1 .1 .1 .1 0 .1 .1 .1 .1 .2 0 .1 .1 .1 .1 0 .1-.1 0-.1 .1-.1 .1-.1 0-.1 .1-.1 .1 0 0 0 .1 0 .1 0 .1 0 0 0 .1 0 .1 0 0 .1 .1 0 .1 0 0 0 .1 0 .1 0 .1 0 0-.1 .1 0 .1-.1 0-.1 .1 0 .1-.1 0 0 .1 0 .1 0 .1 0 0 0 .1 .1 .1 0 0-.1 .1 0 .1-.1 0 0 .1-.1 .1 0 .1-.1 0 0 .1 .1 .1 .1 0 0 .1 .1 .1 .1 0 .1 .1 0 .1 0 .1 .1 0 0 .1 .1 .1 0 0 .1 .1-.1 .1-.1 0-.1 .1-.1 .1-.1 .1-.1 0-.2 .1 0 .1 .1 0 0 .1 .1 .1 .1 0 0 .1 .1 .1 .1 .1 0 0 .1 .1 .1 .1 .1 0 .1 .1 .1 .1 .1 0 .1 .1 .2 .1 .1 .1 .2 0 .1 .1 .1 .1 0 0-.1 .1-.2 .1-.1 0-.2 .1-.1 .1-.1 .1-.1 0 .1 .1 0 .1 .1 0 0 .1 .1 .1 0 0 .1 .1 0 .1 .1 .1 0 0 .1 .1 0 .1 0 0 .1 .1 0 .1 0 0 0 .1 0 .1 0 .1 0 0-.1 .1 0 .1 0 0 0 .1 0 .1 0 0 0 .1-.1 .1 0 .2-.1 .2 0 .2-.2 .2-.2 .2-.1 .2-.1 .2 0 .2-.2 .2-.2 .2 0 .1 .1 .2 .2 .2 0 .2 0 .2 .2 .2 .3 .2 .3 .2-.2 .2-.3 .2-.3 .2-.3 .2-.2 .2 .1 .2 .2 .2 0 .2 0 .2-.1 .2 0 .2-.1 .2 0 .2 0 .2 0 .2 .5 .2 .5 .2 0 .2-.5 .1-.4 .2-.2 .2-.3 .2 0 .2 0 .2 0 .2-.1 .2-.2 .2 .2 .2 .6 .2 .5 .2 .3 .2 .3 .2-.2 .2-.4 .2-.4 .2 .1 .2 .1 .2 0 .2 0 .2 0 .2-.1 .2-.2 .2 0 .2 0 .2 0 .1 0 .2-.1 .2 0 .2 .1 .2 0 .2-.4 .2-.4 .2 .2 .2 .8 .2 .6 .2-.2 .2-.2 .2 0 .2 0 .2 0 .2 0 .2 .1 .2 0 .2 0 .2 0 .2 0 .2 0 .2 0 .2 0 .2-.1 .2 0 .1 0 .2 .1 .2 .3 .2 .3 .2-.3 .2-.3 .2-.2 .2-.1 .2-.1 .2 0 .2 0 .2-.1 .2-.1 .2 0 .2 .4 .2 .4 .2 .1 .2-.1 .2-.2 .2 .2 .2 .1 .2-.1 .2-.2 .2-.2 .2 .2 .2 .1 .1 .1 .2 .1 .2 .1 .2-.2 .2-.2 .2 0 .2 .2 .2 .1 .2-.2 .2-.1 .2-.1 .2 0 .2 0 .2-.2 .2-.3 .2 .1 .2 .4 .2 .3 .2-.6 .2-.5 .2-.1 .2 .4 .2 .3 .2 0 .2 0 .2 0 .1 .2 .2 .1 .2-.1 .2 0 .2 .2 .2 .4 .2 .4 .2 .3 .2 .2 .2 0 .2-.2 .2-.3 .2-.1 .2-.1 .2-.2 .2-.2 .2-.1 .2 .2 .2 .3 .2 .1 .2-.2 .2 0 .2 .1 .2 .2 .2 0 .2-.1 .1-.2 .2 0 .2-.1 .2-.1 .2-.3 .2-.2 .2 .1 .2 0 .2 0 .2-.1 .2-.1 .2 .1 .2 .2 .2 .4 .2 .6 .2 .4 .2-1 .2-1.1 .2-.4 .2 .1 .2 .1 .2 .1 .2 0 .2 .1 .2 0 .2 .1 .1 .3 .2 .2 .2 .1 .2-.1 .2 0 .2 .1 .2 0 .2 .1 .2 .1 .2 .1 .2 0 .2 0 .2 .2 .2 .4 .2 .4 .2-.4 .2-.3 .2-.2 .2-.1 .2-.1 .2 .1 .2 .1 .2 .1 .2 .1 .2 0 .2 0 .1 0 .2-.4 .2-.8 .2-.7 .2 .6 .2 .5 .2 .5 .2 .4 .2 .4 .2-.1 .2-.1 .2-.1 .2-.1 .2-.1 .2-.1 .2-.2 .2 0 .2 0 .2 .1 .2-.2 .2-.2 .2 0 .2 .1 .2 .1 .2 .2 .2 .2 .1 0 .2-.4 .2-.2 .2 .3 .2 .3 .2 .1 .2-.2 .2-.2 .2-.1 .2-.1 .2-.2 .2-.1 .2-.2 .2-.7 .2-.7 .2-.1 .2 .6 .2 .5 .2 .4 .2 .4 .2 .1 .2-.2 .2-.1 .2 0 .2 .1 .2 .1 .1 .1 .2 .1 .2 .1 .2 0 .2-.1 .2-.1 .2-.1 .2 0 .2 .1 .2 .1 .2 0 .2 .1 .2-.1 .2-.1 .2 .1 .2 .2 .2 .2 .2 0 .2-.1 .2 0 .2-.1 .2 0 .2 .2 .2 .2 .2 0 .2-.2 .1-.2 .2 .2 .2 .2 .2-.4 .2-.9 .2-.7 .2 .6 .2 .7 .2 .1 .2-.3 .2-.3 .2 .2 .2 .1 .2-.2 .2-.5 .2-.4 .2 .7 .2 .6 .2 .3 .2-.1 .2-.1 .2 .1 .2 .1 .2-.2 .2-.3 .2-.4 .1 0 .2 .1 .2 .1 .2 .2 .2 .1 .2-.4 .2-.3 .2-.2 .2 0 .2 0 .2 .2 .2 .2 .2 0 .2-.1 .2-.1 .2 .6 .2 .5 .2 .1 .2-.1 .2-.2 .2 .2 .2 .2 .2-.2 .2-.4 .2-.4 .2 .9 .1 .9 .2 .2 .2-.5 .2-.4 .2-.1 .2-.1 .2-.2 .2-.1 .2-.2 .2 .3 .2 .2 .2 .1 .2 0 .2-.1 .2-.1 .2-.1 .2 0 .2 .2 .2 .1 .2 0 .2-.1 .2 0 .2 .2 .2 .1 .2-.1 .2-.1 .1 0 .2 .1 .2 .1 .2-.3 .2-.3 .2 0 .2 .1 .2 .1 .2 .1 .2 .1 .2 .2 .2 .1 .2 .1 .2-.3 .2-.4 .2-.1 .2 .1 .2 0 .2 .1 .2 0 .2 .1 .2 0 .2 0 .2-.2 .2-.3 .2 .1 .1 .2 .2 .2 .2 0 .2 0 .2 0 .2-.2 .2-.1 .2-.2 .2-.2 .2 .2 .2 .3 .2 .3 .2-.2 .2-.3 .2-.1 .2 .1 .2 .1 .2-.2 .2-.1 .2 0 .2 .1 .2 0 .2 0 .2 0 .2 .2 .2 .4 .1 .3 .2-.3 .2-.3 .2-.1 .2-.1 .2-.1 .2-.1 .2-.1 .2 .3 .2 .5 .2 .5 .2-.4 .2-.5 .2-.1 .2 0 .2 .1 .2-.3 .2-.3 .2 0 .2 .3 .2 .3 .2-.1 .2-.1 .2-.1 .2-.1 .2-.1 .1 0 .2 0 .2 .1 .2 .1 .2 .2 .2 .2 .2 .1 .2-.1 .2-.3 .2-.2 .2 .5 .2 .5 .2 .2 .2-.1 .2-.1 .2-.2 .2-.1 .2-.2 .2 0 .2-.1 .2 0 .2 0 .2 .3 .2 .3 .2 .2 .2-.1 .1-.2 .2-.1 .2-.2 .2-.2 .2 .1 .2 .1 .2-.2 .2-.3 .2-.3 .2 .4 .2 .4 .2-.2 .2-.4 .2-.5 .2 .2 .2 .1 .2 .2 .2 0 .2 .1 .2 .3 .2 .3 .2 0 .2-.4 .2-.3 .2 .1 .2 .2 .1-.1 .2-.1 .2-.1 .2 .2 .2 .2 .2 .1 .2 0 .2-.1 .2 .1 .2 .1 .2-.1 .2-.1 .2-.2 .2 0 .2 0 .2-.1 .2-.2 .2-.1 .2 .3 .2 .3 .2-.1 .2-.3 .2-.3 .2 .2 .2 .2 .2 .1 .1 .1 .2 .1 .2-.1 .2-.2 .2 0 .2 .1 .2 .1 .2-.1 .2 0 .2-.1 .2-.3 .2-.2 .2 .3 .2 .3 .2 0 .2-.3 .2-.2 .2-.2 .2-.1 .2-.1 .2-.1 .2 0 .2 .2 .2 .2 .2 .1 .2 0 .2 .1 .1 .2 .2 .2 .2-.1 .2-.3 .2-.3 .2 .1 .2 0 .2 .2 .2 .3 .2 .2 .2-.6 .2-.6 .2 .1 .2 .6 .2 .6 .2-.2 .2-.2 .2 0 .2 .2 .2 .2 .2-.1 .2 0 .2 0 .2 .1 .2 .1 .2-.1 .1-.1 .2-.1 .2-.2 .2-.2 .2-.2 .2-.2 .2 .1 .2 .2 .2 .2 .2 .3 .2 .2 .2 .1 .2 .1 .2 0 .2 .1 .2 .1 .2 .1 .2-.1 .2-.1 .2-.4 .2-.5 .2-.1 .2 .1 .2 .2 .2-.2 .2-.2 .1-.2 .2-.4 .2-.3 .2 .5 .2 .4 .2 .1 .2-.1 .2-.1 .2 .1 .2 .1 .2 .1 .2 .1 .2 .1 .2-.1 .2 0 .2 .1 .2 .1 .2 .1 .2-.2 .2-.2 .2 0 .2 .1 .2 .1 .2 .1 .2 .1 .2 .2 .1 0 .2 .1 .2-.3 .2-.3 .2 0 .2 .1 .2 .1 .1 .1 .1 0 0 .1 .1 0 .1 .1 0 .1 .1 0 .1 0 .1-.1 0-.1 .1 0 .1-.1 0-.1 .1 0 .1 .1 0 0 .1 .1 .1 0 .1 .1 0 0 .1 .1 .1 .1 0 .1 .1 .1 .1 .1 0 .1 .1 .1 .1 .1 .1 0 0-1 .1 .8 .1 .8 0 .7 .1 .8 .1 .8 0 .8 .1 .7 .1 .5 .1-.8 0-.8 .1-.8 .1-.8 0-.8 .1-.9 .1-.8 0-.6 .1 .2 .1 .1 .1 .1 0 .2 .1 .1 .1 .2 0 .1 .1-.2 .1 0 0 .1 .1 0 .1 0 .1 0 0 0 .1 0 .1 0 0 0 .1 0 .1 0 0 0 .1 0 .1 0 .1 0 0 0 .1 0 .1 0 .2 0 .2 0 .2 0 .2 0 .1 0 .2-.1 .2 0 .2 0 .2 .1 .2 0 .2 .1 .2 0 .2 0 .2 0 .2 0 .2 0 .2 0 .2 .1 .2 .1 .2 0 .2 0 .2 0 .2 0 .2 0 .2 0 .2 0 .2 0 .2 .1 .2 0 .2 .1 .1 0 .2 .1 .2 0 .2 0 .2 0 .2 0 .2 .1 .2 .1 .2 .1 .2 0 .2 0 .2 0 .2-.1 .2 0 .2 0 .2 .1 .2 0 .2-.1 .2-.1 .2 0 .2 0 .2 0 .2-.1 .2 0 .2 0" stroke="#0000ff" stroke-width="1.40"/>
</g>
<path d="M46.40,147.90V239.40H536.80M46.40,239.40v-5M116.46,239.40v-5M186.51,239.40v-5M256.57,239.40v-5M326.63,239.40v-5M396.69,239.40v-5M466.74,239.40v-5M536.80,239.40v-5M46.40,150.40h5M46.40,178.40h5M46.40,206.40h5M46.40,234.40h5" stroke="#262626" stroke-width="1.1" fill="none"/>
<g font-family="Liberation Sans, Arial, Helvetica, sans-serif" font-size="12.7" fill="#262626" stroke="#262626" stroke-width="0.12">
<text x="45.20" y="255.50" text-anchor="middle">0</text>
<text x="114.96" y="255.50" text-anchor="middle">50</text>
<text x="184.61" y="255.50" text-anchor="middle">100</text>
<text x="254.67" y="255.50" text-anchor="middle">150</text>
<text x="324.73" y="255.50" text-anchor="middle">200</text>
<text x="394.79" y="255.50" text-anchor="middle">250</text>
<text x="464.84" y="255.50" text-anchor="middle">300</text>
<text x="534.90" y="255.50" text-anchor="middle">350</text>
<text x="39.9" y="154.50" text-anchor="end">20</text>
<text x="39.9" y="182.50" text-anchor="end">10</text>
<text x="39.9" y="210.50" text-anchor="end">0</text>
<text x="39.9" y="238.50" text-anchor="end">-10</text>
</g>
<g font-family="Liberation Sans, Arial, Helvetica, sans-serif" font-size="14" fill="#262626" stroke="#262626" stroke-width="0.12">
<text x="287.3" y="272.10" text-anchor="middle">time (s)</text>
<text transform="translate(16.7,199.10) rotate(-90)" text-anchor="middle">pitch (deg)</text>
</g>
<path d="M116.46,290.40V382.00M186.51,290.40V382.00M256.57,290.40V382.00M326.63,290.40V382.00M396.69,290.40V382.00M466.74,290.40V382.00M536.80,290.40V382.00M46.40,291.52H536.80M46.40,321.70H536.80M46.40,351.88H536.80M46.40,382.05H536.80" stroke="#dedede" stroke-width="0.9" fill="none"/>
<g clip-path="url(#c2)" fill="none" stroke-linejoin="round">
<path d="M46.4 352.2l.2 0 .2 0 .2 0 .2 0 .2 0 .2 0 .2 0 .2 0 .2 0 .2 0 .2 0 .2 0 .2 0 .1 0 .2 0 .2 0 .2 0 .2 0 .2 0 .2 0 .2 0 .2 0 .2 0 .2 0 .2 0 .2 0 .2 0 .2 0 .2 0 .2 0 .2 0 .2 0 .2 0 .2 0 .2 0 .2 0 .2 0 .2 0 .2 0 .1 0 .2 0 .2 0 .2 0 .2 0 .2 0 .2 0 .2 0 .2 0 .1 0 .1 0 0 0 .1 0 .1 0 0-6.4 .1-16.1 .1-3.4 0-.3 .1-.2 .1-.3 .1-.3 0-.2 .1-.3 .1-.3 0-.2 .1-.3 .1-.3 0-.3 .1-.2 .1-.3 .1-.3 0-.2 .1-.3 .1-.3 0-.2 .1-.3 .1-.3 0-.2 .1-.1 .1 .2 .1 .1 0 .2 .1 .2 .1 .2 0 .2 .1 .2 .1 .2 0 .2 .1 .2 .1 .1 .1 .2 0 .2 .1 .2 .1 .2 0 .1 .1-.2 .1-.2 0-.1 .1-.2 .1-.1 .1-.2 0-.1 .1-.2 .1-.1 0-.2 .1-.1 .1-.2 0-.1 .1-.2 .1-.1 .1-.2 0-.1 .1-.2 .1-.1 0-.1 .1 .1 .1 .1 0 .1 .1 .1 .1 .1 .1 .1 0 .1 .1 .1 .1 0 0 .1 .1 .1 .1 .1 .1 .1 0 .1 .1 .1 .1 .1 0 .1 .1 .1 .1 0 0 .1 .1-.1 .1-.1 .1-.1 0-.1 .1-.1 .1-.1 0-.1 .1-.1 .1-.1 0-.1 .1-.1 .1-.1 .1-.1 0-.1 .1-.1 .1-.1 0-.1 .1-.1 .1-.1 0-.1 .1-.1 .1-.1 .1-.2 0-.3 .1-.8 .1-.8 0-.8 .1-.8 .1-.7 0-.8 .1-.8 .1-.8 .1-.8 0 .3 .1 1.8 .1 1.9 0 1.8 .1 1.9 .1 1.8 0 1.9 .1 1.8 .1 .7 .1-1 0-1.1 .1-1.1 .1-1 0-1.1 .1-1 .1-1.1 0-1 .1-1.1 .1-.3 .1 .8 0 .8 .1 .7 .1 .8 0 .8 .1 .8 .1 .8 0 .8 .1 .7 .1 .4 .1-.1 0-.2 .1-.2 .1-.1 0-.2 .1-.2 .1-.1 0-.2 .1-.2 .1-.1 .1-.2 0-.2 .1-.1 .1-.2 0-.2 .1-.1 .1-.2 0-.1 .1 .2 .1 .1 .1 .1 0 .1 .1 .1 .1 .2 0 .1 .1 .1 .1 .1 0 .2 .1 .1 .1 .1 .1 .1 0 .1 .1 .2 .1 .1 0 .1 .1 .1 .1 .1 0 0 .1-.2 .1-.2 .1-.2 0-.2 .1-.1 .1-.2 0-.2 .1-.2 .1-.2 0-.2 .1-.2 .1-.2 .1-.2 0-.2 .1-.2 .1-.2 0-.2 .1-.2 .1-.2 0-.1 .1 0 .1 0 .1 0 0 0 .1 0 .1 0 0 0 .1 0 .1 0 0 0 .1 0 .1 0 .1 0 0 .1 .1 0 .1 0 0 0 .1 0 .1 0 0 0 .1 0 .1 0 .1 0 0 0 .1 0 .1 0 0 0 .1 0 .1 0 0 0 .1 0 .1 0 .1 0 0 0 .1 0 .1 0 0 .1 .1 0 .1 0 0 0 .1 0 .1 0 .1 0 0 0 .1 0 .1 0 0 0 .1 0 .1 0 .1 0 0 0 .1 0 .1 0 0 0 .1 0 .1 0 0 0 .1 0 .1 .1 .1 0 0 0 .1 0 .1 0 0 0 .1 0 .1 0 0 0 .1 .4 .1-.1 .1-.1 0-.1 .1-.2 .1-.1 0-.1 .1 0 .1 0 0 0 .1 0 .1 0 .1 0 .1 .2 .2 .1 .2-.1 .2-.1 .2 0 .2 0 .2 .1 .2 .1 .2 0 .2 0 .2 0 .2 0 .2 0 .2 0 .2-.1 .2 .1 .2 0 .2-.2 .2-.3 .2 .3 .2 .2 .2-.1 .2-.2 .2 0 .2 .1 .2 .1 .1-.1 .2 0 .2 .1 .2 .1 .2-.1 .2 0 .2-.1 .2-.1 .2 .1 .2 .1 .2 0 .2 0 .2 0 .2 0 .2 0 .2 .1 .2 .1 .2 .1 .2 0 .2-.1 .2-.2 .2 0 .2 0 .2-.1 .2-.2 .2 .1 .1 .2 .2 .1 .2-.1 .2 0 .2-.1 .2 .1 .2 .2 .2 .3 .2-.3 .2-.3 .2 .1 .2 0 .2 .1 .2 0 .2 0 .2 0 .2 0 .2 .1 .2 0 .2-.1 .2-.2 .2-.1 .2-.2 .2 .3 .2 .3 .2 0 .1 0 .2 0 .2 0 .2-.1 .2-.1 .2 .1 .2 .1 .2 .1 .2 0 .2 0 .2-.2 .2-.1 .2 .1 .2 0 .2-.4 .2-.3 .2 .2 .2 .3 .2 0 .2-.1 .2 .1 .2 .3 .2 .1 .2-.1 .2-.2 .2 0 .1-.1 .2-.1 .2-.1 .2 .2 .2 .1 .2 0 .2 0 .2-.1 .2-.1 .2 0 .2 .1 .2 .1 .2 .1 .2 0 .2-.3 .2-.3 .2 .3 .2 .2 .2 0 .2 0 .2 .2 .2 .2 .2-.2 .2-.2 .2-.1 .2 0 .1 .1 .2 .1 .2 .1 .2-.1 .2 0 .2 0 .2 0 .2 .1 .2 .2 .2-.1 .2-.2 .2 .1 .2 .1 .2-.1 .2-.4 .2-.2 .2 .1 .2 .1 .2 0 .2 0 .2 .1 .2 .1 .2 0 .2 0 .2 .1 .2 0 .1-.1 .2 0 .2-.1 .2 0 .2 0 .2 0 .2 0 .2-.1 .2 0 .2 .1 .2 .1 .2 0 .2 0 .2 0 .2 0 .2 0 .2 .1 .2 .1 .2 .1 .2 0 .2-.2 .2-.1 .2-.1 .2-.1 .2 0 .2 0 .1 0 .2 0 .2 0 .2 0 .2 0 .2 .1 .2 0 .2 0 .2 0 .2 .1 .2 .1 .2-.1 .2 0 .2 .1 .2 0 .2 0 .2 0 .2-.3 .2-.3 .2 .3 .2 .4 .2 0 .2-.4 .2-.1 .2 .2 .2 0 .1-.6 .2-.4 .2 .4 .2 .5 .2 0 .2 .1 .2 .2 .2 .2 .2-.1 .2-.2 .2-.1 .2 0 .2 0 .2-.2 .2-.1 .2 .1 .2 .2 .2-.2 .2-.1 .2 .2 .2 .1 .2 0 .2 0 .2-.1 .2-.3 .2 0 .1 .3 .2 .2 .2 0 .2-.1 .2 0 .2-.1 .2 0 .2 0 .2 0 .2 .1 .2-.1 .2-.6 .2-.5 .2-.5 .2-.5 .2-.7 .2-.6 .2-.6 .2-.5 .2-.3 .2-.4 .2-.3 .2-.3 .2-.6 .2-.6 .2-.3 .1 .6 .2 .6 .2 .6 .2 .5 .2 .5 .2 .4 .2 .8 .2 .8 .2 1 .2 .9 .2 1 .2 .9 .2 1 .2 .9 .2 .9 .2 .5 .2 .4 .2 .4 .2 .5 .2 .5 .2 .5 .2 .5 .2 .5 .2 .6 .2 .5 .2 .6 .1 .4 .2-.1 .2-.2 .2 .3 .2 .2 .2 .4 .2 .5 .2 0 .2-.4 .2-.4 .2-.4 .2-.3 .2-.2 .2-.2 .2-.2 .2-.2 .2-.5 .2-.5 .2-.7 .2-.6 .2-.8 .2-.8 .2-.5 .2-.5 .2-.5 .2-.4 .2-.3 .1-.2 .2-.1 .2-.3 .2-.3 .2-.2 .2-.1 .2 0 .2-.1 .2 0 .2 0 .2 .2 .2 .3 .2 .2 .2-.1 .2 0 .2 0 .2 0 .2 .1 .2 .1 .2 0 .2 .1 .2 .1 .2 0 .2 0 .2 0 .2 .1 .1 .1 .2 .1 .2 0 .2 0 .2-.1 .2-.1 .2 0 .2 0 .2 .1 .2 .1 .2 0 .2 0 .2 .1 .2 0 .2 0 .2-.1 .2 0 .2 .1 .2 .1 .2 .1 .2 .1 .2-.1 .2-.1 .2 0 .2 0 .2 0 .1-.1 .2 .1 .2 .1 .2 .1 .2 0 .2 0 .2 0 .2 0 .2 0 .2 0 .2-.1 .2 0 .2 0 .2 .1 .2-.2 .2-.1 .2 0 .2 .1 .2 .2 .2 .1 .2 .1 .2-.1 .2 0 .2 0 .2-.1 .2-.2 .1-.2 .2 .2 .2 .2 .2 .1 .2 0 .2-.1 .2 0 .2-.1 .2-.2 .2 0 .2 .2 .2 .1 .2-.3 .2-.2 .2 .3 .2 .3 .2-.1 .2-.2 .2 .1 .2 .2 .2-.1 .2-.2 .2 .1 .2 .4 .2 .2 .2-.1 .1-.2 .2-.1 .2-.2 .2-.1 .2-.1 .2 .1 .2 .2 .2 0 .2 0 .2 0 .2 0 .2 0 .2 0 .2 0 .2 0 .2 0 .2-.1 .2-.1 .2 .1 .2 .1 .2-.1 .2-.2 .2 .1 .2 .2 .2 0 .2-.1 .1 0 .2-.1 .2 0 .2 0 .2 .1 .2 0 .2 0 .2 0 .2-.1 .2 0 .2 0 .2 .1 .2 0 .2 0 .2-.1 .2 .1 .2 .1 .2 0 .2-.2 .2-.1 .2 .2 .2 .1 .2 0 .2 0 .2-.1 .2 0 .1 .2 .2 .2 .2-.1 .2-.1 .2-.1 .2-.3 .2-.1 .2 .2 .2 .2 .2 .3 .2 .1 .2-.2 .2-.2 .2-.1 .2-.1 .2 .1 .2 .2 .2 .1 .2-.1 .2-.1 .2-.1 .2 0 .2 .1 .2 0 .2 0 .2 .1 .1-.1 .2-.1 .2-.2 .2-.3 .2 .3 .2 .3 .2 .1 .2 .1 .2-.1 .2-.2 .2-.1 .2 0 .2 0 .2 .1 .2 .1 .2-.1 .2 0 .2-.1 .2-.1 .2 .4 .2 .5 .2-.1 .2-.4 .2-.1 .2 .1 .2 0 .1-.1 .2 0 .2 .1 .2 .1 .2-.2 .2-.1 .2-.2 .2-.1 .2 .3 .2 .4 .2 0 .2-.3 .2 0 .2 .1 .2 0 .2 0 .2 0 .2-.1 .2-.1 .2 .1 .2 0 .2 0 .2-.1 .2 0 .2 0 .2-.1 .1 0 .2 .1 .2 .1 .2 0 .2-.1 .2 .1 .2 .2 .2 .2 .2-.1 .2-.1 .2-.2 .2-.1 .2 0 .2 .1 .2 0 .2 .1 .2 0 .2-.1 .2 0 .2-.1 .2 0 .2 .1 .2 .1 .2 0 .2 0 .2 0 .1-.1 .2 .2 .2 .2 .2-.1 .2-.2 .2-.1 .2 0 .2 0 .2 0 .2 0 .2 0 .2-.1 .2 .1 .2 0 .2 .1 .2 0 .2 0 .2 0 .2 .1 .2 .1 .2 0 .2-.2 .2-.1 .2 .1 .2-.1 .2-.3 .1-.2 .2 .4 .2 .3 .2 .3 .2 .4 .2 .4 .2 .4 .2 .5 .2 .5 .2 .4 .2 .2 .2 .3 .2 .4 .2 .5 .2 .4 .2 .4 .2 .5 .2 .6 .2 .1 .2-.6 .2-.4 .2-.4 .2-.6 .2-.6 .2-.7 .2-.8 .1-.6 .2-.3 .2-.4 .2-.6 .2-.6 .2-.7 .2-.7 .2-.6 .2-.7 .2-.6 .2-.5 .2-.8 .2-.7 .2-.6 .2-.4 .2-.4 .2-.5 .2-.4 .2-.5 .2-.5 .2-.3 .2-.4 .2-.5 .2-.2 .2-.4 .2-.3 .1-.3 .2-.4 .2-.2 .2 0 .2 .2 .2 .5 .2 .5 .2 .5 .2 .4 .2 .5 .2 .4 .2 .6 .2 .7 .2 .6 .2 .5 .2 .7 .2 .7 .2 .7 .2 .8 .2 .6 .2 .2 .2 .2 .2 .4 .2 .3 .2 .3 .2 .2 .1 0 .2-.4 .2 .1 .2 .2 .2-.1 .2-.3 .2-.2 .2-.1 .2 0 .2 .1 .2 0 .2-.2 .2-.2 .2-.1 .2 0 .2 .1 .2 0 .2-.2 .2-.2 .2 .2 .2 .4 .2 .1 .2-.1 .2 0 .2-.1 .2 0 .1 0 .2 .1 .2-.1 .2 0 .2-.3 .2-.2 .2-.1 .2-.1 .2 .2 .2 .2 .2 .2 .2 .2 .2 .1 .2-.1 .2-.1 .2-.1 .2-.2 .2 .1 .2 .1 .2-.3 .2-.3 .2 .3 .2 .4 .2 .1 .2-.2 .2 .2 .1 .2 .2 .1 .2-.2 .2-.2 .2 0 .2 0 .2 0 .2 0 .2 .1 .2 0 .2 0 .2-.1 .2-.1 .2 0 .2 0 .2 .1 .2 .1 .2-.2 .2-.1 .2 0 .2 0 .2 .1 .2 .1 .2-.1 .2-.1 .2-.1 .1 0 .2 .3 .2 .4 .2 .1 .2-.2 .2-.2 .2-.3 .2-.2 .2 .1 .2 0 .2 0 .2 0 .2 0 .2 0 .2 .1 .2 .1 .2-.1 .2-.2 .2 0 .2 .1 .2 .1 .2 .2 .2 0 .2 0 .2-.1 .2-.1 .1-.1 .2-.2 .2-.1 .2 .1 .2 .1 .2 0 .2 .1 .2 .1 .2 0 .2 .1 .2 0 .2 0 .2 .1 .2 0 .2-.2 .2-.1 .2 .1 .2 .1 .2-.1 .2-.2 .2 0 .2 0 .2 0 .2 0 .2 0 .2 .1 .1 .1 .2 0 .2 0 .2 .1 .2 .1 .2 0 .2 .1 .2-.2 .2-.3 .2 0 .2 .1 .2 0 .2 .1 .2 0 .2-.1 .2 0 .2-.1 .2 0 .2 0 .2-.1 .2 .1 .2 .1 .2 0 .2-.1 .2 0 .2 .1 .1 0 .2 0 .2 0 .2-.1 .2-.1 .2 0 .2 0 .2 .1 .2 .2 .2 0 .2 0 .2 0 .2 .1 .2 0 .2-.1 .2-.1 .2-.1 .2-.1 .2 0 .2 .1 .2 .1 .2 .1 .2-.2 .2-.1 .2 0 .2 0 .1 .1 .2 0 .2 0 .2 0 .2 0 .2 0 .2 0 .2-.1 .2 0 .2 .1 .2 .1 .2-.1 .2 0 .2 .1 .2 0 .2 0 .2-.1 .2 0 .2 .1 .2-.2 .2-.3 .2 0 .2 .1 .2 .1 .2 .2 .2 .1 .1 0 .2 0 .2-.1 .2-.1 .2 0 .2 .1 .2-.2 .2-.3 .2 0 .2 .1 .2 .1 .2 .1 .2 0 .2-.1 .2 0 .2 0 .2-.1 .2 .2 .2 .1 .2 0 .2 0 .2 0 .2-.1 .2 .1 .2 0 .2 0 .1-.1 .2-.1 .2 .1 .2 .1 .2-.1 .2-.1 .2-.1 .2 0 .2-.1 .2-.1 .2 .2 .2 .2 .2 .1 .2 0 .1 0 0 0 .1 0 .1 0 .1-.1 0 0 .1 0 .1 0 0 0 .1 0 .1 0 0 0 .1 0 .1 0 .1-.1 0-.1 .1 0 .1-.1 0-.1 .1 0 .1 .1 0 0 .1 .1 .1 .1 .1 .1 0 0 .1 0 .1-.1 0 0 .1 0 .1 0 0 0 .1 0 .1 0 .1 .1 0 0 .1 0 .1 0 0 0 .1-.1 .1 0 0-.1 .1 0 .1 0 .1 0 0 0 .1 0 .1 0 0-.1 .1 0 .1 0 0 0 .1-.1 .1 0 .1-.1 0 0 .1 .1 .1 0 0 0 .1 .1 .1 0 0 0 .1 .1 .1 0 .1 0 0 .1 .1 0 .1 0 0 0 .1 0 .1 0 0-.1 .1 0 .1 0 .1 0 0 0 .1-.1 .1 0 0 0 .1 0 .1 0 0 .1 .1 0 .1 0 .1 .1 0 0 .1 0 .1 0 0 0 .1 0 .1 0 0 0 .1 0 .1-.1 .1-.2 0-.1 .1-.1 .1 0 0 .2 .1 .3 .1 .4 0 .4 .1 .4 .1 .3 .1 0 0 0 .1 0 .1 0 0-.1 .1-.3 .1-.9 0-.9 .1-.9 .1-.9 .1-.9 0-.4 .1 .1 .1 .1 0 .1 .1 .2 .1 .1 0-.4 .1-1.1 .1-.7 .1-.3 0-.3 .1-.2 .1 .2 0 1 .1 1 .1 .9 0 1 .1 1 .1 .7 .1 .5 0-.2 .1-1.2 .1-1.1 0-1.2 .1-1.2 .1-1.3 0-1.3 .1-1.3 .1-1.3 .1-1.3 0-.3 .1 1.2 .1 1.2 0 1.2 .1 1.3 .1 1.2 0 1.1 .1 1 .1 1 .1 1 0 .3 .1-.6 .1-.6 0-.6 .1-.5 .1-.6 0-.5 .1-.5 .1-.6 .1-.6 0 .1 .1 1 .1 .9 0 1 .1 1.2 .1 1.3 0 1.4 .1 1.4 .1 1.3 .1 1.4 0 1 .1 .6 .1 .1 0-.8 .1-.8 .1-.7 .1-.5 0-.2 .1-.1 .1-.2 0-.2 .1-.1 .1-.3 0-.5 .1-.1 .1 .5 .1 .4 0 .5 .1 .7 .1 .9 0 1 .1 1 .1 .9 0 1 .1 .6 .1 0 .1-.2 0-.4 .1-.4 .1-.5 0-.1 .1 .2 .1 .2 0 .2 .1 .3 .1 .2 .1 .2 0 0 .1 0 .1 0 0 .1 .1 .1 .1 .2 0 .2 .1 .2 .1 .3 .1 .2 0 .2 .1 .3 .1 .2 0 .2 .1 .2 .1 .2 0 .2 .1 .3 .1 .1 .1 .2 0 .2 .1 .1 .1 .2 0 .1 .1 .1 .1 0 0 0 .1 .1 .1 0 .1 0 0 0 .1 0 .1-.1 0 0 .1-.1 .1-.2 0-.4 .1-.3 .1-.3 .1-.4 0-.3 .1-.3 .1-.2 0-.1 .1-.2 .1-.2 0-.1 .1-.3 .1-.4 .1-.4 0-.3 .1-.4 .1-.4 0-.3 .1-.2 .1-.3 0-.2 .1-.2 .1-.2 .1-.4 0-.5 .1-.5 .1-.5 0-.4 .1-.5 .1-.3 0-.2 .1-.2 .1-.2 .1-.2 0-.2 .1-.1 .1-.1 0 0 .1 .1 .1 0 0 0 .1 0 .1 0 .1-.1 0 0 .1-.1 .1 0 0-.2 .1-.1 .1-.2 0-.2 .1-.2 .1-.1 .1-.1 0 0 .1 0 .1 0 0 .1 .1 0 .1 0 0 0 .1 0 .1 .1 .1 0 0 0 .1 0 .1 0 0 .1 .1 0 .1 0 0 .1 .1 0 .1 0 .1 0 0 0 .1 0 .1 0 0 0 .1 0 .1 0 0 0 .1 .1 .1 0 .1 0 0 0 .1 .1 .1 0 0 .1 .1 0 .1 0 0 .1 .1 0 .1 0 .1 .1 0 0 .1 0 .1 0 0 0 .1 0 .1 .1 0 0 .1 0 .1 0 .1 0 0 0 .1 0 .1 0 0 0 .1 0 .1 0 .1 0 0 0 .1-.1 .1 .1 0 .1 .1 .1 .1 .1 0 .1 .1 .1 .1 .1 .1-.1 0-.1 .2-.2 .2 .1 .2 .1 .2 .1 .2-.1 .2 0 .2-.2 .2 0 .2 .2 .2 .2 .2-.2 .2-.1 .2 0 .2 0 .2 .2 .2 .2 .2 0 .2 0 .1 .1 .2 .1 .2 .1 .2 0 .2-.1 .2-.2 .2-.1 .2 .2 .2 .2 .2-.1 .2-.1 .2 0 .2 0 .2 0 .2 0 .2 0 .2-.1 .2 0 .2 0 .2 0 .2 0 .2 0 .2-.1 .2-.1 .2-.2 .2-.1 .1 .2 .2 .3 .2 .1 .2-.1 .2 0 .2 .1 .2 0 .2-.1 .2 0 .2 .1 .2 0 .2-.1 .2-.1 .2 .2 .2 .3 .2-.1 .2-.2 .2 .1 .2 .1 .2-.1 .2-.4 .2-.1 .2 .2 .2 .2 .2 .1 .2 0 .1-.1 .2-.2 .2 .2 .2 .2 .2 .1 .2 0 .2-.1 .2-.2 .2-.1 .2 .1 .2 0 .2 0 .2 .1 .2-.1 .2 0 .2 .2 .2 .2 .2-.1 .2 0 .2-.3 .2-.3 .2 .1 .2 .2 .2 0 .2 0 .2 0 .1 0 .2 0 .2 .1 .2 .1 .2-.5 .2-.5 .2 .2 .2 .3 .2 .1 .2 .2 .2 0 .2 .1 .2 0 .2-.1 .2 0 .2 .1 .2 0 .2-.1 .2-.1 .2-.2 .2-.2 .2 .2 .2 .2 .2 .1 .2 0 .2 0 .1 .1 .2 0 .2-.1 .2-.1 .2-.1 .2 0 .2-.1 .2 0 .2-.1 .2 0 .2 .2 .2 .2 .2 0 .2-.1 .2 0 .2 .1 .2 0 .2 0 .2-.1 .2-.1 .2-.1 .2-.1 .2-.1 .2 .3 .2 .2 .2 0 .1 0 .2 .1 .2 0 .2 0 .2 0 .2 0 .2 0 .2-.1 .2-.2 .2-.1 .2 0 .2 0 .2 .2 .2 .2 .2-.1 .2-.1 .2-.1 .2-.1 .2 0 .2 .1 .2-.1 .2-.1 .2-.1 .2 .2 .2 .2 .2 0 .1 0 .2-.1 .2-.1 .2 .1 .2 .1 .2-.1 .2 0 .2-.2 .2-.4 .2 0 .2 .2 .2 .1 .2 .2 .2 .1 .2-.1 .2-.1 .2-.2 .2-.1 .2 .3 .2 .4 .2 0 .2 0 .2 .1 .2 .2 .2-.1 .2-.2 .1-.1 .2 0 .2 0 .2-.1 .2 0 .2-.1 .2-.1 .2 .1 .2 0 .2 .1 .2 0 .2 0 .2 0 .2 0 .2 0 .2-.1 .2 0 .2-.1 .2-.1 .2 0 .2 .1 .2 .2 .2 0 .2 .1 .2 0 .2 0 .1-.1 .2-.1 .2-.1 .2-.1 .2 .1 .2 .1 .2 .1 .2-.1 .2 0 .2 .1 .2 .2 .2 0 .2 0 .2 .1 .2 .1 .2-.3 .2-.4 .2 0 .2 .1 .2 .1 .2-.1 .2-.1 .2 0 .2 0 .2 .4 .2 .4 .1-.5 .2-.4 .1 0 .1 0 .1 .1 0 0 .1 0 .1 .1 0 0 .1 .1 .1 0 0 0 .1 .1 .1 0 .1 0 0 .1 .1 0 .1 0 0 .1 .1 0 .1 0 0-.1 .1-.1 .1 0 .1-.1 0 0 .1 0 .1 0 0 0 .1 0 .1-.2 0-.2 .1-.2 .1-.2 .1-.2 0-.2 .1-.1 .1-.2 0 0 .1 .2 .1 .1 0 .2 .1 .1 .1 .2 .1 .2 0 .4 .1 .4 .1 .3 0 .4 .1 .4 .1-.1 0-.3 .1-.4 .1-.3 .1-.4 0-.3 .1-.2 .1-.1 0-.1 .1-.1 .1-.2 0-.1 .1 .1 .1 .1 .1 .1 0 .1 .1 .2 .1 .1 0 .1 .1 .2 .1 .2 0 .1 .1 .2 .1 .2 .1 0 0 0 .1 0 .1 0 0 0 .1 0 .1 0 .1-.1 0-.1 .1 0 .1-.1 0-.1 .1 .1 .1 0 0 .1 .1 .1 .1 .1 .1 0 0 0 .1 0 .1-.1 0 0 .1-.1 .1-.1 0 0 .1-.1 .1 0 .1-.1 0 0 .1-.1 .1 0 0 0 .1 0 .1-.1 0 0 .1 0 .1 0 .1 0 0-.1 .1 0 .1 0 0 0 .1 0 .1 0 0 0 .1 0 .1 0 .1 0 0 .1 .1 0 .1 0 0 0 .1 .1 .1 0 0 0 .1 0 .1 0 .1 0 0 0 .1 0 .1 0 0 0 .1 0 .1 0 0 0 .1 0 .1 0 .1 0 0 0 .1 0 .1 0 0-.1 .1 0 .1 0 0 0 .1 0 .1 0 .1 0 0 0 .1 0 .1 0 0 .1 .1 0 .1 0 0 0 .1 0 .1 0 .1 0 0 0 .1 0 .1 .1 0 0 .1 0 .1 .1 0 0 .1 .1 .1 0 .1 0 0 0 .1-.1 .1 0 0 0 .1 0 .1 0 0 0 .1 0 .1 0 .1 0 0 0 .1-.1 .1 0 0-.1 .1-.1 .1 0 0 0 .1 0 .1 .1 .1 0 0 .1 .1 0 .1 .1 0-.1 .1 0 .1 0 0 0 .1 0 .1 0 .1 0 0 0 .1 0 .1 0 0 0 .1-.1 .1-.1 0-.1 .1-.2 .1-.1 .1-.2 0 .1 .1 .1 .1 .1 0 .1 .1 .1 .1 .2 0 0 .1 0 .1 0 .1 0 0-.1 .1 0 .1 0 0 .1 .1 0 .1 0 0 0 .1 .1 .1-.1 .2-.3 .2-.3 .2 .3 .2 .3 .2-.1 .2-.2 .2 0 .2 .2 .2 0 .2 0 .1 .1 .2 .1 .2 .1 .2-.2 .2-.1 .2 .1 .2 0 .2 0 .2-.1 .2 .1 .2 0 .2-.2 .2-.3 .2 0 .2 .2 .2 .1 .2 .1 .2 0 .2 0 .2 0 .2 .2 .2 .2 .2-.2 .2-.3 .2 0 .2 0 .1-.1 .2-.2 .2 0 .2 .2 .2 .1 .2 .2 .2-.1 .2-.2 .2-.2 .2 .3 .2 .2 .2 0 .2 0 .2 0 .2 0 .2 0 .2 0 .2-.1 .2-.1 .2 0 .2 .1 .2 0 .2 .2 .2 0 .2 0 .2 0 .1 0 .2 0 .2-.1 .2-.1 .2 0 .2-.1 .2 .1 .2 .2 .2 0 .2-.2 .2-.1 .2 0 .2 .1 .2-.1 .2 0 .2 0 .2 0 .2-.1 .2 0 .2 .1 .2 0 .2 .1 .2 0 .2 .1 .2 0 .2 0 .1 0 .2 0 .2 .1 .2 .1 .2 0 .2-.1 .2-.1 .2-.1 .2 0 .2 0 .2 0 .2-.1 .2 0 .2-.1 .2 .1 .2 .3 .2 .2 .2 0 .2 0 .2-.3 .2-.3 .2 .4 .2 .4 .2-.1 .2-.3 .2-.1 .1 0 .2-.2 .2-.3 .2-.1 .2 .3 .2 .2 .2 0 .2 .1 .2-.1 .2-.1 .2 0 .2 0 .2 .1 .2 .1 .2 .1 .2 .1 .2-.1 .2-.2 .2-.1 .2 .1 .2 0 .2 0 .2-.1 .2 0 .2 .1 .2-.1 .1-.1 .2 0 .2 .1 .2 0 .2 0 .2 0 .2-.1 .2 0 .2 .1 .2 .1 .2 .1 .2 0 .2 0 .2-.1 .2-.1 .2-.1 .2 .3 .2 .5 .2-.1 .2-.4 .2-.2 .2 0 .2-.1 .2-.1 .2 0 .2 .2 .1 .1 .2 .1 .2 0 .2 0 .2 0 .2 .1 .2 .2 .2-.1 .2-.3 .2-.1 .2 0 .2 0 .2 0 .2 0 .2 .1 .2 0 .2 0 .2-.1 .2 .1 .2 .2 .2-.2 .2-.1 .2-.1 .2 .1 .2 .1 .2 .2 .1 0 .2-.2 .2-.1 .2 .1 .2 .1 .2 0 .2-.1 .2 0 .2-.1 .2 0 .2 .1 .2-.1 .2-.1 .2 0 .2 .2 .2 0 .2 0 .2 0 .2 0 .2 0 .2-.2 .2-.1 .2 0 .2 .1 .2 .1 .2 0 .1 0 .2 .1 .2-.1 .2-.1 .2 0 .2 0 .2 0 .2 .1 .2 0 .2 0 .2 0 .2 .1 .2 0 .2 0 .2-.1 .2-.1 .2 0 .2 0 .2 0 .2 0 .2 .1 .2 0 .2-.1 .2-.1 .2 .1 .2 0 .1 .2 .2 .2 .2 .1 .2-.1 .2-.1 .2-.3 .2 0 .2 .2 .2 0 .2-.2 .2-.2 .2 .3 .2 .2 .2-.1 .2-.1 .2 0 .2-.1 .2-.1 .2-.2 .2 .1 .2 .2 .2 .1 .2 0 .2 0 .2-.2 .2-.1 .1 .2 .2 .2 .2-.1 .2-.1 .2 .1 .2 .1 .2 0 .2-.2 .2 0 .2-.1 .2 0 .2 .1 .2 .1 .2-.1 .2-.1 .2 0 .2 .1 .2-.1 .2-.1 .2 0 .2 .1 .2 0 .2 .1 .2 0 .2 0 .2 0 .1-.1 .2 0 .2 .2 .2 .1 .2-.1 .2-.1 .2 .2 .2 .1 .2-.1 .2-.1 .2 .1 .2 .2 .2 0 .2-.1 .2-.1 .2-.1 .2-.2 .2-.2 .2-.2 .2 .3 .2 .2 .2-.1 .2 0 .2 .2 .2 .1 .2 0 .1-.1 .2 0 .2 0 .2 0 .2 0 .2 0 .2-.2 .2 0 .2 .1 .2 .2 .2-.2 .2-.2 .2-.1 .2-.2 .2 .2 .2 .3 .2 .1 .2 0 .2 0 .2-.1 .2-.1 .2 0 .2-.1 .2 0 .2 0 .2 .1 .1 .1 .2 .1 .2 0 .2 0 .2 0 .2 0 .2 0 .2 0 .2 0 .2 0 .2 0 .2 0 .2 0 .2 .1 .2-.2 .2-.2 .2 0 .2 .1 .2-.1 .2-.1 .2 .1 .2 .3 .2 .1 .2-.1 .2-.1 .2-.1 .1 0 .2 0 .2 0 .2 0 .2 0 .2-.1 .2-.2 .2 .2 .2 .2 .2 .1 .2-.1 .2 0 .2 0 .2 0 .2 0 .2-.1 .2 0 .2 0 .2 .1 .2 0 .2-.1 .2-.1 .2 .1 .2 0 .2 0 .2 0 .1 0 .2 0 .2 0 .2 0 .2 .1 .2 .1 .2 .1 .2 0 .2-.1 .2-.2 .2-.1 .2 .1 .2 .2 .2 0 .2-.1 .2 .1 .2 .1 .2 0 .2-.2 .2-.2 .2 0 .2 .1 .2 0 .2 .1 .2 0 .2-.1 .1-.3 .2-.5 .2 .1 .2 .4 .2 .2 .2 .2 .2 .1 .2-.2 .2 0 .2 0 .2 .1 .2 .1 .2 0 .2-.1 .2-.2 .2 0 .2 .1 .2 0 .2 0 .2 .1 .2 0 .2 0 .2-.1 .2-.2 .2-.1 .2 0 .1 .2 .2 .2 .2-.1 .2 0 .2-.1 .2-.1 .2 0 .2 .1 .2 .1 .2 .1 .2 0 .2 0 .2 0 .2 0 .2-.1 .2 .1 .2 .2 .2-.2 .2-.2 .2 .1 .2 .1 .2 0 .2-.1 .2-.1 .2 0 .2 0 .1-.1 .2-.1 .2 .1 .2 .1 .2 0 .2 0 .2 .1 .2 .2 .2-.1 .2-.1 .2 .1 .2 0 .2 0 .2 0 .2 0 .2 0 .2-.1 .2 0 .2 0 .2 0 .2 0 .2 0 .2-.1 .2 0 .2-.1 .2 .1 .1 .1 .2 .1 .2-.1 .2 0 .2 .1 .2 .1 .2 .1 .2 .1 .2-.3 .2-.4 .2 .1 .2 .2 .2-.1 .2-.1 .2 0 .2 .1 .2 .1 .2 .1 .2 0 .2-.1 .2-.1 .2-.1 .2 0 .2 .2 .2 .1 .2 0 .1 0 .2-.1 .2 0 .2 0 .2 0 .2 .1 .2 0 .2 0 .2-.1 .2-.1 .2 .1 .2 0 .2 0 .2 0 .2 .1 .2 .1 .2-.2 .2-.2 .2 0 .2 0 .2 .1 .2-.1 .2 0 .2 0 .2 0 .2 0 .2 0 .1-.1 .2 0 .2 .1 .2 .1 .2 0 .2 0 .2 0 .2 0 .2 0 .2 0 .2 0 .2-.1 .2-.1 .2 .1 .2 .1 .2-.1 .2 0 .2 .1 .2 .1 .2-.1 .2-.2 .2 0 .2 .1 .2 .2 .2 .2 .2 .1 .1-.1 .2-.1 .2-.1 .2-.1 .2 0 .2 0 .2 0 .2 .1 .2-.1 .2-.2 .2 0 .2 .1 .2 0 .2 0 .2 0 .2 0 .2-.1 .2-.1 .2-.1 .2-.1 .2-.1 .2-.2 .2-.1 .2-.1 .2 .4 .2 .3 .1 .3 .2 .3 .2 .1 .2-.1 .2 .1 .2 0 .2-.2 .2-.2 .2-.1 .2 0 .2-.2 .2-.1 .2 .1 .2 .1 .2 .1 .2 .1 .2 0 .2-.1 .2 0 .2 .1 .2 .1 .2-.1 .2-.1 .2 0 .2 .1 .2 0 .1 0 .2 .1 .2 .2 .2-.2 .2-.2 .2-.1 .2 .1 .1 0 .1 .1 0-.1 .1 0 .1 0 0-.1 .1 0 .1 0 .1-.1 0-.1 .1-.1 .1 0 0-.1 .1 0 .1 .1 0 .1 .1 .1 .1 .1 .1 .1 0 0 .1 0 .1 0 0 0 .1 0 .1 0 0-.1 .1 .1 .1-.1 .1-.3 0-.3 .1-.3 .1-.3 0-.3 .1-.2 .1 .3 0 .2 .1 .2 .1 .2 .1 .3 0 .2 .1 .2 .1 .2 0 0 .1 0 .1 0 0 0 .1 0 .1 0 .1 0 0 0 .1 0 .1 0 0 0 .1 0 .1 0 0 0 .1 .1 .1 0 .1 .1 0 .1 .1 .1 .1 0 0 0 .1-.1 .1 0 0-.1 .1 0 .1 0 .1 0 0-.1 .1 0 .1 0 .2-.1 .2-.1 .2-.1 .2 0 .1 .1 .2 .1 .2 0 .2 0 .2 0 .2 0 .2 .6 .2 0 .2 0 .2-.1 .2 0 .2-.1 .2-.1 .2-.1 .2 0 .2 .1 .2-.2 .2-.2 .2-.2 .2-.2 .2-.1 .2-.1 .2-.1 .2-.2 .2-.1 .2-.2 .1-.2 .2-.1 .2-.1 .2-.1 .2-.2 .2 .1 .2 0 .2 0 .2 0 .2-.1 .2 0 .2-.1 .2 0 .2-.1 .2 .1 .2 0 .2 0 .2 0 .2-.2 .2-.2 .2 0 .2 .1 .2-.2 .2-.2 .2 0" stroke="#ff0000" stroke-width="1.05"/>
<path d="M46.4 352.2l.2 0 .2 0 .2 0 .2 0 .2 0 .2 0 .2 0 .2 0 .2 0 .2 0 .2 0 .2 0 .2 0 .1 0 .2 0 .2 0 .2 0 .2 0 .2 0 .2 0 .2 0 .2 0 .2 0 .2 0 .2 0 .2 0 .2 0 .2 0 .2 0 .2 0 .2 0 .2 0 .2 0 .2 0 .2 0 .2 0 .2 0 .2 0 .2 0 .1 0 .2 0 .2 0 .2 0 .2 0 .2 0 .2 0 .2 0 .2 0 .1 0 .1 0 0 0 .1 0 .1 0 0-6.4 .1-16.1 .1-3.5 0-.5 .1-.5 .1-.4 .1-.5 0-.5 .1-.4 .1-.5 0-.5 .1-.4 .1-3.4 0-7.9 .1-7.8 .1-7.9 .1-7.8 0-1.2 .1 8.7 .1 8.7 0 8.7 .1 8.7 .1 8.8 0 8.7 .1 8.7 .1 8.7 .1 8.7 0 2.9 .1-6 .1-6 0-6 .1-6 .1-6 0-6 .1-4.6 .1-2.5 .1-2.5 0-2.5 .1-2.5 .1-2.5 0-2.6 .1-2.5 .1-2.5 0-2.5 .1-2.5 .1-2.5 .1-2.5 0 .9 .1 6 .1 5.9 0 6 .1 5.9 .1 6 0 5.9 .1 2.5 .1-2.9 .1-2.8 0-2.8 .1-2.8 .1-2.8 0-2 .1-.9 .1-.8 0-.8 .1-.9 .1-.8 .1-.8 0-.9 .1 .5 .1 2.2 0 2.3 .1 2.2 .1 2.3 .1 2.3 0 2.2 .1 2.3 .1 .8 0-1.3 .1-1.3 .1-1.4 0-1.3 .1-1.3 .1-1.3 .1-1.4 0-1.3 .1-1.3 .1-.6 0 .6 .1 .5 .1 .6 0 .5 .1 .6 .1 .5 .1 .6 0 .5 .1 .6 .1 .5 0 .6 .1 0 .1-.7 0-.8 .1-.7 .1-.8 .1-.8 0-.7 .1-.8 .1-.7 0-.8 .1-.7 .1-.8 0-.4 .1 .1 .1 .1 .1 .1 0 0 .1 .1 .1 .1 0 .1 .1 .1 .1 .1 0 .1 .1 0 .1 .1 .1 .1 0 .3 .1 .5 .1 .6 0 .6 .1 .5 .1 .6 0 .5 .1 .6 .1 .5 .1 .6 0 .5 .1 .6 .1 .3 0-.2 .1-.2 .1-.1 0-.2 .1-.1 .1-.2 .1-.1 0-.2 .1-.1 .1-.2 0-.1 .1-.2 .1-.1 0-.2 .1-.1 .1-.1 .1 .1 0 .1 .1 0 .1 .1 0 0 .1 .1 .1 .1 0 0 .1 .1 .1 .1 .1 0 0 .1 .1 .1 .1 0 0 .1 .1 .1 .1 0 0 .1 .1 .1 .1 0 .1 .1 0 0 .1 .1 .1 .1 0 0 .1 .1 .1 .1 0-.1 .1-.1 .1-.2 .1-.1 0-.2 .1-.1 .1-.2 0-.1 .1-.2 .1-.1 0-.2 .1-.1 .1-.2 .1-.1 0-.2 .1-.1 .1-.2 0-.1 .1-.2 .1-.1 0-.1 .1 0 .1 0 .1 0 0 0 .1 0 .1 0 0 0 .1 0 .1 0 0 0 .1 0 .1 0 .1 0 0 0 .1 0 .1 0 0 0 .1 0 .1 0 0 0 .1 0 .1 0 .1 0 0 0 .1 0 .1 0 0 0 .1 0 .1 0 0 0 .1 0 .1 0 .1 0 0 0 .1 0 .1 0 0 0 .1 0 .1 0 0 0 .1 0 .1 0 .1 0 0 0 .1 0 .1 0 0 0 .1 0 .1 0 .1 0 0 0 .1 0 .1 0 0 0 .1 0 .1 0 0 0 .1 0 .1 0 .1 0 0 0 .1 0 .1 0 0 0 .1 0 .1 0 0 0 .1 .3 .1-.1 .1-.1 0-.1 .1-.1 .1-.2 0 0 .1 0 .1 0 0 0 .1 0 .1 0 .1 0 .1 .1 .2 .2 .2-.1 .2-.1 .2 .1 .2 .2 .2 0 .2 0 .2-.1 .2 0 .2 0 .2 .2 .2 0 .2-.1 .2-.2 .2-.2 .2-.1 .2 .1 .2 .1 .2 0 .2 0 .2 0 .2-.1 .2 0 .2 0 .2 .1 .1 0 .2 .1 .2 .1 .2 .1 .2 0 .2 0 .2 0 .2 0 .2 0 .2-.1 .2 0 .2-.1 .2 0 .2 0 .2 .1 .2 .1 .2 0 .2 0 .2 0 .2-.1 .2-.2 .2 0 .2 .1 .2-.2 .2-.2 .2 .1 .1 .3 .2 .1 .2-.1 .2-.1 .2 0 .2 .1 .2 .2 .2 .2 .2-.3 .2-.2 .2 .1 .2 .1 .2 0 .2-.1 .2 .1 .2 0 .2 .1 .2 0 .2 0 .2-.2 .2-.1 .2-.2 .2 0 .2 .3 .2 .3 .2-.2 .1-.1 .2 0 .2 .1 .2 0 .2 0 .2 .1 .2 0 .2 .1 .2 0 .2 0 .2-.1 .2 0 .2-.2 .2-.1 .2-.2 .2-.2 .2 .4 .2 .6 .2-.1 .2-.4 .2-.1 .2 .2 .2 0 .2 0 .2-.1 .2 0 .1 0 .2 0 .2 0 .2-.1 .2-.1 .2 .1 .2 0 .2 .1 .2 0 .2-.1 .2-.1 .2 .1 .2 .2 .2 .1 .2-.3 .2-.3 .2 .2 .2 .1 .2 .1 .2 .1 .2 0 .2 0 .2-.1 .2-.1 .2 0 .2 .1 .1 .1 .2 .1 .2 .1 .2-.1 .2 0 .2-.1 .2 0 .2 .1 .2 .1 .2-.1 .2-.1 .2-.1 .2 0 .2-.2 .2-.2 .2 0 .2 .2 .2 .1 .2-.1 .2-.1 .2 .3 .2 .2 .2 0 .2-.1 .2-.1 .2 0 .1-.1 .2 0 .2 0 .2 0 .2 0 .2 0 .2 .1 .2 .1 .2 .1 .2 0 .2 0 .2-.1 .2-.1 .2-.1 .2-.1 .2 .1 .2 .1 .2 .1 .2 .1 .2 0 .2-.1 .2-.2 .2-.1 .2-.1 .2 .1 .2 .1 .1-.1 .2-.1 .2 .1 .2 0 .2 0 .2 .1 .2 0 .2 0 .2 0 .2 .1 .2 .1 .2 0 .2 0 .2 0 .2 0 .2 .1 .2 .1 .2-.3 .2-.3 .2 0 .2 .2 .2 0 .2-.2 .2-.1 .2 .3 .2 0 .1-.4 .2-.3 .2 .3 .2 .4 .2 0 .2 0 .2 .3 .2 .3 .2-.1 .2-.2 .2-.2 .2-.1 .2 0 .2-.1 .2-.1 .2 0 .2 0 .2 0 .2 0 .2 .2 .2 .1 .2 0 .2 0 .2-.2 .2-.2 .2 0 .1 .2 .2 .1 .2 0 .2 0 .2 0 .2-.1 .2 .1 .2 0 .2 0 .2 0 .2-.1 .2-.5 .2-.5 .2-.5 .2-.7 .2-.6 .2-.7 .2-.5 .2-.5 .2-.4 .2-.4 .2-.3 .2-.3 .2-.5 .2-.6 .2-.2 .1 .6 .2 .5 .2 .4 .2 .6 .2 .7 .2 .5 .2 .8 .2 .8 .2 .8 .2 .9 .2 .9 .2 1 .2 1 .2 1.1 .2 .9 .2 .4 .2 .5 .2 .4 .2 .5 .2 .5 .2 .5 .2 .4 .2 .5 .2 .5 .2 .5 .2 .7 .1 .6 .2-.1 .2-.1 .2 .1 .2 .2 .2 .3 .2 .3 .2 0 .2-.4 .2-.4 .2-.4 .2-.3 .2-.1 .2-.1 .2-.2 .2-.2 .2-.7 .2-.6 .2-.8 .2-.8 .2-.5 .2-.5 .2-.5 .2-.5 .2-.6 .2-.4 .2-.3 .1-.2 .2-.1 .2-.3 .2-.3 .2-.2 .2-.2 .2 0 .2 .1 .2-.1 .2-.3 .2 .2 .2 .5 .2 .2 .2 0 .2 0 .2 0 .2 0 .2 .2 .2 .2 .2-.2 .2-.2 .2 .2 .2 .2 .2-.2 .2-.3 .2 .1 .1 .3 .2 .2 .2 .1 .2 0 .2 0 .2 0 .2-.1 .2 0 .2 .1 .2 0 .2 .1 .2 .1 .2 0 .2 0 .2 0 .2 0 .2 0 .2 .1 .2 .1 .2 0 .2 .1 .2-.1 .2-.1 .2 .1 .2 0 .2 0 .1-.2 .2 .1 .2 .1 .2 0 .2 0 .2 0 .2 .2 .2 0 .2-.1 .2-.1 .2 0 .2-.1 .2 0 .2 .1 .2-.1 .2-.1 .2 0 .2 .1 .2 .1 .2 .3 .2 .1 .2 0 .2 0 .2-.2 .2-.2 .2-.1 .1-.2 .2 .2 .2 .2 .2 0 .2 0 .2 0 .2-.1 .2-.1 .2-.2 .2 0 .2 .3 .2 .1 .2-.2 .2-.2 .2 .2 .2 .1 .2 0 .2-.1 .2 .1 .2 0 .2 0 .2-.2 .2 .2 .2 .4 .2 .2 .2-.2 .1-.1 .2-.2 .2-.1 .2-.1 .2 0 .2 .1 .2 .1 .2 .1 .2 .1 .2-.1 .2-.1 .2 .1 .2 .1 .2 0 .2-.3 .2-.1 .2 0 .2 0 .2 .1 .2 .1 .2-.1 .2-.2 .2 .2 .2 .2 .2-.1 .2-.1 .1 0 .2 .1 .2-.1 .2-.1 .2-.1 .2 .1 .2 .1 .2 0 .2 0 .2 0 .2 0 .2 0 .2 0 .2 0 .2 0 .2 0 .2 0 .2 0 .2 .1 .2 0 .2 0 .2 0 .2 0 .2 0 .2-.1 .2 0 .1 .1 .2 .1 .2 0 .2 0 .2-.1 .2-.2 .2 0 .2 .1 .2 0 .2 .1 .2 .1 .2 0 .2-.1 .2-.1 .2 0 .2 .1 .2 .2 .2-.1 .2-.1 .2-.1 .2 0 .2 0 .2-.1 .2 0 .2 .2 .2 .1 .1-.1 .2-.1 .2-.2 .2-.1 .2 .2 .2 .3 .2 .1 .2 0 .2-.1 .2-.2 .2-.1 .2-.1 .2 0 .2 .2 .2 .1 .2 0 .2 0 .2-.1 .2-.1 .2 .3 .2 .3 .2-.1 .2-.2 .2 .1 .2 .2 .2 0 .1-.3 .2-.2 .2 .2 .2 .1 .2-.1 .2-.1 .2-.2 .2-.2 .2 .3 .2 .4 .2-.1 .2-.2 .2 0 .2 .2 .2 .1 .2-.1 .2-.1 .2-.1 .2-.1 .2 .1 .2 0 .2-.1 .2 0 .2 0 .2 .1 .2-.2 .1-.3 .2 0 .2 .2 .2 .2 .2 0 .2 .1 .2 .3 .2 .2 .2-.2 .2-.3 .2-.1 .2-.2 .2 .2 .2 .2 .2 0 .2-.1 .2 0 .2 .1 .2-.1 .2-.1 .2 0 .2 .2 .2 .1 .2-.1 .2 0 .2 0 .1 0 .2 0 .2 0 .2 0 .2-.1 .2 0 .2 0 .2 0 .2-.2 .2 0 .2 .1 .2 .1 .2 0 .2 0 .2 0 .2 .1 .2-.1 .2 0 .2 .1 .2 .2 .2 0 .2-.2 .2-.1 .2 0 .2-.1 .2-.2 .1-.1 .2 .2 .2 .3 .2 .4 .2 .4 .2 .4 .2 .3 .2 .4 .2 .5 .2 .4 .2 .4 .2 .4 .2 .4 .2 .5 .2 .6 .2 .5 .2 .3 .2 .3 .2 .2 .2-.6 .2-.5 .2-.5 .2-.5 .2-.5 .2-.6 .2-.7 .1-.5 .2-.4 .2-.4 .2-.7 .2-.6 .2-.7 .2-.8 .2-.5 .2-.6 .2-.7 .2-.7 .2-.7 .2-.7 .2-.5 .2-.4 .2-.4 .2-.5 .2-.5 .2-.5 .2-.4 .2-.5 .2-.4 .2-.5 .2-.3 .2-.2 .2-.1 .1-.3 .2-.4 .2-.1 .2 0 .2 .2 .2 .4 .2 .4 .2 .4 .2 .4 .2 .5 .2 .4 .2 .6 .2 .6 .2 .6 .2 .7 .2 .6 .2 .7 .2 .8 .2 .8 .2 .7 .2 .1 .2 .1 .2 .4 .2 .3 .2 .3 .2 .3 .1 .1 .2-.2 .2-.1 .2-.1 .2-.2 .2-.1 .2-.2 .2-.1 .2 0 .2 .3 .2 .2 .2-.5 .2-.3 .2-.2 .2-.1 .2 0 .2 0 .2-.1 .2 0 .2 .2 .2 .3 .2 .1 .2 0 .2 0 .2-.1 .2 0 .1 0 .2 0 .2 0 .2-.1 .2 0 .2 0 .2-.3 .2-.3 .2 .2 .2 .2 .2 .2 .2 0 .2 .1 .2 .1 .2 0 .2-.1 .2-.1 .2 .1 .2 .1 .2-.3 .2-.2 .2 .2 .2 .2 .2 0 .2 0 .2 .1 .1 .2 .2 0 .2-.2 .2-.2 .2 0 .2 0 .2 .1 .2 0 .2-.1 .2 0 .2 0 .2 .1 .2 0 .2 0 .2 0 .2 .1 .2 0 .2-.1 .2-.1 .2 0 .2-.1 .2 .1 .2 .1 .2-.1 .2-.2 .2-.2 .1-.2 .2 .4 .2 .6 .2 .2 .2-.2 .2-.2 .2-.3 .2-.2 .2 .1 .2 0 .2 0 .2 .1 .2-.1 .2 0 .2 .1 .2 .1 .2-.2 .2-.2 .2 0 .2 .2 .2 0 .2 0 .2 .1 .2 0 .2 0 .2-.1 .1 0 .2-.2 .2-.2 .2 .1 .2 .2 .2 .1 .2 0 .2 .1 .2 .1 .2 0 .2 0 .2 0 .2 0 .2 0 .2 0 .2-.1 .2 .1 .2 0 .2-.1 .2-.2 .2 0 .2 .1 .2 0 .2 0 .2 0 .2 .1 .1 0 .2 0 .2 0 .2 .1 .2 .1 .2-.1 .2 0 .2-.1 .2-.1 .2 0 .2 0 .2 .1 .2 .1 .2 0 .2-.2 .2-.1 .2-.1 .2 0 .2 .1 .2 .1 .2 0 .2 0 .2-.1 .2 0 .2 0 .2 0 .1 .1 .2 0 .2 0 .2-.1 .2 0 .2 0 .2 .1 .2 0 .2-.1 .2 .1 .2 0 .2 .1 .2 .1 .2-.1 .2 0 .2-.1 .2-.2 .2 0 .2 0 .2 0 .2 .2 .2 .2 .2-.2 .2-.2 .2 0 .2 .1 .1 0 .2-.1 .2 .1 .2 0 .2 0 .2-.1 .2 0 .2 .2 .2 .1 .2 0 .2 0 .2 0 .2-.1 .2 0 .2-.1 .2 0 .2 .1 .2 0 .2 .1 .2-.1 .2-.3 .2-.1 .2 .1 .2 .1 .2 .2 .2 .1 .1 0 .2-.1 .2-.1 .2-.1 .2-.1 .2 0 .2-.1 .2-.1 .2 0 .2 .2 .2 .1 .2 0 .2 0 .2-.1 .2-.1 .2-.1 .2 0 .2 .2 .2 .1 .2-.1 .2-.1 .2 0 .2 .1 .2 0 .2 0 .2 0 .1 .1 .2 .1 .2-.1 .2-.1 .2-.1 .2-.1 .2 .2 .2 .1 .2-.2 .2-.1 .2 0 .2 .1 .2 .1 .2 0 .1 0 0 0 .1 0 .1 0 .1 0 0 0 .1 0 .1 0 0 0 .1 0 .1 0 0 0 .1-.1 .1 .1 .1 .1 0 0 .1 .1 .1 .1 0 .1 .1 0 .1-.1 0 0 .1-.1 .1-.1 .1-.1 0 0 .1-.1 .1 0 0 0 .1 0 .1-.1 0 0 .1 0 .1 0 .1 .1 0 0 .1 0 .1 0 0 0 .1 0 .1 0 0 0 .1 0 .1 0 .1 0 0-.1 .1 0 .1-.1 0 0 .1-.1 .1 0 0 0 .1 0 .1-.1 .1 0 0 0 .1 .1 .1 0 0 0 .1 .1 .1 0 0 0 .1 .1 .1 0 .1 0 0 .1 .1 0 .1 0 0 0 .1 0 .1 0 0 0 .1 0 .1 0 .1 0 0 .1 .1 0 .1 0 0 .1 .1 0 .1 0 0-.1 .1 0 .1 0 .1 0 0 0 .1 0 .1 0 0 0 .1 0 .1 0 0 0 .1 0 .1 0 .1-.1 0 0 .1 0 .1-.1 0-.1 .1-.1 .1-.1 0-.1 .1-.2 .1 0 .1 .3 0 .3 .1 .3 .1 .4 0 .4 .1 0 .1-.6 0-.5 .1-.6 .1-.6 .1-.5 0-.4 .1 0 .1 0 0 0 .1 0 .1 0 0-.6 .1-1.4 .1-1.1 .1-.5 0-.6 .1-.5 .1 .1 0 1 .1 1.1 .1 1 0 1.1 .1 1 .1 1 .1 .8 0 .2 .1-.8 .1-.8 0-.7 .1-1.2 .1-1.8 0-1.7 .1-1.8 .1-1.7 .1-1.7 0-.6 .1 1.1 .1 1.2 0 1.1 .1 1.2 .1 1.1 0 1.2 .1 1.1 .1 1.1 .1 1.2 0 .5 .1-.5 .1-.5 0-.4 .1-.4 .1-.5 0-.4 .1-.4 .1-.6 .1-.8 0-.1 .1 .8 .1 .8 0 .7 .1 1.1 .1 1.4 0 1.4 .1 1.5 .1 1.4 .1 1.4 0 1.1 .1 .5 .1 .1 0-.8 .1-.8 .1-.8 .1-.4 0 .2 .1 .1 .1 .2 0 .2 .1 .1 .1-.2 0-.7 .1-.3 .1 .3 .1 .3 0 .2 .1 .6 .1 1 0 1.1 .1 1 .1 1.1 0 1 .1 .7 .1 0 .1-.2 0-.5 .1-.4 .1-.5 0-.2 .1 .2 .1 .2 0 .1 .1 .2 .1 .2 .1 .1 0 .1 .1 .1 .1 .1 0 .2 .1 .2 .1 .2 0 .3 .1 .2 .1 .3 .1 .3 0 .2 .1 .3 .1 .3 0 .3 .1 .4 .1 .3 0 .3 .1 .1 .1-.1 .1-.1 0-.2 .1-.1 .1-.1 0-.1 .1 .1 .1 .1 0 .1 .1 .1 .1 .1 .1-.1 0-.2 .1-.3 .1-.3 0-.3 .1-.4 .1-.2 0 0 .1 0 .1 0 .1-.1 0 0 .1-.1 .1-.3 0-.4 .1-.3 .1-.3 0-.3 .1-.3 .1-.3 .1-.2 0-.3 .1-.2 .1-.3 0-.3 .1-.3 .1-.3 0-.4 .1 1.1 .1 0 .1 0 0 0 .1 0 .1 0 0 0 .1 0 .1 0 0 0 .1 0 .1 0 .1 0 0 0 .1 0 .1 0 0 0 .1 0 .1 0 0 0 .1-.1 .1-.5 .1-.5 0-.4 .1-.5 .1-.4 0-.5 .1-.4 .1-.4 0-.2 .1-.1 .1-.2 .1-.2 0-.2 .1-.2 .1-.2 0-.2 .1-.2 .1-.1 0-.2 .1-.2 .1-.2 .1-.2 0-.2 .1-.1 .1 0 0 .1 .1 0 .1 .1 0 0 .1 0 .1 .1 .1 0 0 .1 .1 0 .1 0 0 .1 .1 0 .1 0 0 .1 .1-.1 .1 0 .1 0 0 0 .1 .1 .1 0 0 0 .1 0 .1 .1 0 0 .1 0 .1 0 .1 .1 0 0 .1 0 .1 0 0 0 .1 0 .1 0 0 .1 .1 0 .1 0 .1 0 0 0 .1 0 .1 0 0 0 .1 0 .1 0 .1-.1 0 0 .1 0 .1 0 0 0 .1 .1 .1 0 0 0 .1 0 .1 0 .1 0 0 0 .2 0 .2 .1 .2 .1 .2 .1 .2-.1 .2 .1 .2 .1 .2 .1 .2 0 .2-.1 .2 .1 .2 .1 .2-.3 .2-.2 .2 .3 .2 .3 .2 0 .2-.1 .1-.1 .2 0 .2 0 .2-.1 .2 0 .2 .1 .2 .1 .2 .1 .2 .1 .2 0 .2 0 .2-.1 .2 0 .2 0 .2 0 .2-.1 .2-.2 .2-.1 .2 .2 .2 .1 .2 0 .2 0 .2 .2 .2 .1 .2-.2 .2-.2 .1 .1 .2 .2 .2-.1 .2-.1 .2-.1 .2 .1 .2 .1 .2 0 .2 0 .2 0 .2 0 .2-.1 .2 0 .2 .1 .2 .1 .2-.1 .2-.1 .2 0 .2 .1 .2-.1 .2-.2 .2 0 .2 .2 .2 .1 .2 .1 .2 .1 .1-.3 .2-.2 .2 .2 .2 .3 .2 .1 .2 .1 .2-.1 .2-.2 .2-.1 .2 0 .2 .1 .2 .1 .2 0 .2-.1 .2-.1 .2 .1 .2 .2 .2 0 .2 0 .2-.2 .2-.2 .2 0 .2 .1 .2 0 .2 0 .2 0 .1 0 .2 .1 .2 .1 .2 .1 .2-.5 .2-.4 .2 .2 .2 .1 .2 .2 .2 .1 .2 0 .2 0 .2 0 .2 0 .2 0 .2 .1 .2 0 .2-.2 .2-.1 .2 .3 .2 .3 .2-.3 .2-.2 .2 0 .2 0 .2 .2 .1 .2 .2 0 .2-.2 .2-.2 .2 0 .2-.1 .2 0 .2-.1 .2 0 .2 0 .2 .1 .2 .2 .2 0 .2 .1 .2-.1 .2-.1 .2 .1 .2 .1 .2-.1 .2-.2 .2-.1 .2 .2 .2 .2 .2-.1 .2 0 .2 0 .1 .1 .2 0 .2 0 .2-.1 .2-.2 .2 0 .2 0 .2 0 .2-.1 .2-.1 .2 .1 .2 0 .2 .2 .2 .2 .2-.2 .2-.2 .2-.1 .2 0 .2 0 .2 .1 .2 0 .2 0 .2 .1 .2 0 .2 0 .2 0 .1 0 .2-.1 .2 0 .2 .1 .2 .1 .2-.1 .2-.1 .2-.2 .2-.3 .2 .1 .2 .5 .2 .2 .2-.2 .2-.1 .2 0 .2 0 .2-.2 .2-.2 .2 .4 .2 .3 .2 0 .2-.2 .2 0 .2 .1 .2 0 .2 0 .1 0 .2-.1 .2 0 .2 0 .2 0 .2 0 .2 0 .2-.3 .2-.2 .2 .2 .2 .4 .2-.1 .2-.1 .2-.1 .2 0 .2 0 .2 .1 .2 0 .2 .1 .2 0 .2 0 .2-.1 .2 0 .2-.1 .2 .1 .2 .2 .1 0 .2-.1 .2-.1 .2-.1 .2 .1 .2 .2 .2 .1 .2-.3 .2-.2 .2 .1 .2 .2 .2 0 .2 .1 .2 .1 .2 .1 .2-.1 .2-.2 .2-.1 .2-.1 .2-.1 .2 .1 .2 0 .2 0 .2 0 .2 .4 .2 .3 .1-.2 .2-.2 .1 0 .1 0 .1 0 0 0 .1 0 .1 0 0 0 .1-.1 .1 0 0-.1 .1 0 .1 0 .1 0 0 .1 .1 .1 .1 .1 0 .1 .1 .1 .1-.1 0 0 .1-.1 .1-.1 .1-.1 0-.1 .1-.1 .1 .1 0 0 .1 0 .1-.2 0-.2 .1-.2 .1-.2 .1-.2 0-.1 .1-.2 .1-.2 0 .1 .1 .1 .1 .1 0 .2 .1 .1 .1 .2 .1 .2 0 .4 .1 .4 .1 .3 0 .4 .1 .4 .1-.1 0-.3 .1-.3 .1-.3 .1-.3 0-.3 .1-.2 .1-.2 0-.2 .1-.3 .1-.2 0-.2 .1 0 .1 .2 .1 .2 0 .2 .1 .2 .1 .2 0 .1 .1 .2 .1 .2 0 .2 .1 .2 .1 .1 .1 .1 0 0 .1 0 .1-.1 0 0 .1 0 .1 0 .1 0 0-.1 .1 0 .1 0 0 0 .1 0 .1 0 0-.1 .1 0 .1 0 .1 0 0 0 .1 0 .1 0 0-.1 .1 0 .1 0 0 0 .1 0 .1 0 .1 0 0 0 .1 0 .1-.1 0 0 .1-.1 .1-.1 0 0 .1-.1 .1 0 .1 0 0 0 .1 0 .1 0 0 .1 .1-.1 .1 0 0 0 .1-.1 .1 0 .1 0 0-.1 .1 0 .1 0 0 0 .1 0 .1 0 0 0 .1 0 .1 .1 .1 0 0 0 .1 .1 .1 0 0 0 .1 0 .1 0 0 0 .1 0 .1 0 .1 .1 0 0 .1 0 .1 0 0 0 .1 0 .1 0 0 0 .1-.1 .1 0 .1 0 0 0 .1 0 .1 0 0 0 .1-.1 .1 0 0 0 .1 .1 .1 0 .1 .1 0 0 .1 .1 .1 0 0 0 .1-.1 .1 0 0 0 .1 0 .1 0 .1 0 0 0 .1 0 .1 0 0 0 .1 0 .1 .1 0 0 .1 .1 .1 0 .1 .1 0-.1 .1 0 .1-.1 0 0 .1-.1 .1 0 0 0 .1 0 .1 0 .1 .1 0 0 .1 0 .1 .1 0 0 .1 0 .1 0 0 0 .1 0 .1 0 .1 0 0 0 .1 0 .1 0 0 0 .1-.1 .1-.2 0-.2 .1-.1 .1-.2 .1-.1 0 0 .1 .1 .1 .2 0 .1 .1 .1 .1 .2 0 0 .1 0 .1-.1 .1 0 0 0 .1 0 .1 0 0 0 .1 0 .1 0 0 .1 .1 0 .1-.1 .2-.3 .2-.2 .2 .3 .2 .4 .2 0 .2-.1 .2 0 .2 .1 .2-.1 .2 0 .1-.1 .2 0 .2 0 .2 .1 .2 0 .2 .1 .2 0 .2-.2 .2-.1 .2 .1 .2 .1 .2-.2 .2-.3 .2 0 .2 .1 .2 .1 .2 .1 .2 .1 .2 0 .2 0 .2 .2 .2 .1 .2-.1 .2-.2 .2 0 .2 0 .1-.2 .2-.2 .2 .1 .2 .2 .2 .1 .2 0 .2-.1 .2-.2 .2-.1 .2 .1 .2 .2 .2 .1 .2 .1 .2-.1 .2 0 .2 0 .2 0 .2 0 .2-.1 .2 0 .2 .1 .2 0 .2 .2 .2 .1 .2-.1 .2-.2 .1 .1 .2 .1 .2-.1 .2-.1 .2 0 .2-.1 .2 .1 .2 .1 .2 0 .2-.2 .2-.1 .2 .1 .2 .1 .2 0 .2 0 .2-.1 .2 0 .2 0 .2 0 .2 0 .2 .1 .2 0 .2 0 .2 0 .2 0 .2 0 .1 0 .2 .1 .2 0 .2 .1 .2-.1 .2-.1 .2 0 .2 0 .2 0 .2 0 .2 0 .2 0 .2 0 .2 0 .2 .1 .2 .1 .2 .1 .2 0 .2 .1 .2-.3 .2-.2 .2 .3 .2 .3 .2-.2 .2-.2 .2-.1 .1 .1 .2-.1 .2-.2 .2-.1 .2 .2 .2 .1 .2 0 .2 0 .2 0 .2 .1 .2-.1 .2 0 .2-.1 .2 0 .2 .1 .2 .1 .2 0 .2 0 .2 0 .2 0 .2 0 .2-.2 .2-.3 .2 .1 .2 .1 .2 .1 .1 .1 .2 0 .2 0 .2 0 .2 0 .2 0 .2 .1 .2 0 .2-.1 .2-.1 .2 0 .2 0 .2 0 .2 0 .2-.1 .2 0 .2 .1 .2 .2 .2 0 .2-.1 .2-.1 .2 0 .2-.1 .2 0 .2-.1 .2 .1 .1 .2 .2 0 .2 0 .2-.1 .2-.1 .2 0 .2 .1 .2 0 .2-.1 .2 0 .2 0 .2 0 .2 .1 .2 0 .2 .1 .2 .1 .2-.1 .2-.1 .2 0 .2 0 .2-.1 .2-.1 .2 0 .2 .1 .2 .2 .2 .2 .1 0 .2-.1 .2-.1 .2 0 .2 .1 .2-.1 .2 0 .2-.1 .2 0 .2 0 .2 .1 .2 0 .2 0 .2-.1 .2 0 .2-.1 .2 .1 .2 .1 .2-.1 .2 0 .2-.1 .2-.1 .2 .1 .2 .1 .2 0 .2 0 .1 .1 .2 .1 .2-.1 .2-.2 .2-.1 .2 .1 .2 .1 .2 0 .2 0 .2 .2 .2 .2 .2-.2 .2-.1 .2-.2 .2-.1 .2 0 .2 .1 .2 0 .2 0 .2 0 .2 .1 .2 0 .2-.1 .2-.1 .2-.1 .2 0 .1 .1 .2 .2 .2 .1 .2 .2 .2-.2 .2-.3 .2 0 .2 0 .2 .1 .2-.1 .2-.1 .2 .1 .2 .1 .2 .1 .2 0 .2 0 .2-.1 .2-.1 .2-.1 .2 .1 .2 .2 .2 0 .2 0 .2-.1 .2-.3 .2-.2 .1 .4 .2 .3 .2-.1 .2-.1 .2 .1 .2 0 .2 0 .2 0 .2-.1 .2-.1 .2 0 .2 .1 .2 .1 .2-.2 .2 0 .2 .1 .2 .1 .2-.1 .2-.1 .2 0 .2 .1 .2 0 .2 0 .2-.1 .2 0 .2 .1 .1 .1 .2 .1 .2-.2 .2-.1 .2 .1 .2 0 .2 .2 .2 .2 .2-.2 .2-.1 .2-.1 .2 0 .2 .1 .2 .2 .2 0 .2-.2 .2-.2 .2-.2 .2-.2 .2 .3 .2 .2 .2 0 .2 0 .2 .1 .2 .1 .2-.1 .1 0 .2 0 .2 .1 .2 0 .2 0 .2-.1 .2-.1 .2 0 .2 0 .2 .1 .2-.2 .2-.1 .2-.2 .2-.1 .2 .2 .2 .3 .2 .1 .2 0 .2 0 .2-.2 .2-.1 .2 0 .2 0 .2 0 .2 .1 .2 .1 .1 .2 .2 0 .2-.1 .2 0 .2 0 .2 0 .2-.1 .2 0 .2 0 .2 0 .2 .1 .2 0 .2-.1 .2 0 .2 0 .2 0 .2 0 .2-.1 .2 0 .2-.1 .2 .1 .2 .2 .2 .1 .2-.1 .2-.1 .2-.1 .1 0 .2 .1 .2 0 .2 0 .2-.1 .2 0 .2 0 .2 .1 .2 .2 .2 0 .2-.1 .2 0 .2 0 .2 0 .2-.1 .2-.1 .2 0 .2 0 .2 0 .2 0 .2 0 .2-.1 .2 .1 .2 0 .2 .1 .2 .1 .1 0 .2-.1 .2-.1 .2 0 .2 .1 .2 .1 .2 .1 .2 0 .2 0 .2-.2 .2-.2 .2 0 .2 0 .2 0 .2 .2 .2 0 .2 .1 .2 0 .2-.1 .2-.1 .2 0 .2 0 .2 .1 .2 .1 .2 0 .2 0 .1-.4 .2-.4 .2 0 .2 .3 .2 .2 .2 .1 .2 0 .2 0 .2-.1 .2 0 .2 0 .2 .2 .2 .2 .2-.2 .2-.3 .2 0 .2 .1 .2 0 .2 .1 .2 0 .2 .1 .2 0 .2-.1 .2-.2 .2 0 .2-.1 .1 .2 .2 .2 .2-.1 .2-.1 .2-.1 .2-.1 .2 .1 .2 .2 .2 .2 .2 0 .2 0 .2-.1 .2-.1 .2 0 .2 0 .2 .2 .2 .1 .2-.1 .2-.2 .2 0 .2 .1 .2-.1 .2 0 .2-.1 .2 .1 .2 0 .1 0 .2 0 .2 0 .2 0 .2 0 .2-.1 .2 .2 .2 .1 .2-.1 .2-.1 .2 0 .2 .1 .2 .1 .2-.1 .2 0 .2-.1 .2-.1 .2 .1 .2 .1 .2-.1 .2 0 .2 0 .2 0 .2 0 .2-.1 .2 0 .1 .1 .2 0 .2 0 .2 .1 .2 .1 .2 .1 .2 0 .2 0 .2-.2 .2-.2 .2 0 .2 0 .2 0 .2 0 .2 .1 .2 0 .2 .1 .2 0 .2 0 .2-.1 .2-.1 .2 0 .2-.1 .2 .2 .2 .1 .2 0 .1 0 .2-.1 .2-.1 .2 0 .2 0 .2 .1 .2 0 .2 .1 .2-.1 .2 0 .2 0 .2 0 .2 .1 .2 .1 .2 0 .2 .1 .2-.2 .2-.3 .2 0 .2 0 .2 0 .2 0 .2 0 .2 0 .2 0 .2 .1 .2 0 .1-.1 .2-.1 .2 .1 .2 .2 .2 0 .2-.1 .2 0 .2 0 .2 0 .2 0 .2 0 .2-.1 .2 0 .2 0 .2 .1 .2 0 .2-.1 .2 .1 .2 .1 .2 0 .2-.2 .2 0 .2 .1 .2 .2 .2 .2 .2 .1 .1-.1 .2-.1 .2-.2 .2-.1 .2 0 .2 0 .2 0 .2 .1 .2 0 .2-.1 .2-.1 .2 0 .2 0 .2-.1 .2 0 .2 .1 .2 0 .2-.1 .2-.2 .2-.2 .2-.3 .2-.2 .2-.1 .2 0 .2 .5 .2 .4 .1 .2 .2 .4 .2 0 .2 0 .2 0 .2-.1 .2-.2 .2-.1 .2 0 .2 0 .2-.2 .2-.1 .2 .1 .2 .1 .2 .1 .2 0 .2 0 .2 0 .2 0 .2 .1 .2 0 .2-.1 .2 0 .2 0 .2 .1 .2 0 .1 0 .2 .1 .2 .1 .2-.1 .2-.2 .2-.1 .2 0 .1 0 .1 0 0 .1 .1 0 .1 0 0 .1 .1 0 .1 0 .1-.1 0-.1 .1-.1 .1 0 0-.1 .1-.1 .1 .1 0 .1 .1 0 .1 .1 .1 .1 0 .1 .1 0 .1-.1 0 0 .1 .1 .1 .5 0 .5 .1 .5 .1 .5 .1 .5 0 .3 .1-.6 .1-.6 0-.6 .1-.6 .1-.6 0-.5 .1 .1 .1 .1 .1 .1 0 .1 .1 .1 .1 .1 0 0 .1 0 .1 0 0 0 .1 0 .1 0 .1 0 0 0 .1 0 .1 0 0 0 .1 0 .1 0 0 0 .1 0 .1 .1 .1 .1 0 0 .1 .1 .1 0 0 0 .1-.1 .1 0 0-.1 .1 0 .1 0 .1 0 0 0 .1 0 .1 0 .2 0 .2-.2 .2-.1 .2 .1 .1 .1 .2 0 .2 0 .2 0 .2 .1 .2-.1 .2 0 .2-.1 .2-.1 .2 0 .2-.1 .2 0 .2-.1 .2 0 .2 0 .2 0 .2-.2 .2 .1 .2-.2 .2-.2 .2-.1 .2-.1 .2-.1 .2-.2 .2-.2 .2-.2 .1-.2 .2-.1 .2 0 .2-.1 .2-.1 .2 0 .2 0 .2 0 .2 0 .2 0 .2 0 .2-.2 .2-.1 .2-.1 .2 .1 .2 0 .2 .1 .2 0 .2-.2 .2-.3 .2 .1 .2 0 .2-.1 .2-.2 .2 .1" stroke="#00ff00" stroke-width="1.05"/>
<path d="M46.4 352.2l.2 0 .2 0 .2 0 .2 0 .2 0 .2 0 .2 0 .2 0 .2 0 .2 0 .2 0 .2 0 .2 0 .1 0 .2 0 .2 0 .2 0 .2 0 .2 0 .2 0 .2 0 .2 0 .2 0 .2 0 .2 0 .2 0 .2 0 .2 0 .2 0 .2 0 .2 0 .2 0 .2 0 .2 0 .2 0 .2 0 .2 0 .2 0 .2 0 .1 0 .2 0 .2 0 .2 0 .2 0 .2 0 .2 0 .2 0 .2 0 .1 0 .1 0 0 0 .1 0 .1 0 0-6.4 .1-16.1 .1-3.8 0-.8 .1-.8 .1-.8 .1-.8 0-.8 .1-.7 .1-.8 0-.3 .1 .4 .1 .4 0 .4 .1 .4 .1 .5 .1 .4 0 .4 .1 .4 .1 .5 0 0 .1-.6 .1-.6 0-.6 .1-.6 .1-.6 .1-.6 0-.7 .1-.1 .1 .5 0 .5 .1 .5 .1 .5 0 .5 .1 .5 .1 .5 .1 .5 0 .5 .1 .5 .1 .5 0 .1 .1-.4 .1-.5 0-.4 .1-.5 .1-.4 .1-.5 0-.4 .1-.5 .1-.4 0-.5 .1-.4 .1-.2 0 .3 .1 .3 .1 .3 .1 .3 0 .3 .1 .3 .1 .3 0 .3 .1 .3 .1 .3 0 .3 .1 .1 .1-.2 .1-.1 0-.2 .1-.2 .1-.2 0-.2 .1-.2 .1-.2 .1-.2 0-.2 .1-.1 .1-.2 0-.2 .1-.2 .1-.2 0 0 .1 .1 .1 .2 .1 .1 0 .2 .1 .1 .1 .2 0 .1 .1 .2 .1 .1 0 .2 .1 .1 .1 .2 .1 .1 0 .2 .1 .1 .1-.1 0-.6 .1-.6 .1-.6 0-.6 .1-.7 .1-.6 .1-.6 0-.9 .1-1.6 .1-1.6 0-1.5 .1-1.6 .1-1.5 0-1.6 .1-1.5 .1-.5 .1 1.1 0 1.1 .1 1.1 .1 1.1 0 1.1 .1 1.1 .1 1.1 0 .3 .1-1.1 .1-1 .1-1 0-1 .1-1 .1-.1 0 1.3 .1 1.3 .1 1.3 0 1.3 .1 1.2 .1 1.3 .1 1.3 0 .5 .1-.7 .1-.6 0-.7 .1-.7 .1-.7 0-.7 .1-.6 .1 0 .1 1 0 1 .1 1 .1 1.1 0 1 .1 1 .1 1 0 1.1 .1 1 .1 .5 .1-.2 0-.3 .1-.2 .1-.3 0-.2 .1-.3 .1-.3 0-.2 .1-.3 .1-.2 .1-.3 0 0 .1 .2 .1 .2 0 .2 .1 .2 .1 .2 0 .2 .1 .2 .1 .2 .1 .2 0 .3 .1 .2 .1 .2 0 .2 .1 .2 .1 .2 0 0 .1-.3 .1-.3 .1-.3 0-.3 .1-.3 .1-.3 0-.3 .1-.3 .1-.3 0-.3 .1-.3 .1-.3 .1-.3 0-.3 .1-.3 .1-.1 0 .2 .1 .2 .1 .2 0 .2 .1 .2 .1 .2 .1 .2 0 .2 .1 .2 .1 .2 0 .2 .1 .3 .1 .2 0 .2 .1 .2 .1 0 .1-.2 0-.1 .1-.2 .1-.2 0-.2 .1-.2 .1-.2 0-.2 .1-.2 .1-.2 .1-.1 0-.2 .1-.2 .1-.2 0-.2 .1-.1 .1 .1 0 0 .1 .1 .1 .1 .1 0 0 .1 .1 0 .1 .1 0 .1 .1 0 .1 .1 0 0 .1 .1 .1 .1 .1 0 0 .1 .1 0 .1 .1 0 .1 .1 0 .1 0 .1-.1 0 0 .1 0 .1-.1 0 0 .1 0 .1-.1 0 0 .1 0 .1-.1 .1 0 0 0 .1 0 .1-.1 0 0 .1 0 .1-.1 0 0 .1 .3 .1-.1 .1-.1 0-.1 .1-.1 .1-.1 0 0 .1 0 .1 0 0 0 .1-.1 .1 0 .1 0 .1 .2 .2 .2 .2-.1 .2-.1 .2 0 .2 .1 .2 .1 .2 0 .2 0 .2-.1 .2 0 .2 .2 .2 .1 .2-.2 .2-.2 .2 0 .2 0 .2-.1 .2 0 .2 0 .2 0 .2-.1 .2-.1 .2 .1 .2 .2 .2 .1 .1 0 .2 0 .2 0 .2 0 .2-.1 .2 0 .2-.1 .2-.1 .2 .1 .2 .1 .2 0 .2 0 .2 0 .2 0 .2 .1 .2 .1 .2 0 .2-.1 .2-.1 .2-.1 .2-.1 .2 .1 .2 0 .2-.1 .2-.1 .2 .1 .1 .2 .2 0 .2 0 .2-.1 .2-.1 .2 0 .2 .2 .2 .2 .2-.2 .2-.2 .2 0 .2 0 .2 .1 .2 .1 .2 .1 .2 .1 .2 0 .2-.1 .2 0 .2-.1 .2-.1 .2-.2 .2-.1 .2 .3 .2 .3 .2-.2 .1-.1 .2 .1 .2 .1 .2-.1 .2-.1 .2 .1 .2 .1 .2 0 .2 .1 .2 0 .2 0 .2 0 .2 0 .2-.1 .2-.3 .2-.3 .2 .2 .2 .1 .2 .1 .2 0 .2 .1 .2 .2 .2 .1 .2-.2 .2-.1 .2-.1 .1-.1 .2 .1 .2 .1 .2-.1 .2 0 .2 0 .2 0 .2 .1 .2 0 .2-.1 .2-.2 .2 0 .2 .1 .2 0 .2-.1 .2 0 .2 .1 .2 .2 .2 0 .2 0 .2 0 .2 0 .2 0 .2 0 .2 0 .2 0 .1 .1 .2 0 .2 .1 .2 0 .2 0 .2-.1 .2-.1 .2 .2 .2 .1 .2 0 .2-.1 .2 .1 .2 .1 .2-.2 .2-.5 .2-.2 .2 .1 .2 .1 .2 .1 .2 .1 .2 .1 .2 .2 .2-.1 .2 0 .2-.1 .2 0 .1-.1 .2-.1 .2 0 .2 .1 .2 0 .2 0 .2 .1 .2 0 .2 0 .2 0 .2 0 .2 0 .2-.1 .2 0 .2 0 .2 .1 .2 .1 .2 .1 .2 .2 .2 0 .2-.3 .2-.2 .2-.1 .2-.1 .2 0 .2 .1 .1 0 .2 0 .2 .1 .2 .2 .2 0 .2-.2 .2 0 .2 0 .2 0 .2 0 .2 .1 .2 0 .2 0 .2 .1 .2 0 .2 0 .2 0 .2-.1 .2-.1 .2 0 .2 0 .2-.1 .2-.2 .2 0 .2 .2 .2 0 .1-.4 .2-.2 .2 .3 .2 .3 .2 0 .2 .1 .2 .1 .2 .2 .2 0 .2 0 .2-.1 .2 0 .2-.1 .2-.2 .2-.2 .2-.1 .2-.1 .2 .1 .2 .2 .2 .1 .2 .1 .2 0 .2 0 .2-.1 .2-.2 .2 0 .1 .2 .2 .1 .2 0 .2 0 .2 0 .2 0 .2 0 .2-.1 .2 0 .2 .1 .2-.1 .2-.5 .2-.5 .2-.5 .2-.6 .2-.6 .2-.6 .2-.6 .2-.4 .2-.4 .2-.5 .2-.3 .2-.2 .2-.7 .2-.6 .2-.3 .1 .6 .2 .5 .2 .4 .2 .6 .2 .7 .2 .6 .2 .8 .2 .9 .2 .8 .2 .8 .2 1 .2 1 .2 .9 .2 1 .2 .8 .2 .5 .2 .4 .2 .4 .2 .5 .2 .5 .2 .5 .2 .5 .2 .5 .2 .5 .2 .6 .2 .5 .1 .4 .2 0 .2-.1 .2 .2 .2 .3 .2 .3 .2 .3 .2 0 .2-.3 .2-.3 .2-.3 .2-.3 .2-.2 .2-.2 .2-.2 .2-.3 .2-.6 .2-.6 .2-.6 .2-.6 .2-.6 .2-.6 .2-.6 .2-.6 .2-.6 .2-.4 .2-.3 .1-.2 .2-.2 .2-.3 .2-.2 .2-.1 .2-.2 .2 0 .2-.1 .2 0 .2 .1 .2 .2 .2 .4 .2 .2 .2-.1 .2-.1 .2-.1 .2 0 .2 .1 .2 0 .2-.1 .2 0 .2 .2 .2 .3 .2 0 .2 0 .2-.1 .1 0 .2 0 .2 .1 .2 .1 .2-.1 .2 0 .2 0 .2 0 .2 0 .2 .1 .2 .1 .2 .1 .2 .1 .2 0 .2 0 .2 0 .2-.1 .2 0 .2 .1 .2 .2 .2 .1 .2-.1 .2-.2 .2 0 .2 0 .2 0 .1-.1 .2 .1 .2 .2 .2 .1 .2-.1 .2 0 .2 .1 .2 0 .2 0 .2 0 .2-.1 .2-.1 .2 0 .2 0 .2-.1 .2-.2 .2 .2 .2 .2 .2 .2 .2 0 .2 .1 .2-.1 .2-.1 .2 0 .2-.1 .2-.1 .1-.2 .2 .1 .2 .2 .2 0 .2-.1 .2 .1 .2 0 .2-.1 .2-.3 .2 0 .2 .3 .2 .1 .2-.3 .2-.3 .2 .2 .2 .2 .2 .1 .2 0 .2 .1 .2 0 .2 0 .2-.2 .2 .1 .2 .4 .2 .1 .2-.1 .1-.2 .2-.1 .2-.2 .2 0 .2 0 .2 .1 .2 .1 .2 0 .2 0 .2 0 .2 0 .2 0 .2 .1 .2-.1 .2-.2 .2-.1 .2 0 .2 0 .2 .1 .2 .1 .2-.1 .2-.1 .2 .1 .2 .1 .2 .1 .2 0 .1-.1 .2-.1 .2 0 .2-.1 .2 0 .2 .1 .2 .2 .2-.1 .2 0 .2 0 .2 .1 .2-.1 .2-.1 .2 0 .2 0 .2 0 .2 .1 .2 .1 .2 .1 .2 0 .2 0 .2 0 .2-.1 .2 0 .2 0 .2 0 .1 0 .2 0 .2 0 .2 0 .2-.1 .2-.1 .2 .1 .2 .2 .2 .2 .2 0 .2-.1 .2-.2 .2-.3 .2 0 .2 .1 .2 .1 .2 .2 .2-.1 .2-.2 .2 0 .2 .1 .2 0 .2-.1 .2 0 .2 .1 .2 .1 .1-.1 .2-.1 .2 0 .2-.1 .2 0 .2 .1 .2 .1 .2 .1 .2 0 .2 0 .2-.1 .2-.2 .2 0 .2 .1 .2 .2 .2 .1 .2 .2 .2-.3 .2-.2 .2 .3 .2 .5 .2-.1 .2-.3 .2-.2 .2 0 .2 0 .1 0 .2 0 .2 .2 .2 .2 .2-.2 .2-.1 .2-.3 .2-.3 .2 .5 .2 .5 .2 0 .2-.3 .2-.1 .2 0 .2 0 .2 0 .2 0 .2-.1 .2-.1 .2 .1 .2 .1 .2-.3 .2-.2 .2 .2 .2 .2 .2-.1 .1-.1 .2 0 .2 0 .2 0 .2-.1 .2 0 .2 .4 .2 .4 .2-.3 .2-.2 .2-.2 .2-.1 .2 .1 .2 .2 .2 0 .2 .1 .2-.1 .2-.1 .2-.1 .2 0 .2 .1 .2 .2 .2 .1 .2-.1 .2 0 .2 .1 .1 .2 .2-.1 .2-.1 .2-.1 .2-.1 .2 0 .2 .1 .2-.1 .2-.4 .2-.1 .2 .2 .2 .2 .2 0 .2 0 .2 0 .2-.1 .2 .1 .2 .1 .2 .1 .2 .2 .2 0 .2-.2 .2-.1 .2 0 .2 0 .2-.2 .1-.2 .2 .4 .2 .3 .2 .3 .2 .3 .2 .3 .2 .3 .2 .4 .2 .5 .2 .4 .2 .3 .2 .4 .2 .5 .2 .5 .2 .3 .2 .4 .2 .6 .2 .6 .2 .2 .2-.6 .2-.5 .2-.6 .2-.4 .2-.5 .2-.6 .2-.7 .1-.6 .2-.5 .2-.5 .2-.6 .2-.6 .2-.7 .2-.8 .2-.6 .2-.5 .2-.6 .2-.7 .2-.7 .2-.7 .2-.4 .2-.5 .2-.4 .2-.5 .2-.5 .2-.5 .2-.5 .2-.3 .2-.3 .2-.6 .2-.3 .2-.3 .2-.2 .1-.2 .2-.3 .2-.2 .2-.1 .2 .1 .2 .5 .2 .4 .2 .5 .2 .4 .2 .6 .2 .5 .2 .5 .2 .5 .2 .6 .2 .6 .2 .6 .2 .6 .2 .8 .2 .9 .2 .7 .2 .2 .2 .2 .2 .3 .2 .3 .2 .3 .2 .2 .1 .1 .2-.2 .2 0 .2-.1 .2-.1 .2-.2 .2-.1 .2-.2 .2 0 .2 .2 .2 0 .2-.3 .2-.3 .2 0 .2 0 .2 .1 .2 0 .2-.1 .2-.2 .2 .1 .2 .2 .2 .1 .2 .1 .2 0 .2 0 .2-.1 .1 .1 .2 0 .2 0 .2-.1 .2-.1 .2 0 .2-.3 .2-.3 .2 .1 .2 .3 .2 .2 .2 0 .2 .1 .2 0 .2 0 .2-.3 .2-.2 .2 .2 .2 .1 .2 0 .2-.1 .2 .2 .2 .3 .2 0 .2-.1 .2 0 .1 .1 .2 0 .2-.1 .2-.2 .2-.1 .2 0 .2 0 .2 .1 .2 0 .2-.1 .2 0 .2 0 .2 0 .2 0 .2 .1 .2 .1 .2 0 .2 0 .2-.1 .2-.1 .2-.1 .2 .2 .2 .2 .2-.1 .2-.1 .2-.2 .1-.1 .2 .4 .2 .5 .2 .1 .2-.3 .2-.3 .2-.3 .2-.2 .2 .2 .2 .1 .2 0 .2 0 .2 0 .2 0 .2-.1 .2-.1 .2 0 .2 0 .2 0 .2 .1 .2 .1 .2 0 .2 0 .2 0 .2 0 .2-.1 .1-.1 .2 0 .2 0 .2 .1 .2 0 .2 0 .2 .1 .2 0 .2 .1 .2 0 .2 0 .2 0 .2 .1 .2 0 .2-.2 .2-.2 .2 .1 .2 0 .2 0 .2 0 .2 0 .2 .1 .2 0 .2-.1 .2 0 .2 .1 .1 0 .2-.2 .2-.1 .2 .2 .2 .3 .2 0 .2-.1 .2-.1 .2-.2 .2 .1 .2 .2 .2 .1 .2 0 .2-.1 .2-.2 .2-.1 .2 0 .2-.1 .2 0 .2 .1 .2 0 .2 0 .2 .1 .2 0 .2 .1 .2 .1 .1 0 .2-.1 .2 0 .2-.1 .2-.1 .2 .1 .2 .1 .2 0 .2 0 .2-.1 .2 0 .2 .2 .2 .2 .2-.1 .2-.2 .2-.1 .2-.1 .2-.1 .2 0 .2 .1 .2 .1 .2 .1 .2-.1 .2-.1 .2-.1 .2-.1 .1 .1 .2 .1 .2 0 .2-.1 .2 .1 .2 .1 .2 0 .2 .1 .2 0 .2 0 .2 0 .2-.2 .2-.2 .2 .1 .2 0 .2 0 .2-.1 .2 .1 .2 .1 .2 0 .2-.1 .2-.1 .2 0 .2 .1 .2 .1 .2 .1 .1 0 .2 0 .2-.3 .2-.3 .2 .2 .2 .2 .2 0 .2-.2 .2 0 .2 .1 .2 0 .2 .1 .2 0 .2 0 .2-.1 .2 0 .2 0 .2 0 .2 0 .2-.1 .2 0 .2 0 .2 .2 .2 0 .2 0 .2-.1 .1 0 .2 0 .2 0 .2 0 .2 0 .2 .1 .2 .1 .2 .2 .2-.3 .2-.4 .2 .1 .2 .2 .2 0 .2-.1 .1 0 0-.1 .1 .1 .1 0 .1 0 0 0 .1 0 .1 0 0 .1 .1 0 .1 .1 0 0 .1 0 .1 0 .1 0 0 0 .1 0 .1 0 0-.1 .1 0 .1 0 0 0 .1 0 .1 0 .1 0 0 0 .1 0 .1 0 0 0 .1 0 .1 0 0 0 .1-.1 .1 0 .1-.1 0 0 .1-.1 .1 0 0 0 .1 0 .1 0 0 .1 .1 0 .1 0 .1 0 0 0 .1 0 .1 0 0-.1 .1 0 .1-.1 0 0 .1-.1 .1-.1 .1-.1 0 0 .1 .1 .1 .1 0 .1 .1 0 .1 .1 0 .1 .1 0 .1 0 .1 0 0 0 .1 .1 .1 0 0 0 .1 0 .1 0 0 0 .1 0 .1 0 .1 0 0 .1 .1 0 .1 .1 0 .1 .1 0 .1-.1 0 0 .1-.1 .1 0 .1-.1 0 0 .1 0 .1 0 0-.1 .1 0 .1 0 0-.1 .1 0 .1-.1 .1 0 0 0 .1 0 .1 0 0 .2 .1 .3 .1 .2 0 .3 .1 .2 .1 .2 .1 .1 0 0 .1 0 .1 0 0 0 .1-.3 .1-.5 0-.5 .1-.5 .1-.5 .1-.5 0-.4 .1-.3 .1-.2 0-.3 .1-.2 .1-.3 0-.5 .1-1.1 .1-.7 .1-.1 0-.2 .1-.2 .1 .2 0 .8 .1 .8 .1 .8 0 .8 .1 .8 .1 .7 .1 .7 0 0 .1-1 .1-1 0-1 .1-1.2 .1-1.7 0-1.6 .1-1.7 .1-1.6 .1-1.7 0-.4 .1 1.3 .1 1.3 0 1.3 .1 1.3 .1 1.3 0 1.3 .1 1.1 .1 1.2 .1 1.2 0 .5 .1-.5 .1-.5 0-.7 .1-.6 .1-.7 0-.6 .1-.6 .1-.5 .1-.2 0 .3 .1 1.4 .1 1.3 0 1.3 .1 1.2 .1 1.1 0 1 .1 1.1 .1 1.1 .1 1 0 .9 .1 .7 .1 .1 0-.6 .1-.7 .1-.7 .1-.4 0-.2 .1-.1 .1-.1 0-.2 .1-.1 .1-.3 0-.5 .1-.1 .1 .4 .1 .4 0 .4 .1 .7 .1 1.1 0 1.1 .1 1.1 .1 1 0 1.1 .1 .7 .1 .1 .1 0 0-.3 .1-.4 .1-.3 0-.1 .1 .4 .1 .3 0 .3 .1 .4 .1 .3 .1 .2 0-.1 .1 0 .1-.1 0 0 .1 0 .1 .1 0 .2 .1 .2 .1 .2 .1 .2 0 .2 .1 .2 .1 .3 0 .3 .1 .3 .1 .3 0 .3 .1 .1 .1 0 .1-.1 0 0 .1-.1 .1 0 0 0 .1-.1 .1 0 0-.1 .1 0 .1 0 .1-.1 0-.2 .1-.2 .1-.2 0-.2 .1-.3 .1-.2 0-.1 .1-.2 .1-.1 .1-.1 0-.1 .1-.2 .1-.3 0-.3 .1-.4 .1-.3 0-.3 .1-.3 .1-.1 .1-.2 0-.2 .1-.1 .1-.2 0-.2 .1-.1 .1-.1 0-.1 .1-.2 .1-.1 .1-.4 0-.8 .1-.8 .1-.7 0-.7 .1-.7 .1-.4 0-.1 .1 0 .1-.1 .1-.1 0 0 .1-.1 .1 0 0-.1 .1 .1 .1 0 0 .1 .1-.1 .1-.1 .1-.1 0-.1 .1-.2 .1-.1 0-.1 .1-.2 .1-.2 0-.2 .1-.2 .1-.1 .1-.1 0 .1 .1 .1 .1 .1 0 0 .1 .1 .1 0 0 0 .1 0 .1 0 .1 0 0 0 .1 0 .1 .1 0 0 .1 .1 .1 .1 0 0 .1 0 .1 0 .1 0 0 0 .1-.1 .1 0 0 0 .1 .1 .1 .1 0 0 .1 .1 .1 0 .1 0 0 .1 .1 0 .1 0 0 .1 .1 0 .1 0 0 0 .1 0 .1 0 .1 0 0 0 .1 0 .1 0 0 0 .1 0 .1 0 0 0 .1 0 .1 0 .1 .1 0 0 .1 0 .1 0 0 0 .1 0 .1-.1 .1 0 0 0 .1-.1 .1 0 0 .1 .1 0 .1 .1 0 0 .1 .1 .1 0 .1 0 0 .1 .2 .1 .2 0 .2 .1 .2 0 .2 0 .2-.1 .2-.1 .2 0 .2 .1 .2 0 .2 .2 .2 .1 .2-.2 .2-.1 .2 .1 .2 .3 .2 0 .2 0 .1-.1 .2 0 .2 0 .2 0 .2 0 .2 0 .2-.1 .2 .2 .2 .2 .2-.1 .2 0 .2 0 .2 0 .2 0 .2 0 .2 0 .2 0 .2-.1 .2-.2 .2-.1 .2 .2 .2 .1 .2 .1 .2 .1 .2-.2 .2-.2 .1 .2 .2 .2 .2 0 .2-.1 .2-.1 .2 .1 .2 0 .2 0 .2-.1 .2 0 .2-.1 .2 .1 .2 0 .2 .2 .2 .2 .2-.2 .2-.4 .2 .1 .2 .3 .2-.1 .2-.2 .2-.2 .2 0 .2 .1 .2 .2 .2 .2 .1-.2 .2-.1 .2 .2 .2 .1 .2 .1 .2 .2 .2-.1 .2-.1 .2-.1 .2-.1 .2-.1 .2 .1 .2 0 .2-.1 .2 0 .2 .3 .2 .3 .2-.1 .2-.1 .2-.2 .2-.3 .2 0 .2 .2 .2 0 .2 0 .2-.1 .1-.1 .2 .1 .2 .3 .2 .2 .2-.6 .2-.6 .2 .3 .2 .2 .2 .1 .2 .1 .2 0 .2-.1 .2 0 .2 .1 .2 .1 .2 0 .2 0 .2-.2 .2-.1 .2 0 .2 0 .2 .2 .2 .1 .2 0 .2 0 .2 .1 .1 .2 .2 0 .2-.2 .2-.2 .2-.1 .2 0 .2 0 .2 0 .2-.1 .2 0 .2 .1 .2 .1 .2 .1 .2 0 .2 0 .2 0 .2 0 .2 .2 .2 0 .2-.3 .2-.1 .2 0 .2 .1 .2 0 .2 .1 .2 0 .1 .1 .2 .1 .2 .2 .2-.1 .2-.2 .2-.1 .2-.1 .2-.1 .2-.3 .2-.1 .2 .1 .2 .2 .2 .1 .2 .1 .2 0 .2-.1 .2 0 .2-.1 .2 .1 .2 0 .2-.1 .2-.1 .2 0 .2 .2 .2 .1 .2 0 .1-.1 .2 0 .2-.1 .2 .1 .2 0 .2 0 .2 0 .2-.3 .2-.4 .2 .1 .2 .2 .2 .3 .2 .1 .2 0 .2 0 .2-.1 .2-.2 .2-.2 .2 .4 .2 .3 .2 0 .2-.1 .2-.1 .2 0 .2 0 .2 .1 .1 .1 .2-.1 .2 0 .2 0 .2 0 .2-.1 .2-.1 .2 0 .2-.1 .2 .2 .2 .1 .2 0 .2-.1 .2 0 .2 0 .2-.1 .2-.3 .2-.1 .2 .3 .2 .2 .2 0 .2 0 .2-.1 .2-.1 .2 .1 .2 .1 .1 0 .2-.1 .2-.2 .2-.2 .2 0 .2 .3 .2 .2 .2-.1 .2 0 .2 .2 .2 .2 .2 0 .2 0 .2 0 .2 0 .2-.1 .2-.2 .2-.1 .2 0 .2-.1 .2-.1 .2 0 .2 .1 .2 .1 .2 .3 .2 .4 .1-.4 .2-.3 .1 0 .1 0 .1 0 0 .1 .1 0 .1 0 0 0 .1 0 .1 0 0 0 .1 0 .1 0 .1 0 0 0 .1 0 .1-.1 0 0 .1 0 .1 0 0 0 .1 0 .1 0 .1 0 0 0 .1 0 .1 0 0 0 .1 0 .1-.2 0-.2 .1-.2 .1-.2 .1-.2 0-.2 .1-.2 .1-.2 0 .1 .1 .1 .1 .2 0 .2 .1 .1 .1 .2 .1 .3 0 .3 .1 .4 .1 .3 0 .4 .1 .3 .1 0 0-.3 .1-.2 .1-.3 .1-.2 0-.3 .1-.2 .1-.3 0-.2 .1-.3 .1-.2 0-.3 .1 0 .1 .2 .1 .2 0 .2 .1 .2 .1 .1 0 .2 .1 .2 .1 .2 0 .2 .1 .2 .1 .1 .1 .1 0 0 .1 0 .1-.1 0 0 .1 0 .1 0 .1 0 0-.1 .1 0 .1 0 0-.1 .1 0 .1 0 0 .1 .1 0 .1 0 .1 0 0 0 .1-.1 .1 0 0-.1 .1 0 .1-.1 0 0 .1-.1 .1-.1 .1-.1 0-.1 .1-.1 .1 0 0 .1 .1 0 .1 .1 0 0 .1 .1 .1 0 .1 0 0 0 .1 0 .1 0 0 0 .1-.1 .1 0 0 0 .1 0 .1-.1 .1 0 0 0 .1 .1 .1 0 0 0 .1 0 .1 .1 0 0 .1-.1 .1 0 .1 0 0 0 .1 0 .1 0 0 0 .1 0 .1 0 0 0 .1 0 .1 0 .1 0 0 0 .1 0 .1 .1 0 0 .1 0 .1 0 0 0 .1-.1 .1 0 .1 0 0 0 .1 0 .1 .1 0 0 .1 0 .1 0 0 0 .1 0 .1 0 .1 0 0 0 .1 0 .1 0 0-.1 .1-.1 .1-.1 0-.1 .1-.1 .1 0 .1 .1 0 .1 .1 .1 .1 .1 0 .1 .1 .1 .1 0 0 .1 .1 0 .1 .1 .1 0 0 0 .1-.1 .1 0 0-.1 .1 0 .1-.1 0 0 .1 0 .1 .1 .1 0 0 .1 .1 0 .1 0 0-.2 .1-.1 .1-.1 0-.1 .1-.2 .1 .1 .1 .1 0 .1 .1 .1 .1 .1 0 .1 .1 0 .1-.2 0-.1 .1-.1 .1-.1 .1-.1 0 0 .1 .1 .1 .1 0 .1 .1 .1 .1 .1 0 0 .1 0 .1 0 .1 0 0 0 .1 0 .1 0 0 0 .1 0 .1 .1 0 0 .1 0 .1-.1 .2-.4 .2-.3 .2 .5 .2 .4 .2-.1 .2-.1 .2 .1 .2 .2 .2-.1 .2-.1 .1-.1 .2 0 .2 0 .2 0 .2-.1 .2 0 .2 0 .2 .1 .2 0 .2 0 .2-.1 .2-.1 .2-.2 .2 0 .2 .2 .2 .1 .2 0 .2 0 .2 .1 .2 0 .2 .2 .2 .1 .2-.2 .2-.2 .2-.1 .2-.1 .1-.1 .2-.1 .2 .1 .2 .2 .2 .1 .2-.1 .2-.2 .2-.1 .2 0 .2 .2 .2 .3 .2 0 .2 0 .2 .2 .2 .2 .2-.1 .2-.2 .2-.2 .2-.1 .2 0 .2 0 .2 .1 .2 .1 .2 0 .2-.1 .2 0 .1 .1 .2 .1 .2-.1 .2-.1 .2-.1 .2-.1 .2 .1 .2 .2 .2 0 .2-.2 .2 0 .2 0 .2 .1 .2-.1 .2 0 .2-.1 .2 0 .2 0 .2-.1 .2 .1 .2 .1 .2 .1 .2 0 .2 0 .2 .1 .2 0 .1-.1 .2 0 .2 .1 .2 .1 .2-.1 .2-.1 .2-.1 .2-.1 .2 .1 .2 .1 .2 .1 .2 0 .2 0 .2-.1 .2 .1 .2 .1 .2 .1 .2 0 .2 0 .2-.2 .2-.1 .2 .2 .2 .2 .2-.1 .2-.2 .2-.1 .1 .1 .2-.1 .2-.2 .2-.1 .2 .2 .2 .1 .2 0 .2 .1 .2-.1 .2 0 .2 0 .2 0 .2-.1 .2-.1 .2 .1 .2 .2 .2 0 .2-.1 .2-.1 .2 .1 .2 .1 .2-.1 .2 0 .2-.1 .2 0 .2 .1 .1 .1 .2-.1 .2 0 .2-.1 .2 0 .2 0 .2 0 .2 0 .2 .1 .2 .1 .2-.1 .2 0 .2-.1 .2 0 .2 0 .2 0 .2 0 .2 .1 .2 0 .2 0 .2-.1 .2 0 .2-.1 .2-.1 .2 0 .2 .1 .1 .2 .2 0 .2 .1 .2 0 .2 0 .2 .1 .2 .2 .2-.1 .2-.3 .2-.1 .2-.1 .2 .1 .2 .1 .2 .1 .2-.1 .2 0 .2 .1 .2 .1 .2-.2 .2-.2 .2 0 .2 0 .2 .1 .2 .1 .2 .1 .2 .1 .1 .1 .2-.3 .2-.2 .2 .1 .2 0 .2 0 .2 0 .2 0 .2-.1 .2 .2 .2 .1 .2 0 .2-.2 .2 0 .2 0 .2 0 .2 0 .2-.1 .2-.1 .2-.2 .2 .2 .2 .1 .2 .1 .2 .2 .2-.1 .2-.1 .1 0 .2 .1 .2 0 .2-.2 .2 0 .2 .1 .2 .1 .2-.1 .2 0 .2 0 .2 0 .2 0 .2 .1 .2-.1 .2-.1 .2-.1 .2 .1 .2 .1 .2 .1 .2 .1 .2-.1 .2-.1 .2 0 .2 0 .2 0 .2-.1 .1 .1 .2 .1 .2 .1 .2 0 .2-.2 .2-.2 .2 0 .2 .2 .2 .1 .2-.2 .2-.1 .2 0 .2 .1 .2 .1 .2 .1 .2-.2 .2-.1 .2-.1 .2 0 .2 .1 .2 .1 .2 .1 .2 0 .2-.1 .2-.2 .2-.1 .1 .2 .2 .2 .2 0 .2-.1 .2 .1 .2 .1 .2-.1 .2-.1 .2-.1 .2 0 .2 0 .2 .2 .2 .1 .2-.2 .2-.2 .2 .1 .2 .1 .2-.1 .2-.1 .2 0 .2 .1 .2 .1 .2 .1 .2-.1 .2-.1 .2 0 .1 0 .2 0 .2 0 .2 0 .2 .1 .2 .1 .2 .1 .2 .2 .2-.1 .2-.2 .2 0 .2 0 .2 .1 .2 .1 .2 0 .2-.2 .2-.1 .2-.3 .2-.2 .2 .3 .2 .2 .2 0 .2 0 .2 0 .2 .1 .2 0 .1 0 .2 0 .2 0 .2-.1 .2 .1 .2-.1 .2-.1 .2-.1 .2 .2 .2 .2 .2-.2 .2-.1 .2-.2 .2-.2 .2 .2 .2 .3 .2 .1 .2 0 .2 .1 .2 0 .2-.1 .2-.2 .2-.1 .2 .1 .2 .1 .2 0 .1 .1 .2 0 .2 0 .2 0 .2-.1 .2 0 .2 .1 .2 0 .2 .1 .2 0 .2-.1 .2 0 .2-.1 .2 0 .2 0 .2-.1 .2 0 .2-.1 .2 0 .2 .1 .2 .1 .2 .1 .2 .1 .2-.1 .2-.1 .2 0 .1-.1 .2 .1 .2 .1 .2-.1 .2-.1 .2 0 .2 .1 .2 0 .2 0 .2 0 .2 .1 .2 0 .2 0 .2-.1 .2-.1 .2-.1 .2 .1 .2 .1 .2 0 .2-.1 .2 0 .2 0 .2 .1 .2 .1 .2 0 .2 0 .1 0 .2-.1 .2-.1 .2 0 .2 .1 .2 .1 .2 .1 .2 0 .2-.1 .2-.2 .2-.1 .2 .1 .2 .2 .2 0 .2 0 .2 0 .2 .1 .2 0 .2-.1 .2-.1 .2 0 .2 0 .2 0 .2 0 .2-.1 .2 0 .1-.3 .2-.4 .2 .1 .2 .3 .2 .2 .2 .3 .2 0 .2-.2 .2-.2 .2 .2 .2 .1 .2 .1 .2 0 .2-.2 .2-.2 .2 0 .2 .1 .2 .1 .2 0 .2 .1 .2 .1 .2 0 .2-.2 .2-.2 .2-.1 .2-.1 .1 .2 .2 .2 .2-.1 .2 0 .2-.1 .2 0 .2 .1 .2 .1 .2 .1 .2 .1 .2 0 .2-.1 .2-.1 .2 0 .2 0 .2 .2 .2 .1 .2-.1 .2-.2 .2 .1 .2 .1 .2 0 .2-.2 .2-.1 .2 .1 .2 0 .1-.1 .2 0 .2 .1 .2 .1 .2-.2 .2-.1 .2 .1 .2 .2 .2 .1 .2 .1 .2 0 .2-.1 .2-.1 .2 0 .2-.1 .2-.1 .2 0 .2 .1 .2 0 .2 0 .2 0 .2 0 .2 .1 .2-.1 .2-.1 .2 0 .1 .1 .2 0 .2 .1 .2 0 .2 .1 .2 .1 .2 .1 .2 .1 .2-.3 .2-.3 .2 0 .2 0 .2 0 .2 0 .2 0 .2 .1 .2 .1 .2 0 .2-.1 .2-.1 .2-.1 .2 0 .2-.1 .2 .3 .2 .3 .2-.1 .1-.2 .2 0 .2 0 .2 0 .2 .1 .2 0 .2 0 .2-.1 .2 0 .2 0 .2 0 .2 0 .2 .1 .2 0 .2 .1 .2 .1 .2-.2 .2-.2 .2-.1 .2 .1 .2 0 .2-.1 .2 0 .2 0 .2 0 .2 .1 .2 0 .1-.1 .2-.1 .2 .1 .2 .1 .2 0 .2 .1 .2 0 .2-.1 .2 0 .2 0 .2 0 .2-.1 .2 0 .2 0 .2 .1 .2 .1 .2 .2 .2-.1 .2-.1 .2-.1 .2-.1 .2 0 .2 0 .2 .1 .2 .1 .2 0 .1 .1 .2 0 .2-.1 .2-.2 .2 0 .2 .1 .2 .1 .2 .2 .2-.1 .2-.2 .2 .1 .2 .1 .2 0 .2-.2 .2-.2 .2 .1 .2-.1 .2 0 .2-.1 .2-.2 .2-.2 .2-.1 .2-.2 .2 0 .2 .5 .2 .3 .1 .2 .2 .3 .2 0 .2-.1 .2-.1 .2-.1 .2 0 .2-.1 .2-.1 .2 0 .2-.2 .2-.2 .2 .2 .2 .2 .2 .2 .2 0 .2 0 .2 0 .2 0 .2 0 .2 .1 .2-.2 .2-.2 .2 .1 .2 0 .2 0 .1 .1 .2 .2 .2 .2 .2-.1 .2-.3 .2-.1 .2 .1 .1 0 .1 0 0 0 .1 0 .1 0 0 0 .1 0 .1 0 .1 0 0-.1 .1-.1 .1 0 0-.1 .1 0 .1 .1 0 0 .1 .1 .1 0 .1 .1 0 0 .1 0 .1 0 0 0 .1 0 .1 0 0 0 .1 0 .1 0 .1 .1 0 0 .1 0 .1 0 0 0 .1-.1 .1 0 0 0 .1 0 .1 0 .1 0 0 0 .1 0 .1 0 0 .1 .1 0 .1 0 0 0 .1 0 .1-.1 .1 0 0 0 .1 0 .1 0 0 0 .1 0 .1 0 0 0 .1 .1 .1 .1 .1 0 0 .1 .1 0 .1 .1 0-.1 .1 0 .1-.1 0 0 .1-.1 .1 0 .1 0 0 0 .1 0 .1 0 .2-.1 .2-.1 .2-.1 .2 .1 .1 0 .2 .1 .2 0 .2 .1 .2 0 .2-.1 .2-.1 .2-.1 .2 0 .2 0 .2-.1 .2 0 .2-.1 .2 0 .2 0 .2 .1 .2-.2 .2-.3 .2-.2 .2-.2 .2-.1 .2-.2 .2-.1 .2-.2 .2-.1 .2-.1 .1-.1 .2-.3 .2-.1 .2 0 .2-.1 .2 0 .2-.1 .2 0 .2 0 .2 0 .2-.1 .2 0 .2 .1 .2 0 .2-.2 .2-.1 .2 .2 .2 0 .2-.3 .2-.3 .2 .1 .2 .2 .2-.2 .2-.3 .2 .1" stroke="#0000ff" stroke-width="1.40"/>
</g>
<path d="M46.40,290.40V382.00H536.80M46.40,382.00v-5M116.46,382.00v-5M186.51,382.00v-5M256.57,382.00v-5M326.63,382.00v-5M396.69,382.00v-5M466.74,382.00v-5M536.80,382.00v-5M46.40,291.52h5M46.40,321.70h5M46.40,351.88h5M46.40,382.05h5" stroke="#262626" stroke-width="1.1" fill="none"/>
<g font-family="Liberation Sans, Arial, Helvetica, sans-serif" font-size="12.7" fill="#262626" stroke="#262626" stroke-width="0.12">
<text x="45.20" y="398.10" text-anchor="middle">0</text>
<text x="114.96" y="398.10" text-anchor="middle">50</text>
<text x="184.61" y="398.10" text-anchor="middle">100</text>
<text x="254.67" y="398.10" text-anchor="middle">150</text>
<text x="324.73" y="398.10" text-anchor="middle">200</text>
<text x="394.79" y="398.10" text-anchor="middle">250</text>
<text x="464.84" y="398.10" text-anchor="middle">300</text>
<text x="534.90" y="398.10" text-anchor="middle">350</text>
<text x="39.9" y="295.62" text-anchor="end">5</text>
<text x="39.9" y="325.80" text-anchor="end">0</text>
<text x="39.9" y="355.98" text-anchor="end">-5</text>
<text x="39.9" y="386.15" text-anchor="end">-10</text>
</g>
<g font-family="Liberation Sans, Arial, Helvetica, sans-serif" font-size="14" fill="#262626" stroke="#262626" stroke-width="0.12">
<text x="287.3" y="414.70" text-anchor="middle">time (s)</text>
<text transform="translate(16.7,340.50) rotate(-90)" text-anchor="middle">yaw (deg)</text>
</g>
</svg>
</body></html>
